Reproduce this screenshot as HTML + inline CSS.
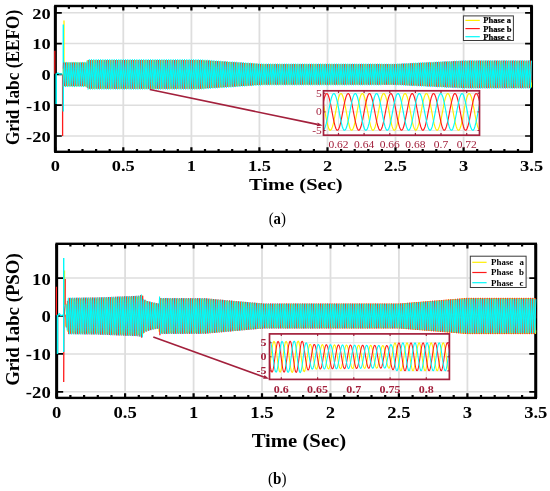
<!DOCTYPE html>
<html lang="en"><head><meta charset="utf-8"><title>Grid Iabc</title>
<style>html,body{margin:0;padding:0;background:#fff}svg{display:block}text{font-family:"Liberation Serif",serif}</style></head>
<body>
<svg width="550" height="491" viewBox="0 0 550 491">
<rect width="550" height="491" fill="#fff"/>
<g>
<line x1="123.3" y1="6.0" x2="123.3" y2="151.8" stroke="#dedede" stroke-width="1.8"/>
<line x1="191.4" y1="6.0" x2="191.4" y2="151.8" stroke="#dedede" stroke-width="1.8"/>
<line x1="259.4" y1="6.0" x2="259.4" y2="151.8" stroke="#dedede" stroke-width="1.8"/>
<line x1="327.5" y1="6.0" x2="327.5" y2="151.8" stroke="#dedede" stroke-width="1.8"/>
<line x1="395.5" y1="6.0" x2="395.5" y2="151.8" stroke="#dedede" stroke-width="1.8"/>
<line x1="463.6" y1="6.0" x2="463.6" y2="151.8" stroke="#dedede" stroke-width="1.8"/>
<line x1="55.3" y1="12.8" x2="531.6" y2="12.8" stroke="#dedede" stroke-width="1.5"/>
<line x1="55.3" y1="43.6" x2="531.6" y2="43.6" stroke="#dedede" stroke-width="1.5"/>
<line x1="55.3" y1="74.4" x2="531.6" y2="74.4" stroke="#dedede" stroke-width="1.5"/>
<line x1="55.3" y1="105.2" x2="531.6" y2="105.2" stroke="#dedede" stroke-width="1.5"/>
<line x1="55.3" y1="136" x2="531.6" y2="136" stroke="#dedede" stroke-width="1.5"/>
<path d="M55.3 6.0v4.6M55.3 151.8v-4.6" stroke="#000" stroke-width="2.2"/>
<path d="M68.9 6.0v2.8M68.9 151.8v-2.8" stroke="#000" stroke-width="2.2"/>
<path d="M82.5 6.0v2.8M82.5 151.8v-2.8" stroke="#000" stroke-width="2.2"/>
<path d="M96.1 6.0v2.8M96.1 151.8v-2.8" stroke="#000" stroke-width="2.2"/>
<path d="M109.7 6.0v2.8M109.7 151.8v-2.8" stroke="#000" stroke-width="2.2"/>
<path d="M123.3 6.0v4.6M123.3 151.8v-4.6" stroke="#000" stroke-width="2.2"/>
<path d="M137 6.0v2.8M137 151.8v-2.8" stroke="#000" stroke-width="2.2"/>
<path d="M150.6 6.0v2.8M150.6 151.8v-2.8" stroke="#000" stroke-width="2.2"/>
<path d="M164.2 6.0v2.8M164.2 151.8v-2.8" stroke="#000" stroke-width="2.2"/>
<path d="M177.8 6.0v2.8M177.8 151.8v-2.8" stroke="#000" stroke-width="2.2"/>
<path d="M191.4 6.0v4.6M191.4 151.8v-4.6" stroke="#000" stroke-width="2.2"/>
<path d="M205 6.0v2.8M205 151.8v-2.8" stroke="#000" stroke-width="2.2"/>
<path d="M218.6 6.0v2.8M218.6 151.8v-2.8" stroke="#000" stroke-width="2.2"/>
<path d="M232.2 6.0v2.8M232.2 151.8v-2.8" stroke="#000" stroke-width="2.2"/>
<path d="M245.8 6.0v2.8M245.8 151.8v-2.8" stroke="#000" stroke-width="2.2"/>
<path d="M259.4 6.0v4.6M259.4 151.8v-4.6" stroke="#000" stroke-width="2.2"/>
<path d="M273 6.0v2.8M273 151.8v-2.8" stroke="#000" stroke-width="2.2"/>
<path d="M286.6 6.0v2.8M286.6 151.8v-2.8" stroke="#000" stroke-width="2.2"/>
<path d="M300.3 6.0v2.8M300.3 151.8v-2.8" stroke="#000" stroke-width="2.2"/>
<path d="M313.9 6.0v2.8M313.9 151.8v-2.8" stroke="#000" stroke-width="2.2"/>
<path d="M327.5 6.0v4.6M327.5 151.8v-4.6" stroke="#000" stroke-width="2.2"/>
<path d="M341.1 6.0v2.8M341.1 151.8v-2.8" stroke="#000" stroke-width="2.2"/>
<path d="M354.7 6.0v2.8M354.7 151.8v-2.8" stroke="#000" stroke-width="2.2"/>
<path d="M368.3 6.0v2.8M368.3 151.8v-2.8" stroke="#000" stroke-width="2.2"/>
<path d="M381.9 6.0v2.8M381.9 151.8v-2.8" stroke="#000" stroke-width="2.2"/>
<path d="M395.5 6.0v4.6M395.5 151.8v-4.6" stroke="#000" stroke-width="2.2"/>
<path d="M409.1 6.0v2.8M409.1 151.8v-2.8" stroke="#000" stroke-width="2.2"/>
<path d="M422.7 6.0v2.8M422.7 151.8v-2.8" stroke="#000" stroke-width="2.2"/>
<path d="M436.3 6.0v2.8M436.3 151.8v-2.8" stroke="#000" stroke-width="2.2"/>
<path d="M449.9 6.0v2.8M449.9 151.8v-2.8" stroke="#000" stroke-width="2.2"/>
<path d="M463.6 6.0v4.6M463.6 151.8v-4.6" stroke="#000" stroke-width="2.2"/>
<path d="M477.2 6.0v2.8M477.2 151.8v-2.8" stroke="#000" stroke-width="2.2"/>
<path d="M490.8 6.0v2.8M490.8 151.8v-2.8" stroke="#000" stroke-width="2.2"/>
<path d="M504.4 6.0v2.8M504.4 151.8v-2.8" stroke="#000" stroke-width="2.2"/>
<path d="M518 6.0v2.8M518 151.8v-2.8" stroke="#000" stroke-width="2.2"/>
<path d="M531.6 6.0v4.6M531.6 151.8v-4.6" stroke="#000" stroke-width="2.2"/>
<path d="M55.3 12.8h6.5M531.6 12.8h-6.5" stroke="#000" stroke-width="1.7"/>
<path d="M55.3 43.6h6.5M531.6 43.6h-6.5" stroke="#000" stroke-width="1.7"/>
<path d="M55.3 74.4h6.5M531.6 74.4h-6.5" stroke="#000" stroke-width="1.7"/>
<path d="M55.3 105.2h6.5M531.6 105.2h-6.5" stroke="#000" stroke-width="1.7"/>
<path d="M55.3 136h6.5M531.6 136h-6.5" stroke="#000" stroke-width="1.7"/>
<rect x="55.3" y="6.0" width="476.3" height="145.8" fill="none" stroke="#000" stroke-width="2.4"/>
<line x1="55.3" y1="6.0" x2="55.3" y2="151.8" stroke="#000" stroke-width="2.9"/>
<line x1="531.6" y1="6.0" x2="531.6" y2="151.8" stroke="#000" stroke-width="2.9"/>
<line x1="54.8" y1="73.8" x2="54.8" y2="50.7" stroke="#ff1a1a" stroke-width="1.2"/>
<line x1="56.2" y1="73.5" x2="56.2" y2="104.0" stroke="#00fafa" stroke-width="1.5"/>
<polyline points="56.4,73.8 58.0,72.9 59.4,74.1 62.1,73.8" fill="none" stroke="#00fafa" stroke-width="1.2"/>
<line x1="64.0" y1="74.4" x2="64.0" y2="20.5" stroke="#ffee00" stroke-width="1.3"/>
<line x1="62.6" y1="74.4" x2="62.6" y2="136.0" stroke="#ff1a1a" stroke-width="1.3"/>
<line x1="63.3" y1="24.5" x2="63.3" y2="111.4" stroke="#00fafa" stroke-width="1.4"/>
<polyline points="63.2,68.1 63.5,77.3 63.8,84.8 64.0,86.2 64.3,80.7 64.6,71.5 64.9,64.0 65.2,62.6 65.5,68.1 65.7,77.3 66.0,84.8 66.3,86.2 66.6,80.7 66.9,71.5 67.2,64.0 67.4,62.6 67.7,68.1 68.0,77.3 68.3,84.8 68.6,86.2 68.9,80.7 69.1,71.5 69.4,64.0 69.7,62.6 70.0,68.1 70.3,77.3 70.6,84.8 70.8,86.2 71.1,80.7 71.4,71.5 71.7,64.0 72.0,62.6 72.3,68.1 72.5,77.3 72.8,84.8 73.1,86.2 73.4,80.7 73.7,71.5 74.0,64.0 74.3,62.6 74.5,68.1 74.8,77.3 75.1,84.8 75.4,86.2 75.7,80.7 76.0,71.5 76.2,64.0 76.5,62.6 76.8,68.1 77.1,77.3 77.4,84.8 77.7,86.2 77.9,80.7 78.2,71.5 78.5,64.0 78.8,62.6 79.1,68.1 79.4,77.4 79.6,84.8 79.9,86.2 80.2,80.7 80.5,71.4 80.8,64.0 81.1,62.6 81.3,68.1 81.6,77.4 81.9,84.8 82.2,86.2 82.5,80.6 82.8,71.4 83.0,64.0 83.3,62.6 83.6,68.2 83.9,77.4 84.2,84.8 84.5,86.2 84.7,80.6 85.0,71.4 85.3,64.0 85.6,62.6 85.9,68.2 86.2,77.4 86.4,85.0 86.7,86.9 87.0,81.3 87.3,71.0 87.6,61.9 87.9,60.1 88.1,66.8 88.4,78.0 88.7,87.1 89.0,88.7 89.3,82.0 89.6,70.8 89.8,61.7 90.1,60.1 90.4,66.8 90.7,78.0 91.0,87.1 91.3,88.7 91.5,82.0 91.8,70.8 92.1,61.7 92.4,60.1 92.7,66.8 93.0,78.0 93.2,87.1 93.5,88.7 93.8,82.0 94.1,70.8 94.4,61.7 94.7,60.1 94.9,66.8 95.2,78.0 95.5,87.1 95.8,88.7 96.1,81.9 96.4,70.7 96.7,61.7 96.9,60.1 97.2,66.9 97.5,78.1 97.8,87.1 98.1,88.7 98.4,81.9 98.6,70.7 98.9,61.7 99.2,60.1 99.5,66.9 99.8,78.1 100.1,87.1 100.3,88.7 100.6,81.9 100.9,70.7 101.2,61.7 101.5,60.1 101.8,66.9 102.0,78.1 102.3,87.1 102.6,88.7 102.9,81.9 103.2,70.7 103.5,61.7 103.7,60.1 104.0,66.9 104.3,78.1 104.6,87.1 104.9,88.7 105.2,81.9 105.4,70.7 105.7,61.7 106.0,60.1 106.3,66.9 106.6,78.1 106.9,87.1 107.1,88.7 107.4,81.9 107.7,70.7 108.0,61.7 108.3,60.1 108.6,66.9 108.8,78.1 109.1,87.1 109.4,88.7 109.7,81.9 110.0,70.7 110.3,61.7 110.5,60.1 110.8,66.9 111.1,78.1 111.4,87.1 111.7,88.7 112.0,81.9 112.2,70.7 112.5,61.7 112.8,60.1 113.1,66.9 113.4,78.1 113.7,87.1 113.9,88.7 114.2,81.9 114.5,70.7 114.8,61.6 115.1,60.1 115.4,66.9 115.6,78.1 115.9,87.2 116.2,88.7 116.5,81.9 116.8,70.7 117.1,61.6 117.3,60.1 117.6,66.9 117.9,78.1 118.2,87.2 118.5,88.7 118.8,81.9 119.1,70.7 119.3,61.6 119.6,60.1 119.9,66.9 120.2,78.1 120.5,87.2 120.8,88.7 121.0,81.9 121.3,70.7 121.6,61.6 121.9,60.1 122.2,66.9 122.5,78.2 122.7,87.2 123.0,88.7 123.3,81.9 123.6,70.6 123.9,61.6 124.2,60.1 124.4,67.0 124.7,78.2 125.0,87.2 125.3,88.7 125.6,81.8 125.9,70.6 126.1,61.6 126.4,60.1 126.7,67.0 127.0,78.2 127.3,87.2 127.6,88.7 127.8,81.8 128.1,70.6 128.4,61.6 128.7,60.1 129.0,67.0 129.3,78.2 129.5,87.2 129.8,88.7 130.1,81.8 130.4,70.6 130.7,61.6 131.0,60.1 131.2,67.0 131.5,78.2 131.8,87.2 132.1,88.7 132.4,81.8 132.7,70.6 132.9,61.6 133.2,60.1 133.5,67.0 133.8,78.2 134.1,87.2 134.4,88.7 134.6,81.8 134.9,70.6 135.2,61.6 135.5,60.1 135.8,67.0 136.1,78.2 136.3,87.2 136.6,88.7 136.9,81.8 137.2,70.6 137.5,61.6 137.8,60.1 138.0,67.0 138.3,78.2 138.6,87.2 138.9,88.7 139.2,81.8 139.5,70.6 139.7,61.6 140.0,60.1 140.3,67.0 140.6,78.2 140.9,87.2 141.2,88.7 141.4,81.8 141.7,70.6 142.0,61.6 142.3,60.1 142.6,67.0 142.9,78.2 143.2,87.2 143.4,88.7 143.7,81.8 144.0,70.6 144.3,61.6 144.6,60.1 144.9,67.0 145.1,78.2 145.4,87.2 145.7,88.7 146.0,81.8 146.3,70.6 146.6,61.6 146.8,60.1 147.1,67.0 147.4,78.2 147.7,87.2 148.0,88.7 148.3,81.8 148.5,70.5 148.8,61.6 149.1,60.1 149.4,67.0 149.7,78.3 150.0,87.2 150.2,88.7 150.5,81.8 150.8,70.5 151.1,61.6 151.4,60.1 151.7,67.0 151.9,78.3 152.2,87.2 152.5,88.7 152.8,81.8 153.1,70.5 153.4,61.6 153.6,60.1 153.9,67.1 154.2,78.3 154.5,87.2 154.8,88.7 155.1,81.7 155.3,70.5 155.6,61.6 155.9,60.1 156.2,67.1 156.5,78.3 156.8,87.2 157.0,88.7 157.3,81.7 157.6,70.5 157.9,61.6 158.2,60.1 158.5,67.1 158.7,78.3 159.0,87.2 159.3,88.7 159.6,81.7 159.9,70.5 160.2,61.6 160.4,60.1 160.7,67.1 161.0,78.3 161.3,87.2 161.6,88.7 161.9,81.7 162.1,70.5 162.4,61.6 162.7,60.1 163.0,67.1 163.3,78.3 163.6,87.2 163.8,88.7 164.1,81.7 164.4,70.5 164.7,61.6 165.0,60.1 165.3,67.1 165.6,78.3 165.8,87.3 166.1,88.7 166.4,81.7 166.7,70.5 167.0,61.5 167.3,60.1 167.5,67.1 167.8,78.3 168.1,87.3 168.4,88.7 168.7,81.7 169.0,70.5 169.2,61.5 169.5,60.1 169.8,67.1 170.1,78.3 170.4,87.3 170.7,88.6 170.9,81.7 171.2,70.5 171.5,61.5 171.8,60.2 172.1,67.1 172.4,78.3 172.6,87.3 172.9,88.6 173.2,81.7 173.5,70.5 173.8,61.5 174.1,60.2 174.3,67.1 174.6,78.4 174.9,87.3 175.2,88.6 175.5,81.7 175.8,70.4 176.0,61.5 176.3,60.2 176.6,67.1 176.9,78.4 177.2,87.3 177.5,88.6 177.7,81.7 178.0,70.4 178.3,61.5 178.6,60.2 178.9,67.1 179.2,78.4 179.4,87.3 179.7,88.6 180.0,81.7 180.3,70.4 180.6,61.5 180.9,60.2 181.1,67.1 181.4,78.4 181.7,87.3 182.0,88.6 182.3,81.7 182.6,70.4 182.8,61.5 183.1,60.2 183.4,67.2 183.7,78.4 184.0,87.3 184.3,88.6 184.5,81.6 184.8,70.4 185.1,61.5 185.4,60.2 185.7,67.2 186.0,78.4 186.2,87.3 186.5,88.6 186.8,81.6 187.1,70.4 187.4,61.5 187.7,60.2 188.0,67.2 188.2,78.4 188.5,87.3 188.8,88.6 189.1,81.6 189.4,70.4 189.7,61.5 189.9,60.2 190.2,67.2 190.5,78.4 190.8,87.3 191.1,88.6 191.4,81.6 191.6,70.4 191.9,61.5 192.2,60.2 192.5,67.2 192.8,78.4 193.1,87.3 193.3,88.6 193.6,81.6 193.9,70.4 194.2,61.5 194.5,60.2 194.8,67.2 195.0,78.4 195.3,87.3 195.6,88.6 195.9,81.6 196.2,70.4 196.5,61.5 196.7,60.2 197.0,67.2 197.3,78.4 197.6,87.3 197.9,88.6 198.2,81.6 198.4,70.4 198.7,61.5 199.0,60.2 199.3,67.2 199.6,78.4 199.9,87.3 200.1,88.6 200.4,81.6 200.7,70.4 201.0,61.6 201.3,60.3 201.6,67.3 201.8,78.4 202.1,87.2 202.4,88.4 202.7,81.5 203.0,70.4 203.3,61.7 203.5,60.4 203.8,67.4 204.1,78.4 204.4,87.0 204.7,88.3 205.0,81.4 205.2,70.4 205.5,61.8 205.8,60.6 206.1,67.4 206.4,78.3 206.7,86.9 206.9,88.1 207.2,81.3 207.5,70.5 207.8,62.0 208.1,60.7 208.4,67.5 208.6,78.3 208.9,86.8 209.2,88.0 209.5,81.2 209.8,70.5 210.1,62.1 210.3,60.9 210.6,67.6 210.9,78.3 211.2,86.7 211.5,87.8 211.8,81.2 212.1,70.5 212.3,62.2 212.6,61.0 212.9,67.7 213.2,78.2 213.5,86.5 213.8,87.7 214.0,81.1 214.3,70.6 214.6,62.3 214.9,61.2 215.2,67.8 215.5,78.2 215.7,86.4 216.0,87.5 216.3,81.0 216.6,70.6 216.9,62.5 217.2,61.3 217.4,67.9 217.7,78.2 218.0,86.3 218.3,87.4 218.6,80.9 218.9,70.6 219.1,62.6 219.4,61.5 219.7,67.9 220.0,78.1 220.3,86.1 220.6,87.2 220.8,80.8 221.1,70.7 221.4,62.7 221.7,61.6 222.0,68.0 222.3,78.1 222.5,86.0 222.8,87.1 223.1,80.7 223.4,70.7 223.7,62.9 224.0,61.8 224.2,68.1 224.5,78.1 224.8,85.9 225.1,86.9 225.4,80.7 225.7,70.7 225.9,63.0 226.2,61.9 226.5,68.2 226.8,78.0 227.1,85.7 227.4,86.8 227.6,80.6 227.9,70.8 228.2,63.1 228.5,62.1 228.8,68.3 229.1,78.0 229.3,85.6 229.6,86.6 229.9,80.5 230.2,70.8 230.5,63.3 230.8,62.2 231.0,68.3 231.3,78.0 231.6,85.5 231.9,86.5 232.2,80.4 232.5,70.9 232.7,63.4 233.0,62.4 233.3,68.4 233.6,77.9 233.9,85.4 234.2,86.3 234.5,80.3 234.7,70.9 235.0,63.5 235.3,62.5 235.6,68.5 235.9,77.9 236.2,85.2 236.4,86.2 236.7,80.3 237.0,70.9 237.3,63.6 237.6,62.7 237.9,68.6 238.1,77.9 238.4,85.1 238.7,86.0 239.0,80.2 239.3,71.0 239.6,63.8 239.8,62.8 240.1,68.7 240.4,77.8 240.7,85.0 241.0,85.9 241.3,80.1 241.5,71.0 241.8,63.9 242.1,63.0 242.4,68.7 242.7,77.8 243.0,84.8 243.2,85.7 243.5,80.0 243.8,71.0 244.1,64.0 244.4,63.1 244.7,68.8 244.9,77.7 245.2,84.7 245.5,85.6 245.8,79.9 246.1,71.1 246.4,64.2 246.6,63.3 246.9,68.9 247.2,77.7 247.5,84.6 247.8,85.4 248.1,79.9 248.3,71.1 248.6,64.3 248.9,63.4 249.2,69.0 249.5,77.7 249.8,84.4 250.0,85.3 250.3,79.8 250.6,71.1 250.9,64.4 251.2,63.6 251.5,69.0 251.7,77.6 252.0,84.3 252.3,85.2 252.6,79.7 252.9,71.2 253.2,64.6 253.4,63.7 253.7,69.1 254.0,77.6 254.3,84.2 254.6,85.0 254.9,79.6 255.1,71.2 255.4,64.7 255.7,63.9 256.0,69.2 256.3,77.6 256.6,84.0 256.9,84.9 257.1,79.6 257.4,71.3 257.7,64.8 258.0,64.0 258.3,69.3 258.6,77.5 258.8,83.9 259.1,84.7 259.4,79.5 259.7,71.3 260.0,65.0 260.3,64.2 260.5,69.4 260.8,77.5 261.1,83.8 261.4,84.6 261.7,79.4 262.0,71.3 262.2,65.1 262.5,64.3 262.8,69.4 263.1,77.4 263.4,83.6 263.7,84.4 263.9,79.3 264.2,71.4 264.5,65.2 264.8,64.4 265.1,69.5 265.4,77.4 265.6,83.6 265.9,84.4 266.2,79.3 266.5,71.4 266.8,65.2 267.1,64.4 267.3,69.5 267.6,77.5 267.9,83.6 268.2,84.4 268.5,79.3 268.8,71.3 269.0,65.2 269.3,64.4 269.6,69.5 269.9,77.5 270.2,83.6 270.5,84.4 270.7,79.3 271.0,71.3 271.3,65.2 271.6,64.4 271.9,69.5 272.2,77.5 272.4,83.6 272.7,84.4 273.0,79.3 273.3,71.3 273.6,65.2 273.9,64.4 274.1,69.5 274.4,77.5 274.7,83.7 275.0,84.4 275.3,79.3 275.6,71.3 275.8,65.1 276.1,64.4 276.4,69.5 276.7,77.5 277.0,83.7 277.3,84.4 277.5,79.3 277.8,71.3 278.1,65.1 278.4,64.4 278.7,69.5 279.0,77.5 279.2,83.7 279.5,84.4 279.8,79.3 280.1,71.3 280.4,65.1 280.7,64.4 281.0,69.5 281.2,77.5 281.5,83.7 281.8,84.4 282.1,79.3 282.4,71.3 282.7,65.1 282.9,64.4 283.2,69.5 283.5,77.5 283.8,83.7 284.1,84.4 284.4,79.3 284.6,71.3 284.9,65.1 285.2,64.4 285.5,69.5 285.8,77.5 286.1,83.7 286.3,84.4 286.6,79.3 286.9,71.3 287.2,65.1 287.5,64.4 287.8,69.5 288.0,77.5 288.3,83.7 288.6,84.4 288.9,79.3 289.2,71.3 289.5,65.1 289.7,64.4 290.0,69.5 290.3,77.5 290.6,83.7 290.9,84.4 291.2,79.3 291.4,71.3 291.7,65.1 292.0,64.4 292.3,69.5 292.6,77.5 292.9,83.7 293.1,84.4 293.4,79.3 293.7,71.3 294.0,65.1 294.3,64.4 294.6,69.5 294.8,77.5 295.1,83.7 295.4,84.4 295.7,79.3 296.0,71.3 296.3,65.1 296.5,64.4 296.8,69.5 297.1,77.5 297.4,83.7 297.7,84.4 298.0,79.3 298.2,71.3 298.5,65.1 298.8,64.4 299.1,69.6 299.4,77.5 299.7,83.7 299.9,84.4 300.2,79.2 300.5,71.3 300.8,65.1 301.1,64.4 301.4,69.6 301.6,77.5 301.9,83.7 302.2,84.4 302.5,79.2 302.8,71.3 303.1,65.1 303.4,64.4 303.6,69.6 303.9,77.5 304.2,83.7 304.5,84.4 304.8,79.2 305.1,71.2 305.3,65.1 305.6,64.4 305.9,69.6 306.2,77.6 306.5,83.7 306.8,84.4 307.0,79.2 307.3,71.2 307.6,65.1 307.9,64.4 308.2,69.6 308.5,77.6 308.7,83.7 309.0,84.4 309.3,79.2 309.6,71.2 309.9,65.1 310.2,64.4 310.4,69.6 310.7,77.6 311.0,83.7 311.3,84.4 311.6,79.2 311.9,71.2 312.1,65.1 312.4,64.4 312.7,69.6 313.0,77.6 313.3,83.7 313.6,84.4 313.8,79.2 314.1,71.2 314.4,65.1 314.7,64.4 315.0,69.6 315.3,77.6 315.5,83.7 315.8,84.4 316.1,79.2 316.4,71.2 316.7,65.1 317.0,64.4 317.2,69.6 317.5,77.6 317.8,83.7 318.1,84.4 318.4,79.2 318.7,71.2 318.9,65.1 319.2,64.4 319.5,69.6 319.8,77.6 320.1,83.7 320.4,84.4 320.6,79.2 320.9,71.2 321.2,65.1 321.5,64.4 321.8,69.6 322.1,77.6 322.3,83.7 322.6,84.4 322.9,79.2 323.2,71.2 323.5,65.1 323.8,64.4 324.0,69.6 324.3,77.6 324.6,83.7 324.9,84.4 325.2,79.2 325.5,71.2 325.8,65.1 326.0,64.4 326.3,69.6 326.6,77.6 326.9,83.7 327.2,84.4 327.5,79.2 327.7,71.2 328.0,65.1 328.3,64.4 328.6,69.6 328.9,77.6 329.2,83.7 329.4,84.4 329.7,79.2 330.0,71.2 330.3,65.1 330.6,64.4 330.9,69.6 331.1,77.6 331.4,83.7 331.7,84.4 332.0,79.2 332.3,71.2 332.6,65.1 332.8,64.4 333.1,69.6 333.4,77.6 333.7,83.7 334.0,84.4 334.3,79.2 334.5,71.2 334.8,65.1 335.1,64.4 335.4,69.6 335.7,77.6 336.0,83.7 336.2,84.4 336.5,79.2 336.8,71.2 337.1,65.1 337.4,64.4 337.7,69.6 337.9,77.6 338.2,83.7 338.5,84.4 338.8,79.1 339.1,71.2 339.4,65.1 339.6,64.4 339.9,69.7 340.2,77.6 340.5,83.7 340.8,84.4 341.1,79.1 341.3,71.2 341.6,65.1 341.9,64.4 342.2,69.7 342.5,77.7 342.8,83.7 343.0,84.4 343.3,79.1 343.6,71.1 343.9,65.1 344.2,64.4 344.5,69.7 344.7,77.7 345.0,83.7 345.3,84.4 345.6,79.1 345.9,71.1 346.2,65.1 346.4,64.4 346.7,69.7 347.0,77.7 347.3,83.7 347.6,84.3 347.9,79.1 348.2,71.1 348.4,65.1 348.7,64.5 349.0,69.7 349.3,77.7 349.6,83.7 349.9,84.3 350.1,79.1 350.4,71.1 350.7,65.1 351.0,64.5 351.3,69.7 351.6,77.7 351.8,83.8 352.1,84.3 352.4,79.1 352.7,71.1 353.0,65.0 353.3,64.5 353.5,69.7 353.8,77.7 354.1,83.8 354.4,84.3 354.7,79.1 355.0,71.1 355.2,65.0 355.5,64.5 355.8,69.7 356.1,77.7 356.4,83.8 356.7,84.3 356.9,79.1 357.2,71.1 357.5,65.0 357.8,64.5 358.1,69.7 358.4,77.7 358.6,83.8 358.9,84.3 359.2,79.1 359.5,71.1 359.8,65.0 360.1,64.5 360.3,69.7 360.6,77.7 360.9,83.8 361.2,84.3 361.5,79.1 361.8,71.1 362.0,65.0 362.3,64.5 362.6,69.7 362.9,77.7 363.2,83.8 363.5,84.3 363.7,79.1 364.0,71.1 364.3,65.0 364.6,64.5 364.9,69.7 365.2,77.7 365.4,83.8 365.7,84.3 366.0,79.1 366.3,71.1 366.6,65.0 366.9,64.5 367.1,69.7 367.4,77.7 367.7,83.8 368.0,84.3 368.3,79.1 368.6,71.1 368.8,65.0 369.1,64.5 369.4,69.7 369.7,77.7 370.0,83.8 370.3,84.3 370.5,79.1 370.8,71.1 371.1,65.0 371.4,64.5 371.7,69.7 372.0,77.7 372.3,83.8 372.5,84.3 372.8,79.1 373.1,71.1 373.4,65.0 373.7,64.5 374.0,69.7 374.2,77.7 374.5,83.8 374.8,84.3 375.1,79.1 375.4,71.1 375.7,65.0 375.9,64.5 376.2,69.7 376.5,77.7 376.8,83.8 377.1,84.3 377.4,79.1 377.6,71.1 377.9,65.0 378.2,64.5 378.5,69.8 378.8,77.7 379.1,83.8 379.3,84.3 379.6,79.0 379.9,71.0 380.2,65.0 380.5,64.5 380.8,69.8 381.0,77.8 381.3,83.8 381.6,84.3 381.9,79.0 382.2,71.0 382.5,65.0 382.7,64.5 383.0,69.8 383.3,77.8 383.6,83.8 383.9,84.3 384.2,79.0 384.4,71.0 384.7,65.0 385.0,64.5 385.3,69.8 385.6,77.8 385.9,83.8 386.1,84.3 386.4,79.0 386.7,71.0 387.0,65.0 387.3,64.5 387.6,69.8 387.8,77.8 388.1,83.8 388.4,84.3 388.7,79.0 389.0,71.0 389.3,65.0 389.5,64.5 389.8,69.8 390.1,77.8 390.4,83.8 390.7,84.3 391.0,79.0 391.2,71.0 391.5,65.0 391.8,64.5 392.1,69.8 392.4,77.8 392.7,83.8 392.9,84.3 393.2,79.0 393.5,71.0 393.8,65.0 394.1,64.5 394.4,69.8 394.7,77.8 394.9,83.8 395.2,84.3 395.5,79.0 395.8,71.0 396.1,65.0 396.4,64.5 396.6,69.8 396.9,77.8 397.2,83.9 397.5,84.4 397.8,79.0 398.1,71.0 398.3,64.9 398.6,64.3 398.9,69.7 399.2,77.9 399.5,84.0 399.8,84.5 400.0,79.1 400.3,70.9 400.6,64.8 400.9,64.2 401.2,69.7 401.5,77.9 401.7,84.1 402.0,84.6 402.3,79.1 402.6,70.9 402.9,64.7 403.2,64.1 403.4,69.6 403.7,77.9 404.0,84.2 404.3,84.7 404.6,79.2 404.9,70.8 405.1,64.6 405.4,64.0 405.7,69.6 406.0,78.0 406.3,84.3 406.6,84.8 406.8,79.2 407.1,70.8 407.4,64.4 407.7,63.9 408.0,69.6 408.3,78.0 408.5,84.4 408.8,84.9 409.1,79.3 409.4,70.7 409.7,64.3 410.0,63.8 410.2,69.5 410.5,78.1 410.8,84.5 411.1,85.0 411.4,79.3 411.7,70.7 411.9,64.2 412.2,63.7 412.5,69.5 412.8,78.1 413.1,84.6 413.4,85.1 413.6,79.4 413.9,70.7 414.2,64.1 414.5,63.6 414.8,69.4 415.1,78.2 415.3,84.7 415.6,85.2 415.9,79.4 416.2,70.6 416.5,64.0 416.8,63.5 417.1,69.4 417.3,78.2 417.6,84.8 417.9,85.3 418.2,79.4 418.5,70.6 418.8,63.9 419.0,63.4 419.3,69.3 419.6,78.3 419.9,84.9 420.2,85.4 420.5,79.5 420.7,70.5 421.0,63.8 421.3,63.3 421.6,69.3 421.9,78.3 422.2,85.0 422.4,85.5 422.7,79.5 423.0,70.5 423.3,63.7 423.6,63.2 423.9,69.3 424.1,78.3 424.4,85.1 424.7,85.7 425.0,79.6 425.3,70.4 425.6,63.6 425.8,63.1 426.1,69.2 426.4,78.4 426.7,85.2 427.0,85.8 427.3,79.6 427.5,70.4 427.8,63.5 428.1,63.0 428.4,69.2 428.7,78.4 429.0,85.3 429.2,85.9 429.5,79.7 429.8,70.3 430.1,63.4 430.4,62.9 430.7,69.1 430.9,78.5 431.2,85.5 431.5,86.0 431.8,79.7 432.1,70.3 432.4,63.3 432.6,62.8 432.9,69.1 433.2,78.5 433.5,85.6 433.8,86.1 434.1,79.7 434.3,70.3 434.6,63.2 434.9,62.7 435.2,69.0 435.5,78.6 435.8,85.7 436.0,86.2 436.3,79.8 436.6,70.2 436.9,63.1 437.2,62.6 437.5,69.0 437.7,78.6 438.0,85.8 438.3,86.3 438.6,79.8 438.9,70.2 439.2,63.0 439.4,62.5 439.7,69.0 440.0,78.7 440.3,85.9 440.6,86.4 440.9,79.9 441.2,70.1 441.4,62.9 441.7,62.4 442.0,68.9 442.3,78.7 442.6,86.0 442.9,86.5 443.1,79.9 443.4,70.1 443.7,62.8 444.0,62.3 444.3,68.9 444.6,78.7 444.8,86.1 445.1,86.6 445.4,79.9 445.7,70.0 446.0,62.7 446.3,62.2 446.5,68.8 446.8,78.8 447.1,86.2 447.4,86.7 447.7,80.0 448.0,70.0 448.2,62.6 448.5,62.1 448.8,68.8 449.1,78.8 449.4,86.3 449.7,86.8 449.9,80.0 450.2,69.9 450.5,62.5 450.8,62.0 451.1,68.8 451.4,78.9 451.6,86.4 451.9,86.9 452.2,80.1 452.5,69.9 452.8,62.3 453.1,61.9 453.3,68.7 453.6,78.9 453.9,86.5 454.2,87.0 454.5,80.1 454.8,69.8 455.0,62.2 455.3,61.7 455.6,68.7 455.9,79.0 456.2,86.6 456.5,87.1 456.7,80.1 457.0,69.8 457.3,62.1 457.6,61.6 457.9,68.6 458.2,79.0 458.4,86.7 458.7,87.2 459.0,80.2 459.3,69.8 459.6,62.0 459.9,61.5 460.1,68.6 460.4,79.1 460.7,86.8 461.0,87.3 461.3,80.2 461.6,69.7 461.8,61.9 462.1,61.4 462.4,68.6 462.7,79.1 463.0,86.9 463.3,87.4 463.6,80.3 463.8,69.7 464.1,61.8 464.4,61.4 464.7,68.5 465.0,79.1 465.3,87.0 465.5,87.4 465.8,80.3 466.1,69.7 466.4,61.8 466.7,61.4 467.0,68.5 467.2,79.1 467.5,87.0 467.8,87.4 468.1,80.3 468.4,69.7 468.7,61.8 468.9,61.4 469.2,68.6 469.5,79.2 469.8,87.0 470.1,87.4 470.4,80.2 470.6,69.6 470.9,61.8 471.2,61.4 471.5,68.6 471.8,79.2 472.1,87.0 472.3,87.4 472.6,80.2 472.9,69.6 473.2,61.8 473.5,61.4 473.8,68.6 474.0,79.2 474.3,87.0 474.6,87.4 474.9,80.2 475.2,69.6 475.5,61.8 475.7,61.4 476.0,68.6 476.3,79.2 476.6,87.0 476.9,87.4 477.2,80.2 477.4,69.6 477.7,61.8 478.0,61.4 478.3,68.6 478.6,79.2 478.9,87.0 479.1,87.4 479.4,80.2 479.7,69.6 480.0,61.8 480.3,61.4 480.6,68.6 480.8,79.2 481.1,87.0 481.4,87.4 481.7,80.2 482.0,69.6 482.3,61.8 482.5,61.4 482.8,68.6 483.1,79.2 483.4,87.0 483.7,87.4 484.0,80.2 484.2,69.6 484.5,61.8 484.8,61.4 485.1,68.6 485.4,79.2 485.7,87.0 486.0,87.4 486.2,80.2 486.5,69.6 486.8,61.8 487.1,61.4 487.4,68.6 487.7,79.2 487.9,87.0 488.2,87.4 488.5,80.2 488.8,69.6 489.1,61.8 489.4,61.4 489.6,68.6 489.9,79.2 490.2,87.0 490.5,87.4 490.8,80.2 491.1,69.6 491.3,61.8 491.6,61.4 491.9,68.6 492.2,79.2 492.5,87.0 492.8,87.4 493.0,80.2 493.3,69.6 493.6,61.8 493.9,61.4 494.2,68.6 494.5,79.2 494.7,87.0 495.0,87.4 495.3,80.2 495.6,69.6 495.9,61.8 496.2,61.4 496.4,68.6 496.7,79.2 497.0,87.0 497.3,87.4 497.6,80.2 497.9,69.6 498.1,61.8 498.4,61.4 498.7,68.7 499.0,79.3 499.3,87.0 499.6,87.4 499.8,80.1 500.1,69.5 500.4,61.8 500.7,61.4 501.0,68.7 501.3,79.3 501.5,87.0 501.8,87.4 502.1,80.1 502.4,69.5 502.7,61.8 503.0,61.4 503.2,68.7 503.5,79.3 503.8,87.0 504.1,87.4 504.4,80.1 504.7,69.5 504.9,61.8 505.2,61.4 505.5,68.7 505.8,79.3 506.1,87.0 506.4,87.4 506.6,80.1 506.9,69.5 507.2,61.8 507.5,61.4 507.8,68.7 508.1,79.3 508.3,87.0 508.6,87.4 508.9,80.1 509.2,69.5 509.5,61.8 509.8,61.4 510.1,68.7 510.3,79.3 510.6,87.0 510.9,87.4 511.2,80.1 511.5,69.5 511.8,61.8 512.0,61.4 512.3,68.7 512.6,79.3 512.9,87.0 513.2,87.4 513.5,80.1 513.7,69.5 514.0,61.8 514.3,61.4 514.6,68.7 514.9,79.3 515.2,87.0 515.4,87.4 515.7,80.1 516.0,69.5 516.3,61.8 516.6,61.4 516.9,68.7 517.1,79.3 517.4,87.0 517.7,87.4 518.0,80.1 518.3,69.5 518.6,61.8 518.8,61.4 519.1,68.7 519.4,79.3 519.7,87.0 520.0,87.4 520.3,80.1 520.5,69.5 520.8,61.8 521.1,61.4 521.4,68.7 521.7,79.3 522.0,87.0 522.2,87.4 522.5,80.1 522.8,69.5 523.1,61.8 523.4,61.4 523.7,68.7 523.9,79.3 524.2,87.1 524.5,87.3 524.8,80.1 525.1,69.5 525.4,61.7 525.6,61.5 525.9,68.7 526.2,79.3 526.5,87.1 526.8,87.3 527.1,80.1 527.3,69.4 527.6,61.7 527.9,61.5 528.2,68.8 528.5,79.4 528.8,87.1 529.0,87.3 529.3,80.0 529.6,69.4 529.9,61.7 530.2,61.5 530.5,68.8 530.7,79.4 531.0,87.1 531.3,87.3 531.6,80.0" fill="none" stroke="#ffee00" stroke-width="1.0" stroke-linejoin="round"/>
<polyline points="63.2,68.5 63.5,62.7 63.8,63.7 64.0,71.0 64.3,80.3 64.6,86.1 64.9,85.1 65.2,77.8 65.5,68.5 65.7,62.7 66.0,63.7 66.3,71.0 66.6,80.3 66.9,86.1 67.2,85.1 67.4,77.8 67.7,68.5 68.0,62.7 68.3,63.7 68.6,71.0 68.9,80.3 69.1,86.1 69.4,85.1 69.7,77.8 70.0,68.5 70.3,62.7 70.6,63.8 70.8,71.0 71.1,80.3 71.4,86.1 71.7,85.0 72.0,77.8 72.3,68.5 72.5,62.7 72.8,63.8 73.1,71.0 73.4,80.3 73.7,86.1 74.0,85.0 74.3,77.8 74.5,68.5 74.8,62.7 75.1,63.8 75.4,71.0 75.7,80.3 76.0,86.1 76.2,85.0 76.5,77.8 76.8,68.5 77.1,62.7 77.4,63.8 77.7,71.1 77.9,80.3 78.2,86.1 78.5,85.0 78.8,77.7 79.1,68.5 79.4,62.7 79.6,63.8 79.9,71.1 80.2,80.3 80.5,86.1 80.8,85.0 81.1,77.7 81.3,68.5 81.6,62.7 81.9,63.8 82.2,71.1 82.5,80.3 82.8,86.1 83.0,85.0 83.3,77.7 83.6,68.5 83.9,62.7 84.2,63.8 84.5,71.1 84.7,80.3 85.0,86.1 85.3,85.0 85.6,77.7 85.9,68.5 86.2,62.7 86.4,63.6 86.7,70.9 87.0,81.0 87.3,87.9 87.6,87.1 87.9,78.4 88.1,67.2 88.4,60.2 88.7,61.5 89.0,70.4 89.3,81.6 89.6,88.6 89.8,87.3 90.1,78.4 90.4,67.2 90.7,60.2 91.0,61.5 91.3,70.4 91.5,81.6 91.8,88.6 92.1,87.3 92.4,78.4 92.7,67.2 93.0,60.2 93.2,61.5 93.5,70.4 93.8,81.6 94.1,88.6 94.4,87.3 94.7,78.4 94.9,67.2 95.2,60.2 95.5,61.5 95.8,70.4 96.1,81.6 96.4,88.6 96.7,87.3 96.9,78.4 97.2,67.2 97.5,60.2 97.8,61.5 98.1,70.4 98.4,81.6 98.6,88.6 98.9,87.3 99.2,78.4 99.5,67.2 99.8,60.2 100.1,61.5 100.3,70.4 100.6,81.7 100.9,88.6 101.2,87.3 101.5,78.4 101.8,67.1 102.0,60.2 102.3,61.5 102.6,70.4 102.9,81.7 103.2,88.6 103.5,87.3 103.7,78.4 104.0,67.1 104.3,60.2 104.6,61.5 104.9,70.4 105.2,81.7 105.4,88.6 105.7,87.3 106.0,78.4 106.3,67.1 106.6,60.2 106.9,61.5 107.1,70.4 107.4,81.7 107.7,88.6 108.0,87.3 108.3,78.4 108.6,67.1 108.8,60.2 109.1,61.5 109.4,70.5 109.7,81.7 110.0,88.6 110.3,87.3 110.5,78.3 110.8,67.1 111.1,60.2 111.4,61.5 111.7,70.5 112.0,81.7 112.2,88.7 112.5,87.3 112.8,78.3 113.1,67.1 113.4,60.1 113.7,61.5 113.9,70.5 114.2,81.7 114.5,88.7 114.8,87.3 115.1,78.3 115.4,67.1 115.6,60.1 115.9,61.5 116.2,70.5 116.5,81.7 116.8,88.7 117.1,87.3 117.3,78.3 117.6,67.1 117.9,60.1 118.2,61.6 118.5,70.5 118.8,81.7 119.1,88.7 119.3,87.2 119.6,78.3 119.9,67.1 120.2,60.1 120.5,61.6 120.8,70.5 121.0,81.7 121.3,88.7 121.6,87.2 121.9,78.3 122.2,67.1 122.5,60.1 122.7,61.6 123.0,70.5 123.3,81.7 123.6,88.7 123.9,87.2 124.2,78.3 124.4,67.1 124.7,60.1 125.0,61.6 125.3,70.5 125.6,81.7 125.9,88.7 126.1,87.2 126.4,78.3 126.7,67.1 127.0,60.1 127.3,61.6 127.6,70.5 127.8,81.7 128.1,88.7 128.4,87.2 128.7,78.3 129.0,67.1 129.3,60.1 129.5,61.6 129.8,70.5 130.1,81.8 130.4,88.7 130.7,87.2 131.0,78.3 131.2,67.0 131.5,60.1 131.8,61.6 132.1,70.5 132.4,81.8 132.7,88.7 132.9,87.2 133.2,78.3 133.5,67.0 133.8,60.1 134.1,61.6 134.4,70.5 134.6,81.8 134.9,88.7 135.2,87.2 135.5,78.2 135.8,67.0 136.1,60.1 136.3,61.6 136.6,70.6 136.9,81.8 137.2,88.7 137.5,87.2 137.8,78.2 138.0,67.0 138.3,60.1 138.6,61.6 138.9,70.6 139.2,81.8 139.5,88.7 139.7,87.2 140.0,78.2 140.3,67.0 140.6,60.1 140.9,61.6 141.2,70.6 141.4,81.8 141.7,88.7 142.0,87.2 142.3,78.2 142.6,67.0 142.9,60.1 143.2,61.6 143.4,70.6 143.7,81.8 144.0,88.7 144.3,87.2 144.6,78.2 144.9,67.0 145.1,60.1 145.4,61.6 145.7,70.6 146.0,81.8 146.3,88.7 146.6,87.2 146.8,78.2 147.1,67.0 147.4,60.1 147.7,61.6 148.0,70.6 148.3,81.8 148.5,88.7 148.8,87.2 149.1,78.2 149.4,67.0 149.7,60.1 150.0,61.6 150.2,70.6 150.5,81.8 150.8,88.7 151.1,87.2 151.4,78.2 151.7,67.0 151.9,60.1 152.2,61.6 152.5,70.6 152.8,81.8 153.1,88.7 153.4,87.2 153.6,78.2 153.9,67.0 154.2,60.1 154.5,61.6 154.8,70.6 155.1,81.8 155.3,88.7 155.6,87.2 155.9,78.2 156.2,67.0 156.5,60.1 156.8,61.6 157.0,70.6 157.3,81.8 157.6,88.7 157.9,87.2 158.2,78.2 158.5,66.9 158.7,60.1 159.0,61.6 159.3,70.6 159.6,81.9 159.9,88.7 160.2,87.2 160.4,78.2 160.7,66.9 161.0,60.1 161.3,61.6 161.6,70.7 161.9,81.9 162.1,88.7 162.4,87.2 162.7,78.1 163.0,66.9 163.3,60.1 163.6,61.6 163.8,70.7 164.1,81.9 164.4,88.7 164.7,87.2 165.0,78.1 165.3,66.9 165.6,60.1 165.8,61.6 166.1,70.7 166.4,81.9 166.7,88.7 167.0,87.2 167.3,78.1 167.5,66.9 167.8,60.1 168.1,61.7 168.4,70.7 168.7,81.9 169.0,88.7 169.2,87.1 169.5,78.1 169.8,66.9 170.1,60.1 170.4,61.7 170.7,70.7 170.9,81.9 171.2,88.7 171.5,87.1 171.8,78.1 172.1,66.9 172.4,60.1 172.6,61.7 172.9,70.7 173.2,81.9 173.5,88.7 173.8,87.1 174.1,78.1 174.3,66.9 174.6,60.1 174.9,61.7 175.2,70.7 175.5,81.9 175.8,88.7 176.0,87.1 176.3,78.1 176.6,66.9 176.9,60.1 177.2,61.7 177.5,70.7 177.7,81.9 178.0,88.7 178.3,87.1 178.6,78.1 178.9,66.9 179.2,60.1 179.4,61.7 179.7,70.7 180.0,81.9 180.3,88.7 180.6,87.1 180.9,78.1 181.1,66.9 181.4,60.1 181.7,61.7 182.0,70.7 182.3,81.9 182.6,88.7 182.8,87.1 183.1,78.1 183.4,66.9 183.7,60.1 184.0,61.7 184.3,70.7 184.5,81.9 184.8,88.7 185.1,87.1 185.4,78.1 185.7,66.9 186.0,60.1 186.2,61.7 186.5,70.7 186.8,81.9 187.1,88.7 187.4,87.1 187.7,78.0 188.0,66.8 188.2,60.1 188.5,61.7 188.8,70.8 189.1,82.0 189.4,88.7 189.7,87.1 189.9,78.0 190.2,66.8 190.5,60.1 190.8,61.7 191.1,70.8 191.4,82.0 191.6,88.7 191.9,87.1 192.2,78.0 192.5,66.8 192.8,60.1 193.1,61.7 193.3,70.8 193.6,82.0 193.9,88.7 194.2,87.1 194.5,78.0 194.8,66.8 195.0,60.1 195.3,61.7 195.6,70.8 195.9,82.0 196.2,88.7 196.5,87.1 196.7,78.0 197.0,66.8 197.3,60.1 197.6,61.7 197.9,70.8 198.2,82.0 198.4,88.7 198.7,87.1 199.0,78.0 199.3,66.8 199.6,60.1 199.9,61.7 200.1,70.8 200.4,82.0 200.7,88.7 201.0,87.0 201.3,78.0 201.6,66.9 201.8,60.2 202.1,61.9 202.4,70.9 202.7,81.9 203.0,88.5 203.3,86.9 203.5,77.9 203.8,66.9 204.1,60.4 204.4,62.0 204.7,70.9 205.0,81.8 205.2,88.4 205.5,86.7 205.8,77.9 206.1,67.0 206.4,60.5 206.7,62.1 206.9,70.9 207.2,81.8 207.5,88.2 207.8,86.6 208.1,77.8 208.4,67.1 208.6,60.6 208.9,62.3 209.2,71.0 209.5,81.7 209.8,88.1 210.1,86.5 210.3,77.8 210.6,67.2 210.9,60.8 211.2,62.4 211.5,71.0 211.8,81.6 212.1,87.9 212.3,86.3 212.6,77.7 212.9,67.2 213.2,60.9 213.5,62.5 213.8,71.1 214.0,81.5 214.3,87.8 214.6,86.2 214.9,77.7 215.2,67.3 215.5,61.1 215.7,62.7 216.0,71.1 216.3,81.5 216.6,87.6 216.9,86.1 217.2,77.7 217.4,67.4 217.7,61.2 218.0,62.8 218.3,71.2 218.6,81.4 218.9,87.5 219.1,85.9 219.4,77.6 219.7,67.4 220.0,61.4 220.3,63.0 220.6,71.2 220.8,81.3 221.1,87.3 221.4,85.8 221.7,77.6 222.0,67.5 222.3,61.5 222.5,63.1 222.8,71.3 223.1,81.2 223.4,87.2 223.7,85.6 224.0,77.5 224.2,67.6 224.5,61.7 224.8,63.2 225.1,71.3 225.4,81.2 225.7,87.1 225.9,85.5 226.2,77.5 226.5,67.7 226.8,61.8 227.1,63.4 227.4,71.3 227.6,81.1 227.9,86.9 228.2,85.4 228.5,77.4 228.8,67.7 229.1,62.0 229.3,63.5 229.6,71.4 229.9,81.0 230.2,86.8 230.5,85.2 230.8,77.4 231.0,67.8 231.3,62.1 231.6,63.6 231.9,71.4 232.2,81.0 232.5,86.6 232.7,85.1 233.0,77.3 233.3,67.9 233.6,62.3 233.9,63.8 234.2,71.5 234.5,80.9 234.7,86.5 235.0,85.0 235.3,77.3 235.6,68.0 235.9,62.4 236.2,63.9 236.4,71.5 236.7,80.8 237.0,86.3 237.3,84.8 237.6,77.3 237.9,68.0 238.1,62.6 238.4,64.0 238.7,71.6 239.0,80.7 239.3,86.2 239.6,84.7 239.8,77.2 240.1,68.1 240.4,62.7 240.7,64.2 241.0,71.6 241.3,80.7 241.5,86.0 241.8,84.6 242.1,77.2 242.4,68.2 242.7,62.8 243.0,64.3 243.2,71.6 243.5,80.6 243.8,85.9 244.1,84.4 244.4,77.1 244.7,68.2 244.9,63.0 245.2,64.4 245.5,71.7 245.8,80.5 246.1,85.7 246.4,84.3 246.6,77.1 246.9,68.3 247.2,63.1 247.5,64.6 247.8,71.7 248.1,80.4 248.3,85.6 248.6,84.2 248.9,77.0 249.2,68.4 249.5,63.3 249.8,64.7 250.0,71.8 250.3,80.4 250.6,85.4 250.9,84.0 251.2,77.0 251.5,68.5 251.7,63.4 252.0,64.8 252.3,71.8 252.6,80.3 252.9,85.3 253.2,83.9 253.4,77.0 253.7,68.5 254.0,63.6 254.3,65.0 254.6,71.9 254.9,80.2 255.1,85.1 255.4,83.8 255.7,76.9 256.0,68.6 256.3,63.7 256.6,65.1 256.9,71.9 257.1,80.1 257.4,85.0 257.7,83.6 258.0,76.9 258.3,68.7 258.6,63.9 258.8,65.2 259.1,71.9 259.4,80.1 259.7,84.8 260.0,83.5 260.3,76.8 260.5,68.8 260.8,64.0 261.1,65.4 261.4,72.0 261.7,80.0 262.0,84.7 262.2,83.4 262.5,76.8 262.8,68.8 263.1,64.2 263.4,65.5 263.7,72.0 263.9,79.9 264.2,84.6 264.5,83.3 264.8,76.8 265.1,68.9 265.4,64.2 265.6,65.5 265.9,72.0 266.2,79.9 266.5,84.6 266.8,83.3 267.1,76.8 267.3,68.9 267.6,64.2 267.9,65.5 268.2,72.0 268.5,79.9 268.8,84.6 269.0,83.3 269.3,76.8 269.6,68.9 269.9,64.2 270.2,65.5 270.5,72.0 270.7,79.9 271.0,84.6 271.3,83.3 271.6,76.8 271.9,68.8 272.2,64.2 272.4,65.5 272.7,72.0 273.0,80.0 273.3,84.6 273.6,83.3 273.9,76.7 274.1,68.8 274.4,64.2 274.7,65.5 275.0,72.1 275.3,80.0 275.6,84.6 275.8,83.3 276.1,76.7 276.4,68.8 276.7,64.2 277.0,65.5 277.3,72.1 277.5,80.0 277.8,84.6 278.1,83.3 278.4,76.7 278.7,68.8 279.0,64.2 279.2,65.5 279.5,72.1 279.8,80.0 280.1,84.6 280.4,83.3 280.7,76.7 281.0,68.8 281.2,64.2 281.5,65.5 281.8,72.1 282.1,80.0 282.4,84.6 282.7,83.3 282.9,76.7 283.2,68.8 283.5,64.2 283.8,65.5 284.1,72.1 284.4,80.0 284.6,84.6 284.9,83.3 285.2,76.7 285.5,68.8 285.8,64.2 286.1,65.5 286.3,72.1 286.6,80.0 286.9,84.6 287.2,83.3 287.5,76.7 287.8,68.8 288.0,64.2 288.3,65.5 288.6,72.1 288.9,80.0 289.2,84.6 289.5,83.3 289.7,76.7 290.0,68.8 290.3,64.2 290.6,65.5 290.9,72.1 291.2,80.0 291.4,84.6 291.7,83.3 292.0,76.7 292.3,68.8 292.6,64.2 292.9,65.6 293.1,72.1 293.4,80.0 293.7,84.6 294.0,83.2 294.3,76.7 294.6,68.8 294.8,64.2 295.1,65.6 295.4,72.1 295.7,80.0 296.0,84.6 296.3,83.2 296.5,76.7 296.8,68.8 297.1,64.2 297.4,65.6 297.7,72.1 298.0,80.0 298.2,84.6 298.5,83.2 298.8,76.7 299.1,68.8 299.4,64.2 299.7,65.6 299.9,72.1 300.2,80.0 300.5,84.6 300.8,83.2 301.1,76.7 301.4,68.8 301.6,64.2 301.9,65.6 302.2,72.1 302.5,80.0 302.8,84.6 303.1,83.2 303.4,76.7 303.6,68.8 303.9,64.2 304.2,65.6 304.5,72.1 304.8,80.0 305.1,84.6 305.3,83.2 305.6,76.7 305.9,68.8 306.2,64.2 306.5,65.6 306.8,72.1 307.0,80.0 307.3,84.6 307.6,83.2 307.9,76.7 308.2,68.8 308.5,64.2 308.7,65.6 309.0,72.1 309.3,80.0 309.6,84.6 309.9,83.2 310.2,76.6 310.4,68.8 310.7,64.2 311.0,65.6 311.3,72.2 311.6,80.0 311.9,84.6 312.1,83.2 312.4,76.6 312.7,68.8 313.0,64.2 313.3,65.6 313.6,72.2 313.8,80.1 314.1,84.6 314.4,83.2 314.7,76.6 315.0,68.7 315.3,64.2 315.5,65.6 315.8,72.2 316.1,80.1 316.4,84.6 316.7,83.2 317.0,76.6 317.2,68.7 317.5,64.2 317.8,65.6 318.1,72.2 318.4,80.1 318.7,84.6 318.9,83.2 319.2,76.6 319.5,68.7 319.8,64.2 320.1,65.6 320.4,72.2 320.6,80.1 320.9,84.6 321.2,83.2 321.5,76.6 321.8,68.7 322.1,64.2 322.3,65.6 322.6,72.2 322.9,80.1 323.2,84.6 323.5,83.2 323.8,76.6 324.0,68.7 324.3,64.2 324.6,65.6 324.9,72.2 325.2,80.1 325.5,84.6 325.8,83.2 326.0,76.6 326.3,68.7 326.6,64.2 326.9,65.6 327.2,72.2 327.5,80.1 327.7,84.6 328.0,83.2 328.3,76.6 328.6,68.7 328.9,64.2 329.2,65.6 329.4,72.2 329.7,80.1 330.0,84.6 330.3,83.2 330.6,76.6 330.9,68.7 331.1,64.2 331.4,65.6 331.7,72.2 332.0,80.1 332.3,84.6 332.6,83.2 332.8,76.6 333.1,68.7 333.4,64.2 333.7,65.6 334.0,72.2 334.3,80.1 334.5,84.6 334.8,83.2 335.1,76.6 335.4,68.7 335.7,64.2 336.0,65.6 336.2,72.2 336.5,80.1 336.8,84.6 337.1,83.2 337.4,76.6 337.7,68.7 337.9,64.2 338.2,65.6 338.5,72.2 338.8,80.1 339.1,84.6 339.4,83.2 339.6,76.6 339.9,68.7 340.2,64.2 340.5,65.6 340.8,72.2 341.1,80.1 341.3,84.6 341.6,83.2 341.9,76.6 342.2,68.7 342.5,64.2 342.8,65.6 343.0,72.2 343.3,80.1 343.6,84.6 343.9,83.2 344.2,76.6 344.5,68.7 344.7,64.2 345.0,65.6 345.3,72.2 345.6,80.1 345.9,84.6 346.2,83.2 346.4,76.5 346.7,68.7 347.0,64.2 347.3,65.6 347.6,72.3 347.9,80.1 348.2,84.6 348.4,83.2 348.7,76.5 349.0,68.7 349.3,64.1 349.6,65.6 349.9,72.3 350.1,80.1 350.4,84.7 350.7,83.2 351.0,76.5 351.3,68.7 351.6,64.1 351.8,65.6 352.1,72.3 352.4,80.1 352.7,84.7 353.0,83.2 353.3,76.5 353.5,68.7 353.8,64.1 354.1,65.6 354.4,72.3 354.7,80.1 355.0,84.7 355.2,83.2 355.5,76.5 355.8,68.7 356.1,64.1 356.4,65.6 356.7,72.3 356.9,80.2 357.2,84.7 357.5,83.2 357.8,76.5 358.1,68.6 358.4,64.1 358.6,65.7 358.9,72.3 359.2,80.2 359.5,84.7 359.8,83.1 360.1,76.5 360.3,68.6 360.6,64.1 360.9,65.7 361.2,72.3 361.5,80.2 361.8,84.7 362.0,83.1 362.3,76.5 362.6,68.6 362.9,64.1 363.2,65.7 363.5,72.3 363.7,80.2 364.0,84.7 364.3,83.1 364.6,76.5 364.9,68.6 365.2,64.1 365.4,65.7 365.7,72.3 366.0,80.2 366.3,84.7 366.6,83.1 366.9,76.5 367.1,68.6 367.4,64.1 367.7,65.7 368.0,72.3 368.3,80.2 368.6,84.7 368.8,83.1 369.1,76.5 369.4,68.6 369.7,64.1 370.0,65.7 370.3,72.3 370.5,80.2 370.8,84.7 371.1,83.1 371.4,76.5 371.7,68.6 372.0,64.1 372.3,65.7 372.5,72.3 372.8,80.2 373.1,84.7 373.4,83.1 373.7,76.5 374.0,68.6 374.2,64.1 374.5,65.7 374.8,72.3 375.1,80.2 375.4,84.7 375.7,83.1 375.9,76.5 376.2,68.6 376.5,64.1 376.8,65.7 377.1,72.3 377.4,80.2 377.6,84.7 377.9,83.1 378.2,76.5 378.5,68.6 378.8,64.1 379.1,65.7 379.3,72.3 379.6,80.2 379.9,84.7 380.2,83.1 380.5,76.5 380.8,68.6 381.0,64.1 381.3,65.7 381.6,72.3 381.9,80.2 382.2,84.7 382.5,83.1 382.7,76.4 383.0,68.6 383.3,64.1 383.6,65.7 383.9,72.4 384.2,80.2 384.4,84.7 384.7,83.1 385.0,76.4 385.3,68.6 385.6,64.1 385.9,65.7 386.1,72.4 386.4,80.2 386.7,84.7 387.0,83.1 387.3,76.4 387.6,68.6 387.8,64.1 388.1,65.7 388.4,72.4 388.7,80.2 389.0,84.7 389.3,83.1 389.5,76.4 389.8,68.6 390.1,64.1 390.4,65.7 390.7,72.4 391.0,80.2 391.2,84.7 391.5,83.1 391.8,76.4 392.1,68.6 392.4,64.1 392.7,65.7 392.9,72.4 393.2,80.2 393.5,84.7 393.8,83.1 394.1,76.4 394.4,68.6 394.7,64.1 394.9,65.7 395.2,72.4 395.5,80.2 395.8,84.7 396.1,83.1 396.4,76.4 396.6,68.5 396.9,64.1 397.2,65.6 397.5,72.4 397.8,80.3 398.1,84.8 398.3,83.2 398.6,76.4 398.9,68.5 399.2,63.9 399.5,65.6 399.8,72.4 400.0,80.4 400.3,84.9 400.6,83.3 400.9,76.5 401.2,68.4 401.5,63.8 401.7,65.5 402.0,72.3 402.3,80.4 402.6,85.0 402.9,83.4 403.2,76.5 403.4,68.3 403.7,63.7 404.0,65.4 404.3,72.3 404.6,80.5 404.9,85.1 405.1,83.5 405.4,76.5 405.7,68.2 406.0,63.6 406.3,65.3 406.6,72.3 406.8,80.6 407.1,85.3 407.4,83.6 407.7,76.5 408.0,68.2 408.3,63.5 408.5,65.2 408.8,72.3 409.1,80.7 409.4,85.4 409.7,83.7 410.0,76.5 410.2,68.1 410.5,63.4 410.8,65.1 411.1,72.3 411.4,80.7 411.7,85.5 411.9,83.7 412.2,76.5 412.5,68.0 412.8,63.3 413.1,65.0 413.4,72.3 413.6,80.8 413.9,85.6 414.2,83.8 414.5,76.5 414.8,68.0 415.1,63.2 415.3,64.9 415.6,72.3 415.9,80.9 416.2,85.7 416.5,83.9 416.8,76.6 417.1,67.9 417.3,63.0 417.6,64.8 417.9,72.2 418.2,80.9 418.5,85.8 418.8,84.0 419.0,76.6 419.3,67.8 419.6,62.9 419.9,64.7 420.2,72.2 420.5,81.0 420.7,85.9 421.0,84.1 421.3,76.6 421.6,67.8 421.9,62.8 422.2,64.7 422.4,72.2 422.7,81.1 423.0,86.0 423.3,84.2 423.6,76.6 423.9,67.7 424.1,62.7 424.4,64.6 424.7,72.2 425.0,81.1 425.3,86.1 425.6,84.3 425.8,76.6 426.1,67.6 426.4,62.6 426.7,64.5 427.0,72.2 427.3,81.2 427.5,86.3 427.8,84.4 428.1,76.6 428.4,67.6 428.7,62.5 429.0,64.4 429.2,72.2 429.5,81.3 429.8,86.4 430.1,84.5 430.4,76.6 430.7,67.5 430.9,62.4 431.2,64.3 431.5,72.2 431.8,81.3 432.1,86.5 432.4,84.5 432.6,76.6 432.9,67.4 433.2,62.3 433.5,64.2 433.8,72.1 434.1,81.4 434.3,86.6 434.6,84.6 434.9,76.7 435.2,67.3 435.5,62.1 435.8,64.1 436.0,72.1 436.3,81.5 436.6,86.7 436.9,84.7 437.2,76.7 437.5,67.3 437.7,62.0 438.0,64.0 438.3,72.1 438.6,81.6 438.9,86.8 439.2,84.8 439.4,76.7 439.7,67.2 440.0,61.9 440.3,63.9 440.6,72.1 440.9,81.6 441.2,86.9 441.4,84.9 441.7,76.7 442.0,67.1 442.3,61.8 442.6,63.9 442.9,72.1 443.1,81.7 443.4,87.0 443.7,85.0 444.0,76.7 444.3,67.1 444.6,61.7 444.8,63.8 445.1,72.1 445.4,81.8 445.7,87.2 446.0,85.1 446.3,76.7 446.5,67.0 446.8,61.6 447.1,63.7 447.4,72.1 447.7,81.8 448.0,87.3 448.2,85.2 448.5,76.7 448.8,66.9 449.1,61.5 449.4,63.6 449.7,72.1 449.9,81.9 450.2,87.4 450.5,85.3 450.8,76.8 451.1,66.9 451.4,61.4 451.6,63.5 451.9,72.0 452.2,82.0 452.5,87.5 452.8,85.3 453.1,76.8 453.3,66.8 453.6,61.2 453.9,63.4 454.2,72.0 454.5,82.1 454.8,87.6 455.0,85.4 455.3,76.8 455.6,66.7 455.9,61.1 456.2,63.3 456.5,72.0 456.7,82.1 457.0,87.7 457.3,85.5 457.6,76.8 457.9,66.6 458.2,61.0 458.4,63.2 458.7,72.0 459.0,82.2 459.3,87.8 459.6,85.6 459.9,76.8 460.1,66.6 460.4,60.9 460.7,63.2 461.0,72.0 461.3,82.3 461.6,87.9 461.8,85.7 462.1,76.8 462.4,66.5 462.7,60.8 463.0,63.1 463.3,72.0 463.6,82.3 463.8,88.0 464.1,85.8 464.4,76.8 464.7,66.5 465.0,60.8 465.3,63.0 465.5,72.0 465.8,82.3 466.1,88.0 466.4,85.8 466.7,76.8 467.0,66.4 467.2,60.8 467.5,63.0 467.8,72.0 468.1,82.4 468.4,88.1 468.7,85.7 468.9,76.8 469.2,66.4 469.5,60.7 469.8,63.1 470.1,72.0 470.4,82.4 470.6,88.1 470.9,85.7 471.2,76.8 471.5,66.4 471.8,60.7 472.1,63.1 472.3,72.0 472.6,82.4 472.9,88.1 473.2,85.7 473.5,76.8 473.8,66.4 474.0,60.7 474.3,63.1 474.6,72.0 474.9,82.4 475.2,88.1 475.5,85.7 475.7,76.8 476.0,66.4 476.3,60.7 476.6,63.1 476.9,72.0 477.2,82.4 477.4,88.1 477.7,85.7 478.0,76.8 478.3,66.4 478.6,60.7 478.9,63.1 479.1,72.0 479.4,82.4 479.7,88.1 480.0,85.7 480.3,76.8 480.6,66.4 480.8,60.7 481.1,63.1 481.4,72.0 481.7,82.4 482.0,88.1 482.3,85.7 482.5,76.7 482.8,66.4 483.1,60.7 483.4,63.1 483.7,72.1 484.0,82.4 484.2,88.1 484.5,85.7 484.8,76.7 485.1,66.4 485.4,60.7 485.7,63.1 486.0,72.1 486.2,82.4 486.5,88.1 486.8,85.7 487.1,76.7 487.4,66.4 487.7,60.7 487.9,63.1 488.2,72.1 488.5,82.4 488.8,88.1 489.1,85.7 489.4,76.7 489.6,66.4 489.9,60.7 490.2,63.1 490.5,72.1 490.8,82.4 491.1,88.1 491.3,85.7 491.6,76.7 491.9,66.4 492.2,60.7 492.5,63.1 492.8,72.1 493.0,82.4 493.3,88.1 493.6,85.7 493.9,76.7 494.2,66.4 494.5,60.7 494.7,63.1 495.0,72.1 495.3,82.4 495.6,88.1 495.9,85.7 496.2,76.7 496.4,66.4 496.7,60.7 497.0,63.1 497.3,72.1 497.6,82.4 497.9,88.1 498.1,85.7 498.4,76.7 498.7,66.4 499.0,60.7 499.3,63.1 499.6,72.1 499.8,82.5 500.1,88.1 500.4,85.7 500.7,76.7 501.0,66.3 501.3,60.7 501.5,63.1 501.8,72.1 502.1,82.5 502.4,88.1 502.7,85.7 503.0,76.7 503.2,66.3 503.5,60.7 503.8,63.1 504.1,72.1 504.4,82.5 504.7,88.1 504.9,85.7 505.2,76.7 505.5,66.3 505.8,60.7 506.1,63.1 506.4,72.1 506.6,82.5 506.9,88.1 507.2,85.7 507.5,76.7 507.8,66.3 508.1,60.7 508.3,63.1 508.6,72.1 508.9,82.5 509.2,88.1 509.5,85.7 509.8,76.6 510.1,66.3 510.3,60.7 510.6,63.1 510.9,72.2 511.2,82.5 511.5,88.1 511.8,85.7 512.0,76.6 512.3,66.3 512.6,60.7 512.9,63.1 513.2,72.2 513.5,82.5 513.7,88.1 514.0,85.7 514.3,76.6 514.6,66.3 514.9,60.7 515.2,63.2 515.4,72.2 515.7,82.5 516.0,88.1 516.3,85.6 516.6,76.6 516.9,66.3 517.1,60.7 517.4,63.2 517.7,72.2 518.0,82.5 518.3,88.1 518.6,85.6 518.8,76.6 519.1,66.3 519.4,60.7 519.7,63.2 520.0,72.2 520.3,82.5 520.5,88.1 520.8,85.6 521.1,76.6 521.4,66.3 521.7,60.7 522.0,63.2 522.2,72.2 522.5,82.5 522.8,88.1 523.1,85.6 523.4,76.6 523.7,66.3 523.9,60.7 524.2,63.2 524.5,72.2 524.8,82.5 525.1,88.1 525.4,85.6 525.6,76.6 525.9,66.3 526.2,60.7 526.5,63.2 526.8,72.2 527.1,82.5 527.3,88.1 527.6,85.6 527.9,76.6 528.2,66.3 528.5,60.7 528.8,63.2 529.0,72.2 529.3,82.5 529.6,88.1 529.9,85.6 530.2,76.6 530.5,66.3 530.7,60.7 531.0,63.2 531.3,72.2 531.6,82.5" fill="none" stroke="#ff1a1a" stroke-width="0.8" stroke-linejoin="round"/>
<polyline points="63.2,86.6 63.5,83.2 63.8,74.7 64.0,66.0 64.3,62.2 64.6,65.6 64.9,74.2 65.2,82.8 65.5,86.6 65.7,83.2 66.0,74.6 66.3,66.0 66.6,62.2 66.9,65.6 67.2,74.2 67.4,82.8 67.7,86.6 68.0,83.2 68.3,74.6 68.6,66.0 68.9,62.2 69.1,65.6 69.4,74.2 69.7,82.8 70.0,86.6 70.3,83.2 70.6,74.6 70.8,66.0 71.1,62.2 71.4,65.6 71.7,74.2 72.0,82.8 72.3,86.6 72.5,83.2 72.8,74.6 73.1,66.0 73.4,62.2 73.7,65.6 74.0,74.2 74.3,82.8 74.5,86.6 74.8,83.2 75.1,74.6 75.4,66.0 75.7,62.2 76.0,65.6 76.2,74.2 76.5,82.9 76.8,86.6 77.1,83.1 77.4,74.6 77.7,65.9 77.9,62.2 78.2,65.7 78.5,74.2 78.8,82.9 79.1,86.6 79.4,83.1 79.6,74.6 79.9,65.9 80.2,62.2 80.5,65.7 80.8,74.2 81.1,82.9 81.3,86.6 81.6,83.1 81.9,74.6 82.2,65.9 82.5,62.2 82.8,65.7 83.0,74.2 83.3,82.9 83.6,86.6 83.9,83.1 84.2,74.6 84.5,65.9 84.7,62.2 85.0,65.7 85.3,74.2 85.6,82.9 85.9,86.6 86.2,83.1 86.4,74.6 86.7,65.4 87.0,60.9 87.3,64.3 87.6,74.2 87.9,84.7 88.1,89.2 88.4,85.0 88.7,74.6 89.0,64.1 89.3,59.6 89.6,63.8 89.8,74.2 90.1,84.7 90.4,89.2 90.7,85.0 91.0,74.6 91.3,64.1 91.5,59.6 91.8,63.8 92.1,74.2 92.4,84.7 92.7,89.2 93.0,85.0 93.2,74.6 93.5,64.1 93.8,59.6 94.1,63.8 94.4,74.2 94.7,84.7 94.9,89.2 95.2,85.0 95.5,74.6 95.8,64.1 96.1,59.6 96.4,63.8 96.7,74.2 96.9,84.7 97.2,89.2 97.5,85.0 97.8,74.6 98.1,64.1 98.4,59.6 98.6,63.8 98.9,74.2 99.2,84.7 99.5,89.2 99.8,85.0 100.1,74.6 100.3,64.1 100.6,59.6 100.9,63.8 101.2,74.2 101.5,84.7 101.8,89.2 102.0,85.0 102.3,74.6 102.6,64.1 102.9,59.6 103.2,63.8 103.5,74.3 103.7,84.7 104.0,89.2 104.3,85.0 104.6,74.5 104.9,64.0 105.2,59.6 105.4,63.8 105.7,74.3 106.0,84.8 106.3,89.2 106.6,85.0 106.9,74.5 107.1,64.0 107.4,59.6 107.7,63.9 108.0,74.3 108.3,84.8 108.6,89.2 108.8,84.9 109.1,74.5 109.4,64.0 109.7,59.6 110.0,63.9 110.3,74.3 110.5,84.8 110.8,89.2 111.1,84.9 111.4,74.5 111.7,64.0 112.0,59.6 112.2,63.9 112.5,74.3 112.8,84.8 113.1,89.2 113.4,84.9 113.7,74.5 113.9,64.0 114.2,59.6 114.5,63.9 114.8,74.3 115.1,84.8 115.4,89.2 115.6,84.9 115.9,74.5 116.2,64.0 116.5,59.6 116.8,63.9 117.1,74.3 117.3,84.8 117.6,89.2 117.9,84.9 118.2,74.5 118.5,64.0 118.8,59.6 119.1,63.9 119.3,74.3 119.6,84.8 119.9,89.2 120.2,84.9 120.5,74.5 120.8,64.0 121.0,59.6 121.3,63.9 121.6,74.3 121.9,84.8 122.2,89.2 122.5,84.9 122.7,74.5 123.0,64.0 123.3,59.6 123.6,63.9 123.9,74.3 124.2,84.8 124.4,89.2 124.7,84.9 125.0,74.5 125.3,64.0 125.6,59.6 125.9,63.9 126.1,74.3 126.4,84.8 126.7,89.2 127.0,84.9 127.3,74.5 127.6,64.0 127.8,59.6 128.1,63.9 128.4,74.3 128.7,84.8 129.0,89.2 129.3,84.9 129.5,74.4 129.8,64.0 130.1,59.6 130.4,63.9 130.7,74.4 131.0,84.8 131.2,89.2 131.5,84.9 131.8,74.4 132.1,64.0 132.4,59.6 132.7,63.9 132.9,74.4 133.2,84.8 133.5,89.2 133.8,84.9 134.1,74.4 134.4,64.0 134.6,59.6 134.9,63.9 135.2,74.4 135.5,84.8 135.8,89.2 136.1,84.9 136.3,74.4 136.6,64.0 136.9,59.6 137.2,63.9 137.5,74.4 137.8,84.8 138.0,89.2 138.3,84.9 138.6,74.4 138.9,64.0 139.2,59.6 139.5,63.9 139.7,74.4 140.0,84.9 140.3,89.2 140.6,84.9 140.9,74.4 141.2,63.9 141.4,59.6 141.7,63.9 142.0,74.4 142.3,84.9 142.6,89.2 142.9,84.8 143.2,74.4 143.4,63.9 143.7,59.6 144.0,64.0 144.3,74.4 144.6,84.9 144.9,89.2 145.1,84.8 145.4,74.4 145.7,63.9 146.0,59.6 146.3,64.0 146.6,74.4 146.8,84.9 147.1,89.2 147.4,84.8 147.7,74.4 148.0,63.9 148.3,59.6 148.5,64.0 148.8,74.4 149.1,84.9 149.4,89.2 149.7,84.8 150.0,74.4 150.2,63.9 150.5,59.6 150.8,64.0 151.1,74.4 151.4,84.9 151.7,89.2 151.9,84.8 152.2,74.4 152.5,63.9 152.8,59.6 153.1,64.0 153.4,74.4 153.6,84.9 153.9,89.2 154.2,84.8 154.5,74.3 154.8,63.9 155.1,59.6 155.3,64.0 155.6,74.5 155.9,84.9 156.2,89.2 156.5,84.8 156.8,74.3 157.0,63.9 157.3,59.6 157.6,64.0 157.9,74.5 158.2,84.9 158.5,89.2 158.7,84.8 159.0,74.3 159.3,63.9 159.6,59.6 159.9,64.0 160.2,74.5 160.4,84.9 160.7,89.2 161.0,84.8 161.3,74.3 161.6,63.9 161.9,59.6 162.1,64.0 162.4,74.5 162.7,84.9 163.0,89.2 163.3,84.8 163.6,74.3 163.8,63.9 164.1,59.6 164.4,64.0 164.7,74.5 165.0,84.9 165.3,89.2 165.6,84.8 165.8,74.3 166.1,63.9 166.4,59.6 166.7,64.0 167.0,74.5 167.3,84.9 167.5,89.2 167.8,84.8 168.1,74.3 168.4,63.9 168.7,59.6 169.0,64.0 169.2,74.5 169.5,84.9 169.8,89.2 170.1,84.8 170.4,74.3 170.7,63.9 170.9,59.6 171.2,64.0 171.5,74.5 171.8,84.9 172.1,89.2 172.4,84.8 172.6,74.3 172.9,63.9 173.2,59.6 173.5,64.0 173.8,74.5 174.1,84.9 174.3,89.2 174.6,84.8 174.9,74.3 175.2,63.9 175.5,59.6 175.8,64.0 176.0,74.5 176.3,85.0 176.6,89.2 176.9,84.8 177.2,74.3 177.5,63.8 177.7,59.6 178.0,64.0 178.3,74.5 178.6,85.0 178.9,89.2 179.2,84.7 179.4,74.2 179.7,63.8 180.0,59.6 180.3,64.1 180.6,74.6 180.9,85.0 181.1,89.2 181.4,84.7 181.7,74.2 182.0,63.8 182.3,59.6 182.6,64.1 182.8,74.6 183.1,85.0 183.4,89.2 183.7,84.7 184.0,74.2 184.3,63.8 184.5,59.6 184.8,64.1 185.1,74.6 185.4,85.0 185.7,89.2 186.0,84.7 186.2,74.2 186.5,63.8 186.8,59.6 187.1,64.1 187.4,74.6 187.7,85.0 188.0,89.2 188.2,84.7 188.5,74.2 188.8,63.8 189.1,59.6 189.4,64.1 189.7,74.6 189.9,85.0 190.2,89.2 190.5,84.7 190.8,74.2 191.1,63.8 191.4,59.6 191.6,64.1 191.9,74.6 192.2,85.0 192.5,89.2 192.8,84.7 193.1,74.2 193.3,63.8 193.6,59.6 193.9,64.1 194.2,74.6 194.5,85.0 194.8,89.2 195.0,84.7 195.3,74.2 195.6,63.8 195.9,59.6 196.2,64.1 196.5,74.6 196.7,85.0 197.0,89.2 197.3,84.7 197.6,74.2 197.9,63.8 198.2,59.6 198.4,64.1 198.7,74.6 199.0,85.0 199.3,89.2 199.6,84.7 199.9,74.2 200.1,63.8 200.4,59.7 200.7,64.2 201.0,74.6 201.3,84.9 201.6,89.0 201.8,84.6 202.1,74.2 202.4,63.9 202.7,59.8 203.0,64.3 203.3,74.6 203.5,84.8 203.8,88.9 204.1,84.5 204.4,74.2 204.7,64.0 205.0,60.0 205.2,64.4 205.5,74.6 205.8,84.7 206.1,88.7 206.4,84.3 206.7,74.1 206.9,64.1 207.2,60.1 207.5,64.5 207.8,74.7 208.1,84.6 208.4,88.6 208.6,84.2 208.9,74.1 209.2,64.2 209.5,60.3 209.8,64.6 210.1,74.7 210.3,84.5 210.6,88.4 210.9,84.1 211.2,74.1 211.5,64.3 211.8,60.4 212.1,64.7 212.3,74.7 212.6,84.4 212.9,88.3 213.2,84.0 213.5,74.1 213.8,64.4 214.0,60.6 214.3,64.8 214.6,74.7 214.9,84.3 215.2,88.1 215.5,83.9 215.7,74.1 216.0,64.5 216.3,60.7 216.6,65.0 216.9,74.7 217.2,84.2 217.4,88.0 217.7,83.8 218.0,74.1 218.3,64.6 218.6,60.9 218.9,65.1 219.1,74.7 219.4,84.1 219.7,87.8 220.0,83.7 220.3,74.1 220.6,64.7 220.8,61.1 221.1,65.2 221.4,74.7 221.7,84.0 222.0,87.7 222.3,83.6 222.5,74.1 222.8,64.9 223.1,61.2 223.4,65.3 223.7,74.7 224.0,83.9 224.2,87.5 224.5,83.5 224.8,74.1 225.1,65.0 225.4,61.4 225.7,65.4 225.9,74.7 226.2,83.8 226.5,87.4 226.8,83.3 227.1,74.1 227.4,65.1 227.6,61.5 227.9,65.5 228.2,74.7 228.5,83.7 228.8,87.2 229.1,83.2 229.3,74.1 229.6,65.2 229.9,61.7 230.2,65.6 230.5,74.7 230.8,83.6 231.0,87.1 231.3,83.1 231.6,74.1 231.9,65.3 232.2,61.8 232.5,65.7 232.7,74.7 233.0,83.5 233.3,86.9 233.6,83.0 233.9,74.1 234.2,65.4 234.5,62.0 234.7,65.8 235.0,74.7 235.3,83.4 235.6,86.8 235.9,82.9 236.2,74.1 236.4,65.5 236.7,62.1 237.0,66.0 237.3,74.7 237.6,83.3 237.9,86.6 238.1,82.8 238.4,74.1 238.7,65.6 239.0,62.3 239.3,66.1 239.6,74.7 239.8,83.2 240.1,86.4 240.4,82.7 240.7,74.1 241.0,65.7 241.3,62.4 241.5,66.2 241.8,74.7 242.1,83.1 242.4,86.3 242.7,82.6 243.0,74.1 243.2,65.8 243.5,62.6 243.8,66.3 244.1,74.7 244.4,82.9 244.7,86.1 244.9,82.5 245.2,74.1 245.5,65.9 245.8,62.7 246.1,66.4 246.4,74.7 246.6,82.8 246.9,86.0 247.2,82.3 247.5,74.1 247.8,66.0 248.1,62.9 248.3,66.5 248.6,74.7 248.9,82.7 249.2,85.8 249.5,82.2 249.8,74.1 250.0,66.1 250.3,63.0 250.6,66.6 250.9,74.7 251.2,82.6 251.5,85.7 251.7,82.1 252.0,74.1 252.3,66.2 252.6,63.2 252.9,66.7 253.2,74.7 253.4,82.5 253.7,85.5 254.0,82.0 254.3,74.1 254.6,66.3 254.9,63.4 255.1,66.8 255.4,74.7 255.7,82.4 256.0,85.4 256.3,81.9 256.6,74.1 256.9,66.4 257.1,63.5 257.4,66.9 257.7,74.7 258.0,82.3 258.3,85.2 258.6,81.8 258.8,74.1 259.1,66.5 259.4,63.7 259.7,67.1 260.0,74.7 260.3,82.2 260.5,85.1 260.8,81.7 261.1,74.1 261.4,66.7 261.7,63.8 262.0,67.2 262.2,74.7 262.5,82.1 262.8,84.9 263.1,81.6 263.4,74.1 263.7,66.8 263.9,63.9 264.2,67.2 264.5,74.7 264.8,82.0 265.1,84.9 265.4,81.6 265.6,74.1 265.9,66.8 266.2,63.9 266.5,67.2 266.8,74.8 267.1,82.1 267.3,84.9 267.6,81.5 267.9,74.0 268.2,66.7 268.5,63.9 268.8,67.3 269.0,74.8 269.3,82.1 269.6,84.9 269.9,81.5 270.2,74.0 270.5,66.7 270.7,63.9 271.0,67.3 271.3,74.8 271.6,82.1 271.9,84.9 272.2,81.5 272.4,74.0 272.7,66.7 273.0,63.9 273.3,67.3 273.6,74.8 273.9,82.1 274.1,84.9 274.4,81.5 274.7,74.0 275.0,66.7 275.3,63.9 275.6,67.3 275.8,74.8 276.1,82.1 276.4,84.9 276.7,81.5 277.0,74.0 277.3,66.7 277.5,63.9 277.8,67.3 278.1,74.8 278.4,82.1 278.7,84.9 279.0,81.5 279.2,74.0 279.5,66.7 279.8,63.9 280.1,67.3 280.4,74.8 280.7,82.1 281.0,84.9 281.2,81.5 281.5,74.0 281.8,66.7 282.1,63.9 282.4,67.3 282.7,74.8 282.9,82.1 283.2,84.9 283.5,81.5 283.8,74.0 284.1,66.7 284.4,63.9 284.6,67.3 284.9,74.8 285.2,82.1 285.5,84.9 285.8,81.5 286.1,74.0 286.3,66.7 286.6,63.9 286.9,67.3 287.2,74.8 287.5,82.1 287.8,84.9 288.0,81.5 288.3,74.0 288.6,66.7 288.9,63.9 289.2,67.3 289.5,74.8 289.7,82.1 290.0,84.9 290.3,81.5 290.6,74.0 290.9,66.7 291.2,63.9 291.4,67.3 291.7,74.8 292.0,82.1 292.3,84.9 292.6,81.5 292.9,74.0 293.1,66.7 293.4,63.9 293.7,67.3 294.0,74.8 294.3,82.1 294.6,84.9 294.8,81.5 295.1,74.0 295.4,66.7 295.7,63.9 296.0,67.3 296.3,74.8 296.5,82.1 296.8,84.9 297.1,81.5 297.4,74.0 297.7,66.7 298.0,63.9 298.2,67.3 298.5,74.8 298.8,82.1 299.1,84.9 299.4,81.5 299.7,74.0 299.9,66.7 300.2,63.9 300.5,67.3 300.8,74.8 301.1,82.1 301.4,84.9 301.6,81.5 301.9,73.9 302.2,66.7 302.5,63.9 302.8,67.3 303.1,74.9 303.4,82.1 303.6,84.9 303.9,81.5 304.2,73.9 304.5,66.7 304.8,63.9 305.1,67.3 305.3,74.9 305.6,82.1 305.9,84.9 306.2,81.5 306.5,73.9 306.8,66.7 307.0,63.9 307.3,67.3 307.6,74.9 307.9,82.1 308.2,84.9 308.5,81.5 308.7,73.9 309.0,66.7 309.3,63.9 309.6,67.3 309.9,74.9 310.2,82.1 310.4,84.9 310.7,81.5 311.0,73.9 311.3,66.7 311.6,63.9 311.9,67.3 312.1,74.9 312.4,82.1 312.7,84.9 313.0,81.5 313.3,73.9 313.6,66.7 313.8,63.9 314.1,67.3 314.4,74.9 314.7,82.1 315.0,84.9 315.3,81.5 315.5,73.9 315.8,66.7 316.1,63.9 316.4,67.4 316.7,74.9 317.0,82.1 317.2,84.9 317.5,81.4 317.8,73.9 318.1,66.7 318.4,63.9 318.7,67.4 318.9,74.9 319.2,82.1 319.5,84.9 319.8,81.4 320.1,73.9 320.4,66.6 320.6,63.9 320.9,67.4 321.2,74.9 321.5,82.2 321.8,84.9 322.1,81.4 322.3,73.9 322.6,66.6 322.9,63.9 323.2,67.4 323.5,74.9 323.8,82.2 324.0,84.9 324.3,81.4 324.6,73.9 324.9,66.6 325.2,63.9 325.5,67.4 325.8,74.9 326.0,82.2 326.3,84.9 326.6,81.4 326.9,73.9 327.2,66.6 327.5,63.9 327.7,67.4 328.0,74.9 328.3,82.2 328.6,84.9 328.9,81.4 329.2,73.9 329.4,66.6 329.7,63.9 330.0,67.4 330.3,74.9 330.6,82.2 330.9,84.9 331.1,81.4 331.4,73.9 331.7,66.6 332.0,63.9 332.3,67.4 332.6,74.9 332.8,82.2 333.1,84.9 333.4,81.4 333.7,73.9 334.0,66.6 334.3,63.9 334.5,67.4 334.8,74.9 335.1,82.2 335.4,84.9 335.7,81.4 336.0,73.9 336.2,66.6 336.5,63.9 336.8,67.4 337.1,74.9 337.4,82.2 337.7,84.9 337.9,81.4 338.2,73.8 338.5,66.6 338.8,63.9 339.1,67.4 339.4,75.0 339.6,82.2 339.9,84.9 340.2,81.4 340.5,73.8 340.8,66.6 341.1,63.9 341.3,67.4 341.6,75.0 341.9,82.2 342.2,84.9 342.5,81.4 342.8,73.8 343.0,66.6 343.3,63.9 343.6,67.4 343.9,75.0 344.2,82.2 344.5,84.9 344.7,81.4 345.0,73.8 345.3,66.6 345.6,63.9 345.9,67.4 346.2,75.0 346.4,82.2 346.7,84.9 347.0,81.4 347.3,73.8 347.6,66.6 347.9,63.9 348.2,67.4 348.4,75.0 348.7,82.2 349.0,84.9 349.3,81.4 349.6,73.8 349.9,66.6 350.1,63.9 350.4,67.4 350.7,75.0 351.0,82.2 351.3,84.9 351.6,81.4 351.8,73.8 352.1,66.6 352.4,63.9 352.7,67.4 353.0,75.0 353.3,82.2 353.5,84.9 353.8,81.4 354.1,73.8 354.4,66.6 354.7,63.9 355.0,67.4 355.2,75.0 355.5,82.2 355.8,84.9 356.1,81.4 356.4,73.8 356.7,66.6 356.9,63.9 357.2,67.4 357.5,75.0 357.8,82.2 358.1,84.9 358.4,81.4 358.6,73.8 358.9,66.6 359.2,63.9 359.5,67.4 359.8,75.0 360.1,82.2 360.3,84.9 360.6,81.4 360.9,73.8 361.2,66.6 361.5,63.9 361.8,67.4 362.0,75.0 362.3,82.2 362.6,84.9 362.9,81.4 363.2,73.8 363.5,66.6 363.7,63.9 364.0,67.5 364.3,75.0 364.6,82.2 364.9,84.9 365.2,81.3 365.4,73.8 365.7,66.6 366.0,63.9 366.3,67.5 366.6,75.0 366.9,82.2 367.1,84.9 367.4,81.3 367.7,73.8 368.0,66.6 368.3,63.9 368.6,67.5 368.8,75.0 369.1,82.2 369.4,84.9 369.7,81.3 370.0,73.8 370.3,66.6 370.5,63.9 370.8,67.5 371.1,75.0 371.4,82.2 371.7,84.9 372.0,81.3 372.3,73.8 372.5,66.6 372.8,63.9 373.1,67.5 373.4,75.1 373.7,82.3 374.0,84.9 374.2,81.3 374.5,73.7 374.8,66.5 375.1,63.9 375.4,67.5 375.7,75.1 375.9,82.3 376.2,84.9 376.5,81.3 376.8,73.7 377.1,66.5 377.4,63.9 377.6,67.5 377.9,75.1 378.2,82.3 378.5,84.9 378.8,81.3 379.1,73.7 379.3,66.5 379.6,63.9 379.9,67.5 380.2,75.1 380.5,82.3 380.8,84.9 381.0,81.3 381.3,73.7 381.6,66.5 381.9,63.9 382.2,67.5 382.5,75.1 382.7,82.3 383.0,84.8 383.3,81.3 383.6,73.7 383.9,66.5 384.2,64.0 384.4,67.5 384.7,75.1 385.0,82.3 385.3,84.8 385.6,81.3 385.9,73.7 386.1,66.5 386.4,64.0 386.7,67.5 387.0,75.1 387.3,82.3 387.6,84.8 387.8,81.3 388.1,73.7 388.4,66.5 388.7,64.0 389.0,67.5 389.3,75.1 389.5,82.3 389.8,84.8 390.1,81.3 390.4,73.7 390.7,66.5 391.0,64.0 391.2,67.5 391.5,75.1 391.8,82.3 392.1,84.8 392.4,81.3 392.7,73.7 392.9,66.5 393.2,64.0 393.5,67.5 393.8,75.1 394.1,82.3 394.4,84.8 394.7,81.3 394.9,73.7 395.2,66.5 395.5,64.0 395.8,67.5 396.1,75.1 396.4,82.3 396.6,84.9 396.9,81.3 397.2,73.7 397.5,66.4 397.8,63.8 398.1,67.4 398.3,75.1 398.6,82.4 398.9,85.0 399.2,81.4 399.5,73.7 399.8,66.3 400.0,63.7 400.3,67.4 400.6,75.1 400.9,82.5 401.2,85.1 401.5,81.5 401.7,73.6 402.0,66.3 402.3,63.6 402.6,67.3 402.9,75.2 403.2,82.6 403.4,85.2 403.7,81.5 404.0,73.6 404.3,66.2 404.6,63.5 404.9,67.2 405.1,75.2 405.4,82.7 405.7,85.4 406.0,81.6 406.3,73.6 406.6,66.1 406.8,63.4 407.1,67.2 407.4,75.2 407.7,82.8 408.0,85.5 408.3,81.7 408.5,73.6 408.8,66.0 409.1,63.3 409.4,67.1 409.7,75.2 410.0,82.9 410.2,85.6 410.5,81.7 410.8,73.6 411.1,65.9 411.4,63.2 411.7,67.0 411.9,75.2 412.2,83.0 412.5,85.7 412.8,81.8 413.1,73.6 413.4,65.8 413.6,63.1 413.9,67.0 414.2,75.2 414.5,83.0 414.8,85.8 415.1,81.9 415.3,73.6 415.6,65.7 415.9,62.9 416.2,66.9 416.5,75.2 416.8,83.1 417.1,85.9 417.3,81.9 417.6,73.5 417.9,65.6 418.2,62.8 418.5,66.8 418.8,75.3 419.0,83.2 419.3,86.0 419.6,82.0 419.9,73.5 420.2,65.5 420.5,62.7 420.7,66.8 421.0,75.3 421.3,83.3 421.6,86.1 421.9,82.1 422.2,73.5 422.4,65.4 422.7,62.6 423.0,66.7 423.3,75.3 423.6,83.4 423.9,86.2 424.1,82.2 424.4,73.5 424.7,65.4 425.0,62.5 425.3,66.6 425.6,75.3 425.8,83.5 426.1,86.4 426.4,82.2 426.7,73.5 427.0,65.3 427.3,62.4 427.5,66.5 427.8,75.3 428.1,83.6 428.4,86.5 428.7,82.3 429.0,73.5 429.2,65.2 429.5,62.3 429.8,66.5 430.1,75.3 430.4,83.7 430.7,86.6 430.9,82.4 431.2,73.4 431.5,65.1 431.8,62.2 432.1,66.4 432.4,75.4 432.6,83.8 432.9,86.7 433.2,82.4 433.5,73.4 433.8,65.0 434.1,62.0 434.3,66.3 434.6,75.4 434.9,83.9 435.2,86.8 435.5,82.5 435.8,73.4 436.0,64.9 436.3,61.9 436.6,66.3 436.9,75.4 437.2,83.9 437.5,86.9 437.7,82.6 438.0,73.4 438.3,64.8 438.6,61.8 438.9,66.2 439.2,75.4 439.4,84.0 439.7,87.0 440.0,82.6 440.3,73.4 440.6,64.7 440.9,61.7 441.2,66.1 441.4,75.4 441.7,84.1 442.0,87.1 442.3,82.7 442.6,73.4 442.9,64.6 443.1,61.6 443.4,66.1 443.7,75.4 444.0,84.2 444.3,87.3 444.6,82.8 444.8,73.3 445.1,64.5 445.4,61.5 445.7,66.0 446.0,75.5 446.3,84.3 446.5,87.4 446.8,82.8 447.1,73.3 447.4,64.4 447.7,61.4 448.0,65.9 448.2,75.5 448.5,84.4 448.8,87.5 449.1,82.9 449.4,73.3 449.7,64.4 449.9,61.3 450.2,65.9 450.5,75.5 450.8,84.5 451.1,87.6 451.4,83.0 451.6,73.3 451.9,64.3 452.2,61.2 452.5,65.8 452.8,75.5 453.1,84.6 453.3,87.7 453.6,83.0 453.9,73.3 454.2,64.2 454.5,61.0 454.8,65.7 455.0,75.5 455.3,84.7 455.6,87.8 455.9,83.1 456.2,73.3 456.5,64.1 456.7,60.9 457.0,65.7 457.3,75.5 457.6,84.8 457.9,87.9 458.2,83.2 458.4,73.2 458.7,64.0 459.0,60.8 459.3,65.6 459.6,75.6 459.9,84.9 460.1,88.0 460.4,83.2 460.7,73.2 461.0,63.9 461.3,60.7 461.6,65.5 461.8,75.6 462.1,85.0 462.4,88.2 462.7,83.3 463.0,73.2 463.3,63.8 463.6,60.6 463.8,65.5 464.1,75.6 464.4,85.0 464.7,88.2 465.0,83.3 465.3,73.2 465.5,63.8 465.8,60.6 466.1,65.5 466.4,75.6 466.7,85.0 467.0,88.2 467.2,83.3 467.5,73.2 467.8,63.8 468.1,60.6 468.4,65.5 468.7,75.6 468.9,85.0 469.2,88.2 469.5,83.3 469.8,73.2 470.1,63.8 470.4,60.6 470.6,65.5 470.9,75.6 471.2,85.0 471.5,88.2 471.8,83.3 472.1,73.2 472.3,63.8 472.6,60.6 472.9,65.5 473.2,75.6 473.5,85.0 473.8,88.2 474.0,83.3 474.3,73.2 474.6,63.8 474.9,60.6 475.2,65.5 475.5,75.6 475.7,85.0 476.0,88.2 476.3,83.3 476.6,73.2 476.9,63.8 477.2,60.6 477.4,65.5 477.7,75.6 478.0,85.0 478.3,88.2 478.6,83.3 478.9,73.1 479.1,63.8 479.4,60.6 479.7,65.5 480.0,75.7 480.3,85.1 480.6,88.2 480.8,83.3 481.1,73.1 481.4,63.7 481.7,60.6 482.0,65.5 482.3,75.7 482.5,85.1 482.8,88.2 483.1,83.3 483.4,73.1 483.7,63.7 484.0,60.6 484.2,65.5 484.5,75.7 484.8,85.1 485.1,88.2 485.4,83.3 485.7,73.1 486.0,63.7 486.2,60.6 486.5,65.5 486.8,75.7 487.1,85.1 487.4,88.2 487.7,83.2 487.9,73.1 488.2,63.7 488.5,60.6 488.8,65.6 489.1,75.7 489.4,85.1 489.6,88.2 489.9,83.2 490.2,73.1 490.5,63.7 490.8,60.6 491.1,65.6 491.3,75.7 491.6,85.1 491.9,88.2 492.2,83.2 492.5,73.1 492.8,63.7 493.0,60.6 493.3,65.6 493.6,75.7 493.9,85.1 494.2,88.2 494.5,83.2 494.7,73.1 495.0,63.7 495.3,60.6 495.6,65.6 495.9,75.7 496.2,85.1 496.4,88.2 496.7,83.2 497.0,73.1 497.3,63.7 497.6,60.6 497.9,65.6 498.1,75.7 498.4,85.1 498.7,88.2 499.0,83.2 499.3,73.1 499.6,63.7 499.8,60.6 500.1,65.6 500.4,75.7 500.7,85.1 501.0,88.2 501.3,83.2 501.5,73.1 501.8,63.7 502.1,60.6 502.4,65.6 502.7,75.7 503.0,85.1 503.2,88.2 503.5,83.2 503.8,73.1 504.1,63.7 504.4,60.6 504.7,65.6 504.9,75.8 505.2,85.1 505.5,88.2 505.8,83.2 506.1,73.0 506.4,63.7 506.6,60.6 506.9,65.6 507.2,75.8 507.5,85.1 507.8,88.2 508.1,83.2 508.3,73.0 508.6,63.7 508.9,60.6 509.2,65.6 509.5,75.8 509.8,85.1 510.1,88.2 510.3,83.2 510.6,73.0 510.9,63.7 511.2,60.6 511.5,65.6 511.8,75.8 512.0,85.1 512.3,88.2 512.6,83.2 512.9,73.0 513.2,63.7 513.5,60.6 513.7,65.6 514.0,75.8 514.3,85.1 514.6,88.2 514.9,83.2 515.2,73.0 515.4,63.7 515.7,60.6 516.0,65.6 516.3,75.8 516.6,85.1 516.9,88.2 517.1,83.2 517.4,73.0 517.7,63.7 518.0,60.6 518.3,65.6 518.6,75.8 518.8,85.1 519.1,88.2 519.4,83.2 519.7,73.0 520.0,63.7 520.3,60.6 520.5,65.6 520.8,75.8 521.1,85.1 521.4,88.2 521.7,83.2 522.0,73.0 522.2,63.7 522.5,60.6 522.8,65.7 523.1,75.8 523.4,85.2 523.7,88.2 523.9,83.1 524.2,73.0 524.5,63.6 524.8,60.6 525.1,65.7 525.4,75.8 525.6,85.2 525.9,88.2 526.2,83.1 526.5,73.0 526.8,63.6 527.1,60.6 527.3,65.7 527.6,75.8 527.9,85.2 528.2,88.2 528.5,83.1 528.8,73.0 529.0,63.6 529.3,60.6 529.6,65.7 529.9,75.8 530.2,85.2 530.5,88.2 530.7,83.1 531.0,73.0 531.3,63.6 531.6,60.6" fill="none" stroke="#00fafa" stroke-width="1.05" stroke-linejoin="round"/>
<text transform="translate(55.3,170.7) scale(1.28,1)" font-size="14.4" font-weight="bold" text-anchor="middle" fill="#000">0</text>
<text transform="translate(123.3,170.7) scale(1.28,1)" font-size="14.4" font-weight="bold" text-anchor="middle" fill="#000">0.5</text>
<text transform="translate(191.4,170.7) scale(1.28,1)" font-size="14.4" font-weight="bold" text-anchor="middle" fill="#000">1</text>
<text transform="translate(259.4,170.7) scale(1.28,1)" font-size="14.4" font-weight="bold" text-anchor="middle" fill="#000">1.5</text>
<text transform="translate(327.5,170.7) scale(1.28,1)" font-size="14.4" font-weight="bold" text-anchor="middle" fill="#000">2</text>
<text transform="translate(395.5,170.7) scale(1.28,1)" font-size="14.4" font-weight="bold" text-anchor="middle" fill="#000">2.5</text>
<text transform="translate(463.6,170.7) scale(1.28,1)" font-size="14.4" font-weight="bold" text-anchor="middle" fill="#000">3</text>
<text transform="translate(531.6,170.7) scale(1.28,1)" font-size="14.4" font-weight="bold" text-anchor="middle" fill="#000">3.5</text>
<text transform="translate(50.6,18.5) scale(1.28,1)" font-size="14.4" font-weight="bold" text-anchor="end" fill="#000">20</text>
<text transform="translate(50.6,49.3) scale(1.28,1)" font-size="14.4" font-weight="bold" text-anchor="end" fill="#000">10</text>
<text transform="translate(50.6,80.1) scale(1.28,1)" font-size="14.4" font-weight="bold" text-anchor="end" fill="#000">0</text>
<text transform="translate(50.6,110.9) scale(1.28,1)" font-size="14.4" font-weight="bold" text-anchor="end" fill="#000">-10</text>
<text transform="translate(50.6,141.7) scale(1.28,1)" font-size="14.4" font-weight="bold" text-anchor="end" fill="#000">-20</text>
<text transform="translate(295.8,190.1) scale(1.235,1)" font-size="16.6" font-weight="bold" text-anchor="middle" fill="#000">Time (Sec)</text>
<text transform="translate(18.7,77.4) scale(1.09,1) rotate(-90)" font-size="17.3" font-weight="bold" text-anchor="middle" fill="#000">Grid Iabc (EEFO)</text>
</g>
<rect x="463.4" y="15.9" width="50" height="24.6" fill="#fff" stroke="#3a3a3a" stroke-width="1"/>
<line x1="465.4" y1="20.4" x2="479.8" y2="20.4" stroke="#ffee00" stroke-width="1.2"/>
<text transform="translate(483.2,23.3) scale(1.02,1)" font-size="8.4" font-weight="bold" text-anchor="start" fill="#000" stroke="#000" stroke-width="0.2">Phase a</text>
<line x1="465.4" y1="28.6" x2="479.8" y2="28.6" stroke="#ff1a1a" stroke-width="1.2"/>
<text transform="translate(483.2,31.5) scale(1.02,1)" font-size="8.4" font-weight="bold" text-anchor="start" fill="#000" stroke="#000" stroke-width="0.2">Phase b</text>
<line x1="465.4" y1="36.7" x2="479.8" y2="36.7" stroke="#00fafa" stroke-width="1.2"/>
<text transform="translate(483.2,39.6) scale(1.02,1)" font-size="8.4" font-weight="bold" text-anchor="start" fill="#000" stroke="#000" stroke-width="0.2">Phase c</text>
<clipPath id="ca"><rect x="323.5" y="90.8" width="156" height="44.4"/></clipPath>
<rect x="323.5" y="90.8" width="156" height="44.4" fill="#fff"/>
<line x1="323.5" y1="105.2" x2="479.5" y2="105.2" stroke="#dedede" stroke-width="1.5"/>
<line x1="327.5" y1="90.8" x2="327.5" y2="135.2" stroke="#dedede" stroke-width="1.8"/>
<line x1="395.5" y1="90.8" x2="395.5" y2="135.2" stroke="#dedede" stroke-width="1.8"/>
<line x1="463.6" y1="90.8" x2="463.6" y2="135.2" stroke="#dedede" stroke-width="1.8"/>
<line x1="338.5" y1="90.8" x2="338.5" y2="135.2" stroke="#e6e6e6" stroke-width="1"/>
<line x1="364.1" y1="90.8" x2="364.1" y2="135.2" stroke="#e6e6e6" stroke-width="1"/>
<line x1="389.8" y1="90.8" x2="389.8" y2="135.2" stroke="#e6e6e6" stroke-width="1"/>
<line x1="415.4" y1="90.8" x2="415.4" y2="135.2" stroke="#e6e6e6" stroke-width="1"/>
<line x1="441" y1="90.8" x2="441" y2="135.2" stroke="#e6e6e6" stroke-width="1"/>
<line x1="466.7" y1="90.8" x2="466.7" y2="135.2" stroke="#e6e6e6" stroke-width="1"/>
<line x1="323.5" y1="130.5" x2="479.5" y2="130.5" stroke="#e6e6e6" stroke-width="1"/>
<line x1="323.5" y1="111.9" x2="479.5" y2="111.9" stroke="#e6e6e6" stroke-width="1"/>
<line x1="323.5" y1="93.3" x2="479.5" y2="93.3" stroke="#e6e6e6" stroke-width="1"/>
<g clip-path="url(#ca)">
<polyline points="323.5,104.2 324.4,108.8 325.3,113.6 326.2,118.3 327.1,122.6 328.0,126.1 328.8,128.6 329.7,130.1 330.6,130.2 331.5,129.2 332.4,126.9 333.3,123.6 334.2,119.5 335.1,114.9 336.0,110.1 336.9,105.4 337.8,101.2 338.7,97.7 339.5,95.1 340.4,93.7 341.3,93.6 342.2,94.7 343.1,97.0 344.0,100.3 344.9,104.3 345.8,109.0 346.7,113.8 347.6,118.5 348.5,122.7 349.4,126.2 350.2,128.7 351.1,130.1 352.0,130.2 352.9,129.1 353.8,126.8 354.7,123.5 355.6,119.4 356.5,114.8 357.4,109.9 358.3,105.3 359.2,101.0 360.0,97.6 360.9,95.1 361.8,93.7 362.7,93.6 363.6,94.7 364.5,97.1 365.4,100.4 366.3,104.5 367.2,109.1 368.1,113.9 369.0,118.6 369.9,122.8 370.7,126.3 371.6,128.8 372.5,130.1 373.4,130.2 374.3,129.0 375.2,126.7 376.1,123.4 377.0,119.2 377.9,114.6 378.8,109.8 379.7,105.1 380.6,100.9 381.4,97.5 382.3,95.0 383.2,93.7 384.1,93.6 385.0,94.8 385.9,97.1 386.8,100.5 387.7,104.6 388.6,109.3 389.5,114.1 390.4,118.8 391.2,123.0 392.1,126.4 393.0,128.8 393.9,130.1 394.8,130.2 395.7,129.0 396.6,126.6 397.5,123.2 398.4,119.1 399.3,114.4 400.2,109.6 401.1,105.0 401.9,100.8 402.8,97.4 403.7,94.9 404.6,93.7 405.5,93.6 406.4,94.9 407.3,97.2 408.2,100.6 409.1,104.8 410.0,109.4 410.9,114.3 411.8,118.9 412.6,123.1 413.5,126.5 414.4,128.9 415.3,130.2 416.2,130.2 417.1,128.9 418.0,126.5 418.9,123.1 419.8,118.9 420.7,114.3 421.6,109.5 422.4,104.8 423.3,100.6 424.2,97.3 425.1,94.9 426.0,93.6 426.9,93.7 427.8,94.9 428.7,97.3 429.6,100.8 430.5,105.0 431.4,109.6 432.3,114.4 433.1,119.1 434.0,123.2 434.9,126.6 435.8,129.0 436.7,130.2 437.6,130.1 438.5,128.8 439.4,126.4 440.3,123.0 441.2,118.8 442.1,114.1 443.0,109.3 443.8,104.7 444.7,100.5 445.6,97.2 446.5,94.8 447.4,93.6 448.3,93.7 449.2,95.0 450.1,97.4 451.0,100.9 451.9,105.1 452.8,109.8 453.6,114.6 454.5,119.2 455.4,123.3 456.3,126.7 457.2,129.0 458.1,130.2 459.0,130.1 459.9,128.8 460.8,126.3 461.7,122.8 462.6,118.6 463.5,113.9 464.3,109.1 465.2,104.5 466.1,100.4 467.0,97.1 467.9,94.7 468.8,93.6 469.7,93.7 470.6,95.1 471.5,97.6 472.4,101.0 473.3,105.3 474.2,109.9 475.0,114.7 475.9,119.4 476.8,123.5 477.7,126.8 478.6,129.1 479.5,130.2" fill="none" stroke="#ffee00" stroke-width="1.15" stroke-linejoin="round"/>
<polyline points="323.5,101.3 324.4,97.7 325.3,95.2 326.2,93.7 327.1,93.6 328.0,94.6 328.8,96.9 329.7,100.2 330.6,104.2 331.5,108.9 332.4,113.7 333.3,118.4 334.2,122.6 335.1,126.1 336.0,128.7 336.9,130.1 337.8,130.2 338.7,129.1 339.5,126.9 340.4,123.6 341.3,119.5 342.2,114.9 343.1,110.1 344.0,105.4 344.9,101.1 345.8,97.6 346.7,95.1 347.6,93.7 348.5,93.6 349.4,94.7 350.2,97.0 351.1,100.3 352.0,104.4 352.9,109.0 353.8,113.8 354.7,118.5 355.6,122.7 356.5,126.2 357.4,128.7 358.3,130.1 359.2,130.2 360.0,129.1 360.9,126.8 361.8,123.4 362.7,119.3 363.6,114.7 364.5,109.9 365.4,105.2 366.3,101.0 367.2,97.5 368.1,95.0 369.0,93.7 369.9,93.6 370.7,94.8 371.6,97.1 372.5,100.4 373.4,104.5 374.3,109.2 375.2,114.0 376.1,118.7 377.0,122.9 377.9,126.3 378.8,128.8 379.7,130.1 380.6,130.2 381.4,129.0 382.3,126.7 383.2,123.3 384.1,119.2 385.0,114.5 385.9,109.7 386.8,105.1 387.7,100.9 388.6,97.4 389.5,95.0 390.4,93.7 391.2,93.6 392.1,94.8 393.0,97.2 393.9,100.6 394.8,104.7 395.7,109.3 396.6,114.2 397.5,118.8 398.4,123.0 399.3,126.4 400.2,128.9 401.1,130.1 401.9,130.2 402.8,129.0 403.7,126.6 404.6,123.2 405.5,119.0 406.4,114.4 407.3,109.6 408.2,104.9 409.1,100.7 410.0,97.3 410.9,94.9 411.8,93.6 412.6,93.6 413.5,94.9 414.4,97.3 415.3,100.7 416.2,104.9 417.1,109.5 418.0,114.3 418.9,119.0 419.8,123.1 420.7,126.5 421.6,128.9 422.4,130.2 423.3,130.1 424.2,128.9 425.1,126.5 426.0,123.1 426.9,118.9 427.8,114.2 428.7,109.4 429.6,104.8 430.5,100.6 431.4,97.2 432.3,94.8 433.1,93.6 434.0,93.7 434.9,94.9 435.8,97.4 436.7,100.8 437.6,105.0 438.5,109.7 439.4,114.5 440.3,119.1 441.2,123.3 442.1,126.6 443.0,129.0 443.8,130.2 444.7,130.1 445.6,128.8 446.5,126.4 447.4,122.9 448.3,118.7 449.2,114.1 450.1,109.2 451.0,104.6 451.9,100.5 452.8,97.1 453.6,94.8 454.5,93.6 455.4,93.7 456.3,95.0 457.2,97.5 458.1,100.9 459.0,105.2 459.9,109.8 460.8,114.6 461.7,119.3 462.6,123.4 463.5,126.7 464.3,129.0 465.2,130.2 466.1,130.1 467.0,128.8 467.9,126.3 468.8,122.8 469.7,118.6 470.6,113.9 471.5,109.1 472.4,104.5 473.3,100.3 474.2,97.0 475.0,94.7 475.9,93.6 476.8,93.7 477.7,95.1 478.6,97.6 479.5,101.1" fill="none" stroke="#ff1a1a" stroke-width="1.15" stroke-linejoin="round"/>
<polyline points="323.5,130.2 324.4,129.2 325.3,126.9 326.2,123.7 327.1,119.6 328.0,115.0 328.8,110.2 329.7,105.5 330.6,101.2 331.5,97.7 332.4,95.1 333.3,93.7 334.2,93.6 335.1,94.7 336.0,96.9 336.9,100.2 337.8,104.3 338.7,108.9 339.5,113.7 340.4,118.4 341.3,122.6 342.2,126.2 343.1,128.7 344.0,130.1 344.9,130.2 345.8,129.1 346.7,126.8 347.6,123.5 348.5,119.4 349.4,114.8 350.2,110.0 351.1,105.3 352.0,101.1 352.9,97.6 353.8,95.1 354.7,93.7 355.6,93.6 356.5,94.7 357.4,97.0 358.3,100.3 359.2,104.4 360.0,109.1 360.9,113.9 361.8,118.6 362.7,122.8 363.6,126.3 364.5,128.8 365.4,130.1 366.3,130.2 367.2,129.1 368.1,126.7 369.0,123.4 369.9,119.3 370.7,114.7 371.6,109.8 372.5,105.2 373.4,101.0 374.3,97.5 375.2,95.0 376.1,93.7 377.0,93.6 377.9,94.8 378.8,97.1 379.7,100.5 380.6,104.6 381.4,109.2 382.3,114.0 383.2,118.7 384.1,122.9 385.0,126.4 385.9,128.8 386.8,130.1 387.7,130.2 388.6,129.0 389.5,126.6 390.4,123.3 391.2,119.1 392.1,114.5 393.0,109.7 393.9,105.0 394.8,100.8 395.7,97.4 396.6,94.9 397.5,93.7 398.4,93.6 399.3,94.8 400.2,97.2 401.1,100.6 401.9,104.7 402.8,109.4 403.7,114.2 404.6,118.9 405.5,123.0 406.4,126.5 407.3,128.9 408.2,130.1 409.1,130.2 410.0,128.9 410.9,126.5 411.8,123.1 412.6,119.0 413.5,114.3 414.4,109.5 415.3,104.9 416.2,100.7 417.1,97.3 418.0,94.9 418.9,93.6 419.8,93.6 420.7,94.9 421.6,97.3 422.4,100.7 423.3,104.9 424.2,109.6 425.1,114.4 426.0,119.0 426.9,123.2 427.8,126.6 428.7,128.9 429.6,130.2 430.5,130.1 431.4,128.9 432.3,126.4 433.1,123.0 434.0,118.8 434.9,114.2 435.8,109.4 436.7,104.7 437.6,100.6 438.5,97.2 439.4,94.8 440.3,93.6 441.2,93.7 442.1,95.0 443.0,97.4 443.8,100.9 444.7,105.1 445.6,109.7 446.5,114.5 447.4,119.2 448.3,123.3 449.2,126.7 450.1,129.0 451.0,130.2 451.9,130.1 452.8,128.8 453.6,126.3 454.5,122.9 455.4,118.7 456.3,114.0 457.2,109.2 458.1,104.6 459.0,100.4 459.9,97.1 460.8,94.8 461.7,93.6 462.6,93.7 463.5,95.0 464.3,97.5 465.2,101.0 466.1,105.2 467.0,109.9 467.9,114.7 468.8,119.3 469.7,123.4 470.6,126.8 471.5,129.1 472.4,130.2 473.3,130.1 474.2,128.7 475.0,126.2 475.9,122.7 476.8,118.5 477.7,113.8 478.6,109.0 479.5,104.4" fill="none" stroke="#00fafa" stroke-width="1.15" stroke-linejoin="round"/>
</g>
<rect x="323.5" y="90.8" width="156" height="44.4" fill="none" stroke="#a3203c" stroke-width="1.7"/>
<path d="M338.5 90.8v2.2M338.5 135.2v-2.2" stroke="#a3203c" stroke-width="1.2"/>
<text transform="translate(338.5,147.7) scale(1.15,1)" font-size="10.0" font-weight="normal" text-anchor="middle" fill="#a3203c">0.62</text>
<path d="M364.1 90.8v2.2M364.1 135.2v-2.2" stroke="#a3203c" stroke-width="1.2"/>
<text transform="translate(364.1,147.7) scale(1.15,1)" font-size="10.0" font-weight="normal" text-anchor="middle" fill="#a3203c">0.64</text>
<path d="M389.8 90.8v2.2M389.8 135.2v-2.2" stroke="#a3203c" stroke-width="1.2"/>
<text transform="translate(389.8,147.7) scale(1.15,1)" font-size="10.0" font-weight="normal" text-anchor="middle" fill="#a3203c">0.66</text>
<path d="M415.4 90.8v2.2M415.4 135.2v-2.2" stroke="#a3203c" stroke-width="1.2"/>
<text transform="translate(415.4,147.7) scale(1.15,1)" font-size="10.0" font-weight="normal" text-anchor="middle" fill="#a3203c">0.68</text>
<path d="M441 90.8v2.2M441 135.2v-2.2" stroke="#a3203c" stroke-width="1.2"/>
<text transform="translate(441,147.7) scale(1.15,1)" font-size="10.0" font-weight="normal" text-anchor="middle" fill="#a3203c">0.7</text>
<path d="M466.7 90.8v2.2M466.7 135.2v-2.2" stroke="#a3203c" stroke-width="1.2"/>
<text transform="translate(466.7,147.7) scale(1.15,1)" font-size="10.0" font-weight="normal" text-anchor="middle" fill="#a3203c">0.72</text>
<path d="M323.5 130.5h2M479.5 130.5h-2" stroke="#a3203c" stroke-width="1"/>
<text transform="translate(321.8,133.9) scale(1.15,1)" font-size="10.0" font-weight="normal" text-anchor="end" fill="#a3203c">-5</text>
<path d="M323.5 111.9h2M479.5 111.9h-2" stroke="#a3203c" stroke-width="1"/>
<text transform="translate(321.8,115.3) scale(1.15,1)" font-size="10.0" font-weight="normal" text-anchor="end" fill="#a3203c">0</text>
<path d="M323.5 93.3h2M479.5 93.3h-2" stroke="#a3203c" stroke-width="1"/>
<text transform="translate(321.8,96.7) scale(1.15,1)" font-size="10.0" font-weight="normal" text-anchor="end" fill="#a3203c">5</text>
<line x1="149.8" y1="89.5" x2="317.2" y2="124.4" stroke="#a3203c" stroke-width="1.6"/>
<polygon points="322.6,125.5 316.8,126.3 317.6,122.4" fill="#a3203c"/>
<g>
<line x1="125.1" y1="243.8" x2="125.1" y2="397.9" stroke="#dedede" stroke-width="1.8"/>
<line x1="193.6" y1="243.8" x2="193.6" y2="397.9" stroke="#dedede" stroke-width="1.8"/>
<line x1="262" y1="243.8" x2="262" y2="397.9" stroke="#dedede" stroke-width="1.8"/>
<line x1="330.5" y1="243.8" x2="330.5" y2="397.9" stroke="#dedede" stroke-width="1.8"/>
<line x1="398.9" y1="243.8" x2="398.9" y2="397.9" stroke="#dedede" stroke-width="1.8"/>
<line x1="467.4" y1="243.8" x2="467.4" y2="397.9" stroke="#dedede" stroke-width="1.8"/>
<line x1="56.7" y1="278.1" x2="535.8" y2="278.1" stroke="#dedede" stroke-width="1.5"/>
<line x1="56.7" y1="316" x2="535.8" y2="316" stroke="#dedede" stroke-width="1.5"/>
<line x1="56.7" y1="353.9" x2="535.8" y2="353.9" stroke="#dedede" stroke-width="1.5"/>
<line x1="56.7" y1="391.8" x2="535.8" y2="391.8" stroke="#dedede" stroke-width="1.5"/>
<path d="M56.7 243.8v4.6M56.7 397.9v-4.6" stroke="#000" stroke-width="2.2"/>
<path d="M70.4 243.8v2.8M70.4 397.9v-2.8" stroke="#000" stroke-width="2.2"/>
<path d="M84.1 243.8v2.8M84.1 397.9v-2.8" stroke="#000" stroke-width="2.2"/>
<path d="M97.8 243.8v2.8M97.8 397.9v-2.8" stroke="#000" stroke-width="2.2"/>
<path d="M111.5 243.8v2.8M111.5 397.9v-2.8" stroke="#000" stroke-width="2.2"/>
<path d="M125.1 243.8v4.6M125.1 397.9v-4.6" stroke="#000" stroke-width="2.2"/>
<path d="M138.8 243.8v2.8M138.8 397.9v-2.8" stroke="#000" stroke-width="2.2"/>
<path d="M152.5 243.8v2.8M152.5 397.9v-2.8" stroke="#000" stroke-width="2.2"/>
<path d="M166.2 243.8v2.8M166.2 397.9v-2.8" stroke="#000" stroke-width="2.2"/>
<path d="M179.9 243.8v2.8M179.9 397.9v-2.8" stroke="#000" stroke-width="2.2"/>
<path d="M193.6 243.8v4.6M193.6 397.9v-4.6" stroke="#000" stroke-width="2.2"/>
<path d="M207.3 243.8v2.8M207.3 397.9v-2.8" stroke="#000" stroke-width="2.2"/>
<path d="M221 243.8v2.8M221 397.9v-2.8" stroke="#000" stroke-width="2.2"/>
<path d="M234.7 243.8v2.8M234.7 397.9v-2.8" stroke="#000" stroke-width="2.2"/>
<path d="M248.3 243.8v2.8M248.3 397.9v-2.8" stroke="#000" stroke-width="2.2"/>
<path d="M262 243.8v4.6M262 397.9v-4.6" stroke="#000" stroke-width="2.2"/>
<path d="M275.7 243.8v2.8M275.7 397.9v-2.8" stroke="#000" stroke-width="2.2"/>
<path d="M289.4 243.8v2.8M289.4 397.9v-2.8" stroke="#000" stroke-width="2.2"/>
<path d="M303.1 243.8v2.8M303.1 397.9v-2.8" stroke="#000" stroke-width="2.2"/>
<path d="M316.8 243.8v2.8M316.8 397.9v-2.8" stroke="#000" stroke-width="2.2"/>
<path d="M330.5 243.8v4.6M330.5 397.9v-4.6" stroke="#000" stroke-width="2.2"/>
<path d="M344.2 243.8v2.8M344.2 397.9v-2.8" stroke="#000" stroke-width="2.2"/>
<path d="M357.8 243.8v2.8M357.8 397.9v-2.8" stroke="#000" stroke-width="2.2"/>
<path d="M371.5 243.8v2.8M371.5 397.9v-2.8" stroke="#000" stroke-width="2.2"/>
<path d="M385.2 243.8v2.8M385.2 397.9v-2.8" stroke="#000" stroke-width="2.2"/>
<path d="M398.9 243.8v4.6M398.9 397.9v-4.6" stroke="#000" stroke-width="2.2"/>
<path d="M412.6 243.8v2.8M412.6 397.9v-2.8" stroke="#000" stroke-width="2.2"/>
<path d="M426.3 243.8v2.8M426.3 397.9v-2.8" stroke="#000" stroke-width="2.2"/>
<path d="M440 243.8v2.8M440 397.9v-2.8" stroke="#000" stroke-width="2.2"/>
<path d="M453.7 243.8v2.8M453.7 397.9v-2.8" stroke="#000" stroke-width="2.2"/>
<path d="M467.4 243.8v4.6M467.4 397.9v-4.6" stroke="#000" stroke-width="2.2"/>
<path d="M481 243.8v2.8M481 397.9v-2.8" stroke="#000" stroke-width="2.2"/>
<path d="M494.7 243.8v2.8M494.7 397.9v-2.8" stroke="#000" stroke-width="2.2"/>
<path d="M508.4 243.8v2.8M508.4 397.9v-2.8" stroke="#000" stroke-width="2.2"/>
<path d="M522.1 243.8v2.8M522.1 397.9v-2.8" stroke="#000" stroke-width="2.2"/>
<path d="M535.8 243.8v4.6M535.8 397.9v-4.6" stroke="#000" stroke-width="2.2"/>
<path d="M56.7 278.1h6.5M535.8 278.1h-6.5" stroke="#000" stroke-width="1.7"/>
<path d="M56.7 316h6.5M535.8 316h-6.5" stroke="#000" stroke-width="1.7"/>
<path d="M56.7 353.9h6.5M535.8 353.9h-6.5" stroke="#000" stroke-width="1.7"/>
<path d="M56.7 391.8h6.5M535.8 391.8h-6.5" stroke="#000" stroke-width="1.7"/>
<rect x="56.7" y="243.8" width="479.1" height="154.1" fill="none" stroke="#000" stroke-width="2.4"/>
<line x1="56.7" y1="243.8" x2="56.7" y2="397.9" stroke="#000" stroke-width="2.9"/>
<line x1="535.8" y1="243.8" x2="535.8" y2="397.9" stroke="#000" stroke-width="2.9"/>
<line x1="56.4" y1="315.2" x2="56.4" y2="286.8" stroke="#ff1a1a" stroke-width="1.2"/>
<line x1="57.5" y1="314.9" x2="57.5" y2="353.9" stroke="#00fafa" stroke-width="1.5"/>
<polyline points="57.8,315.2 59.4,313.7 60.8,315.6 63.5,314.9" fill="none" stroke="#00fafa" stroke-width="1.2"/>
<line x1="64.5" y1="304.6" x2="64.5" y2="270.5" stroke="#ffee00" stroke-width="1.3"/>
<polyline points="65.2,279 65.1,305 63.9,318 63.7,382" fill="none" stroke="#ff1a1a" stroke-width="1.3"/>
<line x1="63.7" y1="258.0" x2="63.7" y2="352.0" stroke="#00fafa" stroke-width="1.4"/>
<polyline points="65.7,326.5 66.0,320.3 66.3,311.6 66.6,304.5 66.9,303.7 67.2,310.6 67.4,321.9 67.7,331.0 68.0,331.8 68.3,322.8 68.6,308.9 68.9,299.1 69.2,299.2 69.4,309.2 69.7,323.1 70.0,332.9 70.3,332.8 70.6,322.8 70.9,308.9 71.2,299.1 71.4,299.2 71.7,309.2 72.0,323.1 72.3,332.9 72.6,332.8 72.9,322.8 73.2,308.9 73.4,299.1 73.7,299.2 74.0,309.2 74.3,323.2 74.6,333.0 74.9,332.8 75.1,322.8 75.4,308.8 75.7,299.0 76.0,299.2 76.3,309.2 76.6,323.2 76.9,333.0 77.1,332.8 77.4,322.8 77.7,308.8 78.0,299.0 78.3,299.2 78.6,309.2 78.9,323.2 79.1,333.0 79.4,332.8 79.7,322.8 80.0,308.8 80.3,299.0 80.6,299.1 80.9,309.2 81.1,323.3 81.4,333.1 81.7,332.9 82.0,322.8 82.3,308.7 82.6,298.9 82.8,299.1 83.1,309.2 83.4,323.3 83.7,333.1 84.0,332.9 84.3,322.8 84.6,308.7 84.8,298.9 85.1,299.1 85.4,309.2 85.7,323.3 86.0,333.1 86.3,332.9 86.6,322.8 86.8,308.7 87.1,298.9 87.4,299.1 87.7,309.2 88.0,323.3 88.3,333.2 88.6,332.9 88.8,322.8 89.1,308.6 89.4,298.8 89.7,299.1 90.0,309.2 90.3,323.4 90.5,333.2 90.8,332.9 91.1,322.8 91.4,308.6 91.7,298.8 92.0,299.1 92.3,309.3 92.5,323.4 92.8,333.2 93.1,333.0 93.4,322.7 93.7,308.6 94.0,298.7 94.3,299.0 94.5,309.3 94.8,323.4 95.1,333.3 95.4,333.0 95.7,322.7 96.0,308.5 96.3,298.7 96.5,299.0 96.8,309.3 97.1,323.5 97.4,333.3 97.7,333.0 98.0,322.7 98.3,308.5 98.5,298.7 98.8,299.0 99.1,309.3 99.4,323.5 99.7,333.4 100.0,333.1 100.2,322.7 100.5,308.4 100.8,298.6 101.1,298.9 101.4,309.3 101.7,323.6 102.0,333.5 102.2,333.1 102.5,322.7 102.8,308.4 103.1,298.5 103.4,298.8 103.7,309.2 104.0,323.6 104.2,333.6 104.5,333.2 104.8,322.8 105.1,308.3 105.4,298.4 105.7,298.7 106.0,309.2 106.2,323.7 106.5,333.7 106.8,333.3 107.1,322.8 107.4,308.3 107.7,298.3 107.9,298.7 108.2,309.2 108.5,323.8 108.8,333.8 109.1,333.4 109.4,322.8 109.7,308.2 109.9,298.2 110.2,298.6 110.5,309.2 110.8,323.8 111.1,333.9 111.4,333.5 111.7,322.8 111.9,308.1 112.2,298.1 112.5,298.5 112.8,309.2 113.1,323.9 113.4,334.0 113.7,333.5 113.9,322.8 114.2,308.1 114.5,298.0 114.8,298.4 115.1,309.2 115.4,323.9 115.7,334.1 115.9,333.6 116.2,322.8 116.5,308.0 116.8,297.9 117.1,298.4 117.4,309.2 117.6,324.0 117.9,334.2 118.2,333.7 118.5,322.8 118.8,308.0 119.1,297.8 119.4,298.3 119.6,309.2 119.9,324.1 120.2,334.3 120.5,333.8 120.8,322.8 121.1,307.9 121.4,297.7 121.6,298.2 121.9,309.2 122.2,324.1 122.5,334.4 122.8,333.8 123.1,322.9 123.4,307.8 123.6,297.6 123.9,298.1 124.2,309.1 124.5,324.2 124.8,334.5 125.1,333.9 125.3,322.9 125.6,307.8 125.9,297.5 126.2,298.0 126.5,309.1 126.8,324.3 127.1,334.6 127.3,334.0 127.6,322.9 127.9,307.7 128.2,297.4 128.5,298.0 128.8,309.1 129.1,324.3 129.3,334.7 129.6,334.1 129.9,322.9 130.2,307.7 130.5,297.3 130.8,297.9 131.1,309.1 131.3,324.4 131.6,334.8 131.9,334.1 132.2,322.9 132.5,307.6 132.8,297.2 133.0,297.8 133.3,309.1 133.6,324.4 133.9,334.8 134.2,334.2 134.5,322.9 134.8,307.5 135.0,297.1 135.3,297.7 135.6,309.1 135.9,324.5 136.2,334.9 136.5,334.3 136.8,322.9 137.0,307.5 137.3,297.0 137.6,297.7 137.9,309.1 138.2,324.6 138.5,335.0 138.8,334.4 139.0,323.0 139.3,307.3 139.6,296.6 139.9,297.1 140.2,308.9 140.5,324.9 140.8,336.0 141.0,335.4 141.3,323.3 141.6,306.8 141.9,295.5 142.2,296.5 142.5,308.8 142.7,324.6 143.0,333.9 143.3,332.1 143.6,321.8 143.9,308.8 144.2,300.3 144.5,301.0 144.7,310.5 145.0,322.9 145.3,331.1 145.6,330.4 145.9,321.3 146.2,309.3 146.5,301.4 146.7,302.1 147.0,310.9 147.3,322.4 147.6,330.1 147.9,329.5 148.2,321.0 148.5,309.7 148.7,302.2 149.0,302.8 149.3,311.1 149.6,322.2 149.9,329.5 150.2,328.9 150.4,320.8 150.7,309.9 151.0,302.8 151.3,303.4 151.6,311.3 151.9,321.9 152.2,329.0 152.4,328.3 152.7,320.5 153.0,310.2 153.3,303.3 153.6,303.9 153.9,311.5 154.2,321.7 154.4,328.5 154.7,328.0 155.0,320.4 155.3,310.3 155.6,303.7 155.9,304.2 156.2,311.7 156.4,321.6 156.7,328.2 157.0,327.6 157.3,320.2 157.6,310.5 157.9,304.0 158.2,304.6 158.4,311.8 158.7,321.4 159.0,329.7 159.3,331.8 159.6,322.5 159.9,307.7 160.1,298.2 160.4,299.4 160.7,310.0 161.0,323.8 161.3,333.0 161.6,332.2 161.9,321.9 162.1,308.2 162.4,299.0 162.7,299.8 163.0,310.1 163.3,323.8 163.6,333.0 163.9,332.2 164.1,321.9 164.4,308.2 164.7,299.0 165.0,299.8 165.3,310.1 165.6,323.8 165.9,333.0 166.1,332.2 166.4,321.9 166.7,308.1 167.0,299.0 167.3,299.8 167.6,310.1 167.8,323.9 168.1,333.0 168.4,332.2 168.7,321.9 169.0,308.1 169.3,299.0 169.6,299.9 169.8,310.1 170.1,323.9 170.4,333.0 170.7,332.1 171.0,321.8 171.3,308.1 171.6,299.0 171.8,299.9 172.1,310.2 172.4,323.9 172.7,333.0 173.0,332.1 173.3,321.8 173.6,308.1 173.8,299.0 174.1,299.9 174.4,310.2 174.7,323.9 175.0,333.0 175.3,332.1 175.5,321.8 175.8,308.1 176.1,299.0 176.4,299.9 176.7,310.2 177.0,323.9 177.3,333.0 177.5,332.1 177.8,321.8 178.1,308.1 178.4,299.0 178.7,299.9 179.0,310.2 179.3,323.9 179.5,333.0 179.8,332.1 180.1,321.7 180.4,308.1 180.7,299.0 181.0,299.9 181.3,310.3 181.5,323.9 181.8,333.0 182.1,332.0 182.4,321.7 182.7,308.0 183.0,299.0 183.3,300.0 183.5,310.3 183.8,324.0 184.1,333.0 184.4,332.0 184.7,321.7 185.0,308.0 185.2,299.0 185.5,300.0 185.8,310.3 186.1,324.0 186.4,333.0 186.7,332.0 187.0,321.7 187.2,308.0 187.5,299.0 187.8,300.0 188.1,310.3 188.4,324.0 188.7,333.0 189.0,332.0 189.2,321.6 189.5,308.0 189.8,299.0 190.1,300.0 190.4,310.4 190.7,324.0 191.0,333.0 191.2,332.0 191.5,321.6 191.8,308.0 192.1,299.0 192.4,300.0 192.7,310.4 192.9,324.0 193.2,333.0 193.5,332.0 193.8,321.6 194.1,308.0 194.4,299.0 194.7,300.1 194.9,310.4 195.2,324.0 195.5,333.0 195.8,331.9 196.1,321.6 196.4,308.0 196.7,299.0 196.9,300.1 197.2,310.4 197.5,324.1 197.8,333.0 198.1,331.9 198.4,321.6 198.7,307.9 198.9,299.0 199.2,300.1 199.5,310.5 199.8,324.1 200.1,333.0 200.4,331.9 200.7,321.5 200.9,307.9 201.2,299.0 201.5,300.1 201.8,310.5 202.1,324.1 202.4,332.9 202.6,331.9 202.9,321.5 203.2,307.9 203.5,299.1 203.8,300.1 204.1,310.5 204.4,324.1 204.6,332.9 204.9,331.8 205.2,321.5 205.5,307.9 205.8,299.2 206.1,300.3 206.4,310.6 206.6,324.0 206.9,332.7 207.2,331.6 207.5,321.4 207.8,308.0 208.1,299.3 208.4,300.5 208.6,310.7 208.9,324.0 209.2,332.6 209.5,331.4 209.8,321.3 210.1,308.1 210.3,299.5 210.6,300.7 210.9,310.7 211.2,323.9 211.5,332.4 211.8,331.3 212.1,321.2 212.3,308.2 212.6,299.7 212.9,300.8 213.2,310.8 213.5,323.8 213.8,332.2 214.1,331.1 214.3,321.1 214.6,308.2 214.9,299.9 215.2,301.0 215.5,310.9 215.8,323.7 216.1,332.0 216.3,330.9 216.6,321.1 216.9,308.3 217.2,300.1 217.5,301.2 217.8,311.0 218.0,323.7 218.3,331.8 218.6,330.7 218.9,321.0 219.2,308.4 219.5,300.3 219.8,301.4 220.0,311.1 220.3,323.6 220.6,331.6 220.9,330.5 221.2,320.9 221.5,308.5 221.8,300.5 222.0,301.6 222.3,311.2 222.6,323.5 222.9,331.4 223.2,330.3 223.5,320.8 223.8,308.5 224.0,300.7 224.3,301.8 224.6,311.2 224.9,323.4 225.2,331.2 225.5,330.1 225.8,320.7 226.0,308.6 226.3,300.9 226.6,302.0 226.9,311.3 227.2,323.3 227.5,331.0 227.7,329.9 228.0,320.6 228.3,308.7 228.6,301.1 228.9,302.2 229.2,311.4 229.5,323.3 229.7,330.8 230.0,329.7 230.3,320.6 230.6,308.8 230.9,301.2 231.2,302.4 231.5,311.5 231.7,323.2 232.0,330.7 232.3,329.5 232.6,320.5 232.9,308.9 233.2,301.4 233.5,302.6 233.7,311.5 234.0,323.1 234.3,330.5 234.6,329.3 234.9,320.4 235.2,308.9 235.4,301.6 235.7,302.8 236.0,311.6 236.3,323.0 236.6,330.3 236.9,329.1 237.2,320.3 237.4,309.0 237.7,301.8 238.0,302.9 238.3,311.7 238.6,322.9 238.9,330.1 239.2,329.0 239.4,320.3 239.7,309.1 240.0,302.0 240.3,303.1 240.6,311.8 240.9,322.9 241.2,329.9 241.4,328.8 241.7,320.2 242.0,309.2 242.3,302.2 242.6,303.3 242.9,311.9 243.1,322.8 243.4,329.7 243.7,328.6 244.0,320.1 244.3,309.3 244.6,302.4 244.9,303.5 245.1,311.9 245.4,322.7 245.7,329.5 246.0,328.4 246.3,320.0 246.6,309.3 246.9,302.6 247.1,303.7 247.4,312.0 247.7,322.6 248.0,329.3 248.3,328.2 248.6,320.0 248.9,309.4 249.1,302.8 249.4,303.9 249.7,312.1 250.0,322.5 250.3,329.1 250.6,328.0 250.9,319.9 251.1,309.5 251.4,303.0 251.7,304.1 252.0,312.2 252.3,322.4 252.6,328.9 252.8,327.8 253.1,319.8 253.4,309.6 253.7,303.2 254.0,304.3 254.3,312.2 254.6,322.4 254.8,328.7 255.1,327.6 255.4,319.7 255.7,309.7 256.0,303.4 256.3,304.5 256.6,312.3 256.8,322.3 257.1,328.5 257.4,327.4 257.7,319.7 258.0,309.8 258.3,303.6 258.6,304.6 258.8,312.4 259.1,322.2 259.4,328.4 259.7,327.3 260.0,319.6 260.3,309.8 260.5,303.7 260.8,304.8 261.1,312.5 261.4,322.1 261.7,328.2 262.0,327.1 262.3,319.5 262.5,309.9 262.8,303.9 263.1,305.0 263.4,312.5 263.7,322.0 264.0,328.0 264.3,327.0 264.5,319.5 264.8,310.0 265.1,304.0 265.4,305.1 265.7,312.5 266.0,322.1 266.3,328.0 266.5,326.9 266.8,319.5 267.1,309.9 267.4,304.0 267.7,305.1 268.0,312.6 268.3,322.1 268.5,328.0 268.8,326.9 269.1,319.4 269.4,309.9 269.7,304.0 270.0,305.1 270.2,312.6 270.5,322.1 270.8,328.0 271.1,326.9 271.4,319.4 271.7,309.9 272.0,304.0 272.2,305.1 272.5,312.6 272.8,322.1 273.1,328.0 273.4,326.9 273.7,319.4 274.0,309.9 274.2,304.0 274.5,305.1 274.8,312.6 275.1,322.1 275.4,328.0 275.7,326.9 276.0,319.4 276.2,309.9 276.5,304.0 276.8,305.1 277.1,312.6 277.4,322.1 277.7,328.0 277.9,326.9 278.2,319.4 278.5,309.9 278.8,304.0 279.1,305.1 279.4,312.6 279.7,322.1 279.9,328.0 280.2,326.9 280.5,319.4 280.8,309.9 281.1,304.0 281.4,305.1 281.7,312.6 281.9,322.1 282.2,328.0 282.5,326.9 282.8,319.4 283.1,309.8 283.4,303.9 283.7,305.1 283.9,312.7 284.2,322.2 284.5,328.1 284.8,326.9 285.1,319.3 285.4,309.8 285.6,303.9 285.9,305.1 286.2,312.7 286.5,322.2 286.8,328.1 287.1,326.9 287.4,319.3 287.6,309.8 287.9,303.9 288.2,305.1 288.5,312.7 288.8,322.2 289.1,328.1 289.4,326.9 289.6,319.3 289.9,309.8 290.2,303.9 290.5,305.1 290.8,312.7 291.1,322.2 291.4,328.1 291.6,326.9 291.9,319.3 292.2,309.8 292.5,303.9 292.8,305.1 293.1,312.7 293.4,322.2 293.6,328.1 293.9,326.9 294.2,319.3 294.5,309.8 294.8,303.9 295.1,305.1 295.3,312.7 295.6,322.2 295.9,328.1 296.2,326.8 296.5,319.3 296.8,309.8 297.1,303.9 297.3,305.2 297.6,312.7 297.9,322.2 298.2,328.1 298.5,326.8 298.8,319.2 299.1,309.8 299.3,303.9 299.6,305.2 299.9,312.8 300.2,322.3 300.5,328.1 300.8,326.8 301.1,319.2 301.3,309.7 301.6,303.9 301.9,305.2 302.2,312.8 302.5,322.3 302.8,328.1 303.0,326.8 303.3,319.2 303.6,309.7 303.9,303.9 304.2,305.2 304.5,312.8 304.8,322.3 305.0,328.1 305.3,326.8 305.6,319.2 305.9,309.7 306.2,303.9 306.5,305.2 306.8,312.8 307.0,322.3 307.3,328.1 307.6,326.8 307.9,319.2 308.2,309.7 308.5,303.9 308.8,305.2 309.0,312.8 309.3,322.3 309.6,328.1 309.9,326.8 310.2,319.2 310.5,309.7 310.8,303.9 311.0,305.2 311.3,312.8 311.6,322.3 311.9,328.1 312.2,326.8 312.5,319.2 312.7,309.7 313.0,303.9 313.3,305.2 313.6,312.8 313.9,322.3 314.2,328.1 314.5,326.8 314.7,319.1 315.0,309.7 315.3,303.9 315.6,305.2 315.9,312.9 316.2,322.3 316.5,328.1 316.7,326.8 317.0,319.1 317.3,309.7 317.6,303.9 317.9,305.2 318.2,312.9 318.5,322.4 318.7,328.1 319.0,326.8 319.3,319.1 319.6,309.6 319.9,303.9 320.2,305.2 320.4,312.9 320.7,322.4 321.0,328.1 321.3,326.8 321.6,319.1 321.9,309.6 322.2,303.9 322.4,305.2 322.7,312.9 323.0,322.4 323.3,328.1 323.6,326.8 323.9,319.1 324.2,309.6 324.4,303.9 324.7,305.2 325.0,312.9 325.3,322.4 325.6,328.1 325.9,326.7 326.2,319.1 326.4,309.6 326.7,303.9 327.0,305.3 327.3,312.9 327.6,322.4 327.9,328.1 328.1,326.7 328.4,319.1 328.7,309.6 329.0,303.9 329.3,305.3 329.6,312.9 329.9,322.4 330.1,328.1 330.4,326.7 330.7,319.0 331.0,309.6 331.3,303.9 331.6,305.3 331.9,313.0 332.1,322.4 332.4,328.1 332.7,326.7 333.0,319.0 333.3,309.6 333.6,303.9 333.9,305.3 334.1,313.0 334.4,322.4 334.7,328.1 335.0,326.7 335.3,319.0 335.6,309.5 335.9,303.9 336.1,305.3 336.4,313.0 336.7,322.5 337.0,328.1 337.3,326.7 337.6,319.0 337.8,309.5 338.1,303.9 338.4,305.3 338.7,313.0 339.0,322.5 339.3,328.1 339.6,326.7 339.8,319.0 340.1,309.5 340.4,303.9 340.7,305.3 341.0,313.0 341.3,322.5 341.6,328.1 341.8,326.7 342.1,319.0 342.4,309.5 342.7,303.8 343.0,305.3 343.3,313.0 343.6,322.5 343.8,328.2 344.1,326.7 344.4,319.0 344.7,309.5 345.0,303.8 345.3,305.3 345.5,313.1 345.8,322.5 346.1,328.2 346.4,326.7 346.7,318.9 347.0,309.5 347.3,303.8 347.5,305.3 347.8,313.1 348.1,322.5 348.4,328.2 348.7,326.7 349.0,318.9 349.3,309.5 349.5,303.8 349.8,305.3 350.1,313.1 350.4,322.5 350.7,328.2 351.0,326.7 351.3,318.9 351.5,309.5 351.8,303.8 352.1,305.3 352.4,313.1 352.7,322.6 353.0,328.2 353.3,326.7 353.5,318.9 353.8,309.4 354.1,303.8 354.4,305.4 354.7,313.1 355.0,322.6 355.2,328.2 355.5,326.6 355.8,318.9 356.1,309.4 356.4,303.8 356.7,305.4 357.0,313.1 357.2,322.6 357.5,328.2 357.8,326.6 358.1,318.9 358.4,309.4 358.7,303.8 359.0,305.4 359.2,313.1 359.5,322.6 359.8,328.2 360.1,326.6 360.4,318.9 360.7,309.4 361.0,303.8 361.2,305.4 361.5,313.2 361.8,322.6 362.1,328.2 362.4,326.6 362.7,318.8 362.9,309.4 363.2,303.8 363.5,305.4 363.8,313.2 364.1,322.6 364.4,328.2 364.7,326.6 364.9,318.8 365.2,309.4 365.5,303.8 365.8,305.4 366.1,313.2 366.4,322.6 366.7,328.2 366.9,326.6 367.2,318.8 367.5,309.4 367.8,303.8 368.1,305.4 368.4,313.2 368.7,322.6 368.9,328.2 369.2,326.6 369.5,318.8 369.8,309.4 370.1,303.8 370.4,305.4 370.6,313.2 370.9,322.7 371.2,328.2 371.5,326.6 371.8,318.8 372.1,309.3 372.4,303.8 372.6,305.4 372.9,313.2 373.2,322.7 373.5,328.2 373.8,326.6 374.1,318.8 374.4,309.3 374.6,303.8 374.9,305.4 375.2,313.2 375.5,322.7 375.8,328.2 376.1,326.6 376.4,318.7 376.6,309.3 376.9,303.8 377.2,305.4 377.5,313.3 377.8,322.7 378.1,328.2 378.4,326.6 378.6,318.7 378.9,309.3 379.2,303.8 379.5,305.4 379.8,313.3 380.1,322.7 380.3,328.2 380.6,326.6 380.9,318.7 381.2,309.3 381.5,303.8 381.8,305.4 382.1,313.3 382.3,322.7 382.6,328.2 382.9,326.5 383.2,318.7 383.5,309.3 383.8,303.8 384.1,305.5 384.3,313.3 384.6,322.7 384.9,328.2 385.2,326.5 385.5,318.7 385.8,309.3 386.1,303.8 386.3,305.5 386.6,313.3 386.9,322.7 387.2,328.2 387.5,326.5 387.8,318.7 388.0,309.2 388.3,303.8 388.6,305.5 388.9,313.3 389.2,322.8 389.5,328.2 389.8,326.5 390.0,318.7 390.3,309.2 390.6,303.8 390.9,305.5 391.2,313.4 391.5,322.8 391.8,328.2 392.0,326.5 392.3,318.6 392.6,309.2 392.9,303.8 393.2,305.5 393.5,313.4 393.8,322.8 394.0,328.2 394.3,326.5 394.6,318.6 394.9,309.2 395.2,303.8 395.5,305.5 395.8,313.4 396.0,322.8 396.3,328.2 396.6,326.5 396.9,318.6 397.2,309.2 397.5,303.8 397.7,305.5 398.0,313.4 398.3,322.8 398.6,328.2 398.9,326.5 399.2,318.6 399.5,309.2 399.7,303.7 400.0,305.4 400.3,313.4 400.6,322.9 400.9,328.4 401.2,326.6 401.5,318.6 401.7,309.0 402.0,303.5 402.3,305.3 402.6,313.4 402.9,323.0 403.2,328.6 403.5,326.8 403.7,318.6 404.0,308.9 404.3,303.3 404.6,305.1 404.9,313.3 405.2,323.1 405.4,328.8 405.7,326.9 406.0,318.7 406.3,308.8 406.6,303.1 406.9,305.0 407.2,313.3 407.4,323.2 407.7,329.0 408.0,327.1 408.3,318.7 408.6,308.7 408.9,302.9 409.2,304.8 409.4,313.3 409.7,323.4 410.0,329.2 410.3,327.2 410.6,318.7 410.9,308.6 411.2,302.8 411.4,304.7 411.7,313.3 412.0,323.5 412.3,329.3 412.6,327.4 412.9,318.7 413.1,308.5 413.4,302.6 413.7,304.5 414.0,313.2 414.3,323.6 414.6,329.5 414.9,327.5 415.1,318.8 415.4,308.3 415.7,302.4 416.0,304.4 416.3,313.2 416.6,323.7 416.9,329.7 417.1,327.7 417.4,318.8 417.7,308.2 418.0,302.2 418.3,304.2 418.6,313.2 418.9,323.8 419.1,329.9 419.4,327.8 419.7,318.8 420.0,308.1 420.3,302.0 420.6,304.1 420.9,313.2 421.1,324.0 421.4,330.1 421.7,328.0 422.0,318.8 422.3,308.0 422.6,301.8 422.8,303.9 423.1,313.2 423.4,324.1 423.7,330.3 424.0,328.1 424.3,318.8 424.6,307.9 424.8,301.6 425.1,303.8 425.4,313.1 425.7,324.2 426.0,330.5 426.3,328.3 426.6,318.9 426.8,307.7 427.1,301.4 427.4,303.7 427.7,313.1 428.0,324.3 428.3,330.7 428.6,328.4 428.8,318.9 429.1,307.6 429.4,301.2 429.7,303.5 430.0,313.1 430.3,324.4 430.5,330.9 430.8,328.6 431.1,318.9 431.4,307.5 431.7,301.0 432.0,303.4 432.3,313.1 432.5,324.6 432.8,331.0 433.1,328.7 433.4,318.9 433.7,307.4 434.0,300.9 434.3,303.2 434.5,313.1 434.8,324.7 435.1,331.2 435.4,328.9 435.7,318.9 436.0,307.3 436.3,300.7 436.5,303.1 436.8,313.1 437.1,324.8 437.4,331.4 437.7,329.0 438.0,319.0 438.2,307.1 438.5,300.5 438.8,302.9 439.1,313.0 439.4,324.9 439.7,331.6 440.0,329.2 440.2,319.0 440.5,307.0 440.8,300.3 441.1,302.8 441.4,313.0 441.7,325.1 442.0,331.8 442.2,329.3 442.5,319.0 442.8,306.9 443.1,300.1 443.4,302.6 443.7,313.0 444.0,325.2 444.2,332.0 444.5,329.4 444.8,319.0 445.1,306.8 445.4,299.9 445.7,302.5 446.0,313.0 446.2,325.3 446.5,332.2 446.8,329.6 447.1,319.0 447.4,306.6 447.7,299.7 447.9,302.3 448.2,313.0 448.5,325.4 448.8,332.4 449.1,329.7 449.4,319.0 449.7,306.5 449.9,299.5 450.2,302.2 450.5,313.0 450.8,325.5 451.1,332.6 451.4,329.9 451.7,319.0 451.9,306.4 452.2,299.3 452.5,302.0 452.8,313.0 453.1,325.7 453.4,332.8 453.7,330.0 453.9,319.1 454.2,306.3 454.5,299.2 454.8,301.9 455.1,312.9 455.4,325.8 455.6,332.9 455.9,330.2 456.2,319.1 456.5,306.1 456.8,299.0 457.1,301.8 457.4,312.9 457.6,325.9 457.9,333.1 458.2,330.3 458.5,319.1 458.8,306.0 459.1,298.8 459.4,301.6 459.6,312.9 459.9,326.0 460.2,333.3 460.5,330.5 460.8,319.1 461.1,305.9 461.4,298.6 461.6,301.5 461.9,312.9 462.2,326.2 462.5,333.5 462.8,330.6 463.1,319.1 463.4,305.8 463.6,298.4 463.9,301.3 464.2,312.9 464.5,326.3 464.8,333.7 465.1,330.7 465.3,319.1 465.6,305.6 465.9,298.2 466.2,301.2 466.5,312.9 466.8,326.4 467.1,333.9 467.3,330.9 467.6,319.1 467.9,305.5 468.2,298.1 468.5,301.1 468.8,312.9 469.1,326.5 469.3,333.9 469.6,330.9 469.9,319.1 470.2,305.5 470.5,298.1 470.8,301.1 471.1,312.9 471.3,326.5 471.6,333.9 471.9,330.9 472.2,319.1 472.5,305.5 472.8,298.1 473.0,301.1 473.3,312.9 473.6,326.5 473.9,333.9 474.2,330.8 474.5,319.1 474.8,305.5 475.0,298.1 475.3,301.2 475.6,313.0 475.9,326.5 476.2,333.9 476.5,330.8 476.8,319.0 477.0,305.5 477.3,298.1 477.6,301.2 477.9,313.0 478.2,326.5 478.5,333.9 478.8,330.8 479.0,319.0 479.3,305.4 479.6,298.1 479.9,301.2 480.2,313.0 480.5,326.6 480.7,333.9 481.0,330.8 481.3,319.0 481.6,305.4 481.9,298.1 482.2,301.2 482.5,313.0 482.7,326.6 483.0,333.9 483.3,330.8 483.6,319.0 483.9,305.4 484.2,298.1 484.5,301.2 484.7,313.0 485.0,326.6 485.3,334.0 485.6,330.8 485.9,318.9 486.2,305.4 486.5,298.0 486.7,301.2 487.0,313.1 487.3,326.6 487.6,334.0 487.9,330.8 488.2,318.9 488.5,305.4 488.7,298.0 489.0,301.2 489.3,313.1 489.6,326.6 489.9,334.0 490.2,330.8 490.4,318.9 490.7,305.4 491.0,298.0 491.3,301.3 491.6,313.1 491.9,326.7 492.2,334.0 492.4,330.7 492.7,318.9 493.0,305.3 493.3,298.0 493.6,301.3 493.9,313.1 494.2,326.7 494.4,334.0 494.7,330.7 495.0,318.9 495.3,305.3 495.6,298.0 495.9,301.3 496.2,313.1 496.4,326.7 496.7,334.0 497.0,330.7 497.3,318.8 497.6,305.3 497.9,298.0 498.1,301.3 498.4,313.2 498.7,326.7 499.0,334.0 499.3,330.7 499.6,318.8 499.9,305.3 500.1,298.0 500.4,301.3 500.7,313.2 501.0,326.7 501.3,334.0 501.6,330.7 501.9,318.8 502.1,305.3 502.4,298.0 502.7,301.3 503.0,313.2 503.3,326.7 503.6,334.0 503.9,330.7 504.1,318.8 504.4,305.2 504.7,298.0 505.0,301.3 505.3,313.2 505.6,326.8 505.9,334.0 506.1,330.7 506.4,318.8 506.7,305.2 507.0,298.0 507.3,301.3 507.6,313.3 507.8,326.8 508.1,334.0 508.4,330.6 508.7,318.7 509.0,305.2 509.3,298.0 509.6,301.4 509.8,313.3 510.1,326.8 510.4,334.0 510.7,330.6 511.0,318.7 511.3,305.2 511.6,298.0 511.8,301.4 512.1,313.3 512.4,326.8 512.7,334.0 513.0,330.6 513.3,318.7 513.6,305.2 513.8,298.0 514.1,301.4 514.4,313.3 514.7,326.8 515.0,334.0 515.3,330.6 515.5,318.7 515.8,305.2 516.1,298.0 516.4,301.4 516.7,313.3 517.0,326.9 517.3,334.0 517.5,330.6 517.8,318.6 518.1,305.1 518.4,298.0 518.7,301.4 519.0,313.4 519.3,326.9 519.5,334.0 519.8,330.6 520.1,318.6 520.4,305.1 520.7,298.0 521.0,301.4 521.3,313.4 521.5,326.9 521.8,334.0 522.1,330.6 522.4,318.6 522.7,305.1 523.0,298.0 523.2,301.4 523.5,313.4 523.8,326.9 524.1,334.0 524.4,330.6 524.7,318.6 525.0,305.1 525.2,298.0 525.5,301.4 525.8,313.4 526.1,326.9 526.4,334.0 526.7,330.5 527.0,318.6 527.2,305.1 527.5,298.0 527.8,301.5 528.1,313.5 528.4,326.9 528.7,334.0 529.0,330.5 529.2,318.5 529.5,305.0 529.8,298.0 530.1,301.5 530.4,313.5 530.7,327.0 531.0,334.0 531.2,330.5 531.5,318.5 531.8,305.0 532.1,298.0 532.4,301.5 532.7,313.5 532.9,327.0 533.2,334.0 533.5,330.5 533.8,318.5 534.1,305.0 534.4,298.0 534.7,301.5 534.9,313.5 535.2,327.0 535.5,334.0 535.8,330.5" fill="none" stroke="#ffee00" stroke-width="1.0" stroke-linejoin="round"/>
<polyline points="65.7,314.6 66.0,323.0 66.3,327.4 66.6,325.8 66.9,317.7 67.2,307.2 67.4,300.9 67.7,303.2 68.0,313.9 68.3,327.1 68.6,334.1 68.9,330.4 69.2,318.2 69.4,304.8 69.7,297.9 70.0,301.6 70.3,313.8 70.6,327.2 70.9,334.1 71.2,330.4 71.4,318.2 71.7,304.8 72.0,297.9 72.3,301.6 72.6,313.8 72.9,327.2 73.2,334.1 73.4,330.4 73.7,318.2 74.0,304.7 74.3,297.9 74.6,301.6 74.9,313.8 75.1,327.3 75.4,334.2 75.7,330.4 76.0,318.2 76.3,304.7 76.6,297.8 76.9,301.6 77.1,313.8 77.4,327.3 77.7,334.2 78.0,330.4 78.3,318.2 78.6,304.7 78.9,297.8 79.1,301.6 79.4,313.8 79.7,327.3 80.0,334.2 80.3,330.4 80.6,318.2 80.9,304.6 81.1,297.8 81.4,301.6 81.7,313.9 82.0,327.4 82.3,334.2 82.6,330.4 82.8,318.1 83.1,304.6 83.4,297.7 83.7,301.6 84.0,313.9 84.3,327.4 84.6,334.3 84.8,330.4 85.1,318.1 85.4,304.6 85.7,297.7 86.0,301.6 86.3,313.9 86.6,327.5 86.8,334.3 87.1,330.4 87.4,318.1 87.7,304.5 88.0,297.7 88.3,301.6 88.6,313.9 88.8,327.5 89.1,334.3 89.4,330.4 89.7,318.1 90.0,304.5 90.3,297.6 90.5,301.6 90.8,313.9 91.1,327.5 91.4,334.4 91.7,330.5 92.0,318.1 92.3,304.5 92.5,297.6 92.8,301.5 93.1,313.9 93.4,327.6 93.7,334.4 94.0,330.5 94.3,318.0 94.5,304.4 94.8,297.6 95.1,301.5 95.4,314.0 95.7,327.6 96.0,334.4 96.3,330.5 96.5,318.0 96.8,304.4 97.1,297.5 97.4,301.5 97.7,314.0 98.0,327.6 98.3,334.5 98.5,330.5 98.8,318.0 99.1,304.3 99.4,297.5 99.7,301.5 100.0,314.0 100.2,327.7 100.5,334.6 100.8,330.6 101.1,318.0 101.4,304.2 101.7,297.4 102.0,301.4 102.2,314.0 102.5,327.8 102.8,334.7 103.1,330.6 103.4,318.0 103.7,304.2 104.0,297.3 104.2,301.4 104.5,314.0 104.8,327.9 105.1,334.8 105.4,330.7 105.7,318.0 106.0,304.1 106.2,297.2 106.5,301.3 106.8,314.0 107.1,327.9 107.4,334.9 107.7,330.7 107.9,318.0 108.2,304.0 108.5,297.1 108.8,301.2 109.1,314.1 109.4,328.0 109.7,335.0 109.9,330.8 110.2,317.9 110.5,303.9 110.8,297.0 111.1,301.2 111.4,314.1 111.7,328.1 111.9,335.1 112.2,330.9 112.5,317.9 112.8,303.9 113.1,296.9 113.4,301.1 113.7,314.1 113.9,328.2 114.2,335.2 114.5,330.9 114.8,317.9 115.1,303.8 115.4,296.8 115.7,301.1 115.9,314.1 116.2,328.3 116.5,335.3 116.8,331.0 117.1,317.9 117.4,303.7 117.6,296.7 117.9,301.0 118.2,314.1 118.5,328.3 118.8,335.4 119.1,331.0 119.4,317.9 119.6,303.6 119.9,296.6 120.2,300.9 120.5,314.1 120.8,328.4 121.1,335.4 121.4,331.1 121.6,317.9 121.9,303.5 122.2,296.5 122.5,300.9 122.8,314.1 123.1,328.5 123.4,335.5 123.6,331.1 123.9,317.9 124.2,303.5 124.5,296.4 124.8,300.8 125.1,314.2 125.3,328.6 125.6,335.6 125.9,331.2 126.2,317.8 126.5,303.4 126.8,296.3 127.1,300.8 127.3,314.2 127.6,328.7 127.9,335.7 128.2,331.3 128.5,317.8 128.8,303.3 129.1,296.2 129.3,300.7 129.6,314.2 129.9,328.7 130.2,335.8 130.5,331.3 130.8,317.8 131.1,303.2 131.3,296.1 131.6,300.7 131.9,314.2 132.2,328.8 132.5,335.9 132.8,331.4 133.0,317.8 133.3,303.1 133.6,296.0 133.9,300.6 134.2,314.2 134.5,328.9 134.8,336.0 135.0,331.4 135.3,317.8 135.6,303.1 135.9,295.9 136.2,300.5 136.5,314.2 136.8,329.0 137.0,336.1 137.3,331.5 137.6,317.8 137.9,303.0 138.2,295.8 138.5,300.5 138.8,314.2 139.0,329.1 139.3,336.4 139.6,331.8 139.9,317.8 140.2,302.5 140.5,295.0 140.8,299.8 141.0,314.2 141.3,329.9 141.6,337.6 141.9,332.6 142.2,317.8 142.5,302.3 142.7,295.8 143.0,301.5 143.3,314.5 143.6,327.0 143.9,332.8 144.2,328.7 144.5,317.4 144.7,305.4 145.0,299.8 145.3,303.7 145.6,314.7 145.9,326.2 146.2,331.6 146.5,327.8 146.7,317.3 147.0,306.2 147.3,301.0 147.6,304.6 147.9,314.8 148.2,325.6 148.5,330.7 148.7,327.2 149.0,317.2 149.3,306.6 149.6,301.6 149.9,305.0 150.2,314.9 150.4,325.2 150.7,330.1 151.0,326.7 151.3,317.1 151.6,307.0 151.9,302.2 152.2,305.5 152.4,314.9 152.7,324.8 153.0,329.5 153.3,326.3 153.6,317.1 153.9,307.3 154.2,302.7 154.4,305.9 154.7,315.0 155.0,324.6 155.3,329.1 155.6,325.9 155.9,317.0 156.2,307.6 156.4,303.1 156.7,306.2 157.0,315.0 157.3,324.3 157.6,328.7 157.9,325.6 158.2,317.0 158.4,307.8 158.7,303.5 159.0,305.0 159.3,314.7 159.6,328.8 159.9,335.2 160.1,330.3 160.4,317.4 160.7,304.2 161.0,298.0 161.3,302.4 161.6,314.7 161.9,327.7 162.1,333.9 162.4,329.6 162.7,317.3 163.0,304.2 163.3,298.1 163.6,302.4 163.9,314.7 164.1,327.8 164.4,333.9 164.7,329.6 165.0,317.3 165.3,304.2 165.6,298.1 165.9,302.4 166.1,314.7 166.4,327.8 166.7,333.9 167.0,329.6 167.3,317.3 167.6,304.2 167.8,298.1 168.1,302.4 168.4,314.7 168.7,327.8 169.0,333.9 169.3,329.6 169.6,317.3 169.8,304.2 170.1,298.1 170.4,302.4 170.7,314.8 171.0,327.8 171.3,333.9 171.6,329.5 171.8,317.2 172.1,304.2 172.4,298.1 172.7,302.5 173.0,314.8 173.3,327.8 173.6,333.9 173.8,329.5 174.1,317.2 174.4,304.2 174.7,298.1 175.0,302.5 175.3,314.8 175.5,327.8 175.8,333.9 176.1,329.5 176.4,317.2 176.7,304.2 177.0,298.1 177.3,302.5 177.5,314.8 177.8,327.8 178.1,333.9 178.4,329.5 178.7,317.2 179.0,304.2 179.3,298.1 179.5,302.5 179.8,314.8 180.1,327.8 180.4,333.9 180.7,329.5 181.0,317.1 181.3,304.2 181.5,298.1 181.8,302.6 182.1,314.9 182.4,327.8 182.7,333.9 183.0,329.4 183.3,317.1 183.5,304.2 183.8,298.1 184.1,302.6 184.4,314.9 184.7,327.8 185.0,333.9 185.2,329.4 185.5,317.1 185.8,304.1 186.1,298.1 186.4,302.6 186.7,314.9 187.0,327.9 187.2,333.9 187.5,329.4 187.8,317.1 188.1,304.1 188.4,298.1 188.7,302.6 189.0,314.9 189.2,327.9 189.5,333.8 189.8,329.4 190.1,317.1 190.4,304.1 190.7,298.2 191.0,302.6 191.2,315.0 191.5,327.9 191.8,333.8 192.1,329.3 192.4,317.0 192.7,304.1 192.9,298.2 193.2,302.7 193.5,315.0 193.8,327.9 194.1,333.8 194.4,329.3 194.7,317.0 194.9,304.1 195.2,298.2 195.5,302.7 195.8,315.0 196.1,327.9 196.4,333.8 196.7,329.3 196.9,317.0 197.2,304.1 197.5,298.2 197.8,302.7 198.1,315.0 198.4,327.9 198.7,333.8 198.9,329.3 199.2,317.0 199.5,304.1 199.8,298.2 200.1,302.7 200.4,315.0 200.7,327.9 200.9,333.8 201.2,329.3 201.5,316.9 201.8,304.1 202.1,298.2 202.4,302.8 202.6,315.1 202.9,327.9 203.2,333.8 203.5,329.2 203.8,316.9 204.1,304.1 204.4,298.2 204.6,302.8 204.9,315.1 205.2,327.9 205.5,333.7 205.8,329.1 206.1,316.9 206.4,304.2 206.6,298.4 206.9,302.9 207.2,315.1 207.5,327.8 207.8,333.5 208.1,329.0 208.4,316.9 208.6,304.3 208.9,298.6 209.2,303.1 209.5,315.2 209.8,327.7 210.1,333.3 210.3,328.8 210.6,316.8 210.9,304.4 211.2,298.8 211.5,303.3 211.8,315.2 212.1,327.5 212.3,333.1 212.6,328.6 212.9,316.8 213.2,304.5 213.5,299.0 213.8,303.4 214.1,315.2 214.3,327.4 214.6,332.9 214.9,328.5 215.2,316.8 215.5,304.7 215.8,299.2 216.1,303.6 216.3,315.2 216.6,327.3 216.9,332.7 217.2,328.3 217.5,316.7 217.8,304.8 218.0,299.4 218.3,303.8 218.6,315.3 218.9,327.2 219.2,332.5 219.5,328.1 219.8,316.7 220.0,304.9 220.3,299.6 220.6,303.9 220.9,315.3 221.2,327.0 221.5,332.3 221.8,328.0 222.0,316.7 222.3,305.0 222.6,299.8 222.9,304.1 223.2,315.3 223.5,326.9 223.8,332.1 224.0,327.8 224.3,316.7 224.6,305.2 224.9,300.0 225.2,304.3 225.5,315.4 225.8,326.8 226.0,331.9 226.3,327.6 226.6,316.6 226.9,305.3 227.2,300.2 227.5,304.4 227.7,315.4 228.0,326.7 228.3,331.7 228.6,327.5 228.9,316.6 229.2,305.4 229.5,300.4 229.7,304.6 230.0,315.4 230.3,326.5 230.6,331.5 230.9,327.3 231.2,316.6 231.5,305.5 231.7,300.6 232.0,304.8 232.3,315.4 232.6,326.4 232.9,331.2 233.2,327.2 233.5,316.5 233.7,305.7 234.0,300.9 234.3,304.9 234.6,315.5 234.9,326.3 235.2,331.0 235.4,327.0 235.7,316.5 236.0,305.8 236.3,301.1 236.6,305.1 236.9,315.5 237.2,326.2 237.4,330.8 237.7,326.8 238.0,316.5 238.3,305.9 238.6,301.3 238.9,305.3 239.2,315.5 239.4,326.0 239.7,330.6 240.0,326.7 240.3,316.5 240.6,306.0 240.9,301.5 241.2,305.4 241.4,315.5 241.7,325.9 242.0,330.4 242.3,326.5 242.6,316.4 242.9,306.2 243.1,301.7 243.4,305.6 243.7,315.6 244.0,325.8 244.3,330.2 244.6,326.3 244.9,316.4 245.1,306.3 245.4,301.9 245.7,305.7 246.0,315.6 246.3,325.6 246.6,330.0 246.9,326.2 247.1,316.4 247.4,306.4 247.7,302.1 248.0,305.9 248.3,315.6 248.6,325.5 248.9,329.8 249.1,326.0 249.4,316.4 249.7,306.6 250.0,302.3 250.3,306.1 250.6,315.6 250.9,325.4 251.1,329.6 251.4,325.9 251.7,316.4 252.0,306.7 252.3,302.5 252.6,306.2 252.8,315.7 253.1,325.3 253.4,329.4 253.7,325.7 254.0,316.3 254.3,306.8 254.6,302.7 254.8,306.4 255.1,315.7 255.4,325.1 255.7,329.2 256.0,325.5 256.3,316.3 256.6,306.9 256.8,302.9 257.1,306.5 257.4,315.7 257.7,325.0 258.0,329.0 258.3,325.4 258.6,316.3 258.8,307.1 259.1,303.1 259.4,306.7 259.7,315.7 260.0,324.9 260.3,328.8 260.5,325.2 260.8,316.3 261.1,307.2 261.4,303.3 261.7,306.9 262.0,315.7 262.3,324.7 262.5,328.6 262.8,325.1 263.1,316.3 263.4,307.3 263.7,303.5 264.0,307.0 264.3,315.8 264.5,324.7 264.8,328.5 265.1,325.0 265.4,316.2 265.7,307.3 266.0,303.5 266.3,307.0 266.5,315.8 266.8,324.7 267.1,328.5 267.4,325.0 267.7,316.2 268.0,307.3 268.3,303.5 268.5,307.0 268.8,315.8 269.1,324.7 269.4,328.5 269.7,325.0 270.0,316.2 270.2,307.3 270.5,303.5 270.8,307.0 271.1,315.8 271.4,324.7 271.7,328.5 272.0,325.0 272.2,316.2 272.5,307.3 272.8,303.5 273.1,307.0 273.4,315.8 273.7,324.7 274.0,328.5 274.2,325.0 274.5,316.2 274.8,307.3 275.1,303.5 275.4,307.0 275.7,315.8 276.0,324.7 276.2,328.5 276.5,325.0 276.8,316.2 277.1,307.3 277.4,303.5 277.7,307.0 277.9,315.8 278.2,324.7 278.5,328.5 278.8,324.9 279.1,316.1 279.4,307.3 279.7,303.5 279.9,307.1 280.2,315.9 280.5,324.7 280.8,328.5 281.1,324.9 281.4,316.1 281.7,307.2 281.9,303.5 282.2,307.1 282.5,315.9 282.8,324.8 283.1,328.5 283.4,324.9 283.7,316.1 283.9,307.2 284.2,303.5 284.5,307.1 284.8,315.9 285.1,324.8 285.4,328.5 285.6,324.9 285.9,316.1 286.2,307.2 286.5,303.5 286.8,307.1 287.1,315.9 287.4,324.8 287.6,328.5 287.9,324.9 288.2,316.1 288.5,307.2 288.8,303.5 289.1,307.1 289.4,315.9 289.6,324.8 289.9,328.5 290.2,324.9 290.5,316.1 290.8,307.2 291.1,303.5 291.4,307.1 291.6,315.9 291.9,324.8 292.2,328.5 292.5,324.9 292.8,316.1 293.1,307.2 293.4,303.5 293.6,307.1 293.9,316.0 294.2,324.8 294.5,328.5 294.8,324.9 295.1,316.0 295.3,307.2 295.6,303.5 295.9,307.1 296.2,316.0 296.5,324.8 296.8,328.5 297.1,324.9 297.3,316.0 297.6,307.2 297.9,303.5 298.2,307.1 298.5,316.0 298.8,324.8 299.1,328.5 299.3,324.9 299.6,316.0 299.9,307.2 300.2,303.5 300.5,307.2 300.8,316.0 301.1,324.8 301.3,328.5 301.6,324.8 301.9,316.0 302.2,307.1 302.5,303.5 302.8,307.2 303.0,316.0 303.3,324.9 303.6,328.5 303.9,324.8 304.2,316.0 304.5,307.1 304.8,303.5 305.0,307.2 305.3,316.0 305.6,324.9 305.9,328.5 306.2,324.8 306.5,316.0 306.8,307.1 307.0,303.5 307.3,307.2 307.6,316.0 307.9,324.9 308.2,328.5 308.5,324.8 308.8,315.9 309.0,307.1 309.3,303.5 309.6,307.2 309.9,316.1 310.2,324.9 310.5,328.5 310.8,324.8 311.0,315.9 311.3,307.1 311.6,303.5 311.9,307.2 312.2,316.1 312.5,324.9 312.7,328.5 313.0,324.8 313.3,315.9 313.6,307.1 313.9,303.5 314.2,307.2 314.5,316.1 314.7,324.9 315.0,328.5 315.3,324.8 315.6,315.9 315.9,307.1 316.2,303.5 316.5,307.2 316.7,316.1 317.0,324.9 317.3,328.5 317.6,324.8 317.9,315.9 318.2,307.1 318.5,303.5 318.7,307.2 319.0,316.1 319.3,324.9 319.6,328.5 319.9,324.8 320.2,315.9 320.4,307.1 320.7,303.5 321.0,307.3 321.3,316.1 321.6,324.9 321.9,328.5 322.2,324.7 322.4,315.9 322.7,307.1 323.0,303.5 323.3,307.3 323.6,316.2 323.9,325.0 324.2,328.5 324.4,324.7 324.7,315.8 325.0,307.0 325.3,303.5 325.6,307.3 325.9,316.2 326.2,325.0 326.4,328.5 326.7,324.7 327.0,315.8 327.3,307.0 327.6,303.5 327.9,307.3 328.1,316.2 328.4,325.0 328.7,328.5 329.0,324.7 329.3,315.8 329.6,307.0 329.9,303.5 330.1,307.3 330.4,316.2 330.7,325.0 331.0,328.5 331.3,324.7 331.6,315.8 331.9,307.0 332.1,303.5 332.4,307.3 332.7,316.2 333.0,325.0 333.3,328.5 333.6,324.7 333.9,315.8 334.1,307.0 334.4,303.5 334.7,307.3 335.0,316.2 335.3,325.0 335.6,328.5 335.9,324.7 336.1,315.8 336.4,307.0 336.7,303.5 337.0,307.3 337.3,316.2 337.6,325.0 337.8,328.5 338.1,324.7 338.4,315.7 338.7,307.0 339.0,303.5 339.3,307.3 339.6,316.3 339.8,325.0 340.1,328.5 340.4,324.7 340.7,315.7 341.0,307.0 341.3,303.5 341.6,307.4 341.8,316.3 342.1,325.0 342.4,328.5 342.7,324.6 343.0,315.7 343.3,307.0 343.6,303.5 343.8,307.4 344.1,316.3 344.4,325.0 344.7,328.5 345.0,324.6 345.3,315.7 345.5,306.9 345.8,303.5 346.1,307.4 346.4,316.3 346.7,325.1 347.0,328.5 347.3,324.6 347.5,315.7 347.8,306.9 348.1,303.5 348.4,307.4 348.7,316.3 349.0,325.1 349.3,328.5 349.5,324.6 349.8,315.7 350.1,306.9 350.4,303.5 350.7,307.4 351.0,316.3 351.3,325.1 351.5,328.5 351.8,324.6 352.1,315.7 352.4,306.9 352.7,303.5 353.0,307.4 353.3,316.4 353.5,325.1 353.8,328.5 354.1,324.6 354.4,315.6 354.7,306.9 355.0,303.5 355.2,307.4 355.5,316.4 355.8,325.1 356.1,328.5 356.4,324.6 356.7,315.6 357.0,306.9 357.2,303.5 357.5,307.4 357.8,316.4 358.1,325.1 358.4,328.5 358.7,324.6 359.0,315.6 359.2,306.9 359.5,303.5 359.8,307.4 360.1,316.4 360.4,325.1 360.7,328.5 361.0,324.6 361.2,315.6 361.5,306.9 361.8,303.5 362.1,307.5 362.4,316.4 362.7,325.1 362.9,328.5 363.2,324.5 363.5,315.6 363.8,306.9 364.1,303.5 364.4,307.5 364.7,316.4 364.9,325.1 365.2,328.5 365.5,324.5 365.8,315.6 366.1,306.9 366.4,303.5 366.7,307.5 366.9,316.4 367.2,325.2 367.5,328.5 367.8,324.5 368.1,315.5 368.4,306.8 368.7,303.5 368.9,307.5 369.2,316.5 369.5,325.2 369.8,328.5 370.1,324.5 370.4,315.5 370.6,306.8 370.9,303.5 371.2,307.5 371.5,316.5 371.8,325.2 372.1,328.5 372.4,324.5 372.6,315.5 372.9,306.8 373.2,303.5 373.5,307.5 373.8,316.5 374.1,325.2 374.4,328.5 374.6,324.5 374.9,315.5 375.2,306.8 375.5,303.5 375.8,307.5 376.1,316.5 376.4,325.2 376.6,328.5 376.9,324.5 377.2,315.5 377.5,306.8 377.8,303.5 378.1,307.5 378.4,316.5 378.6,325.2 378.9,328.5 379.2,324.5 379.5,315.5 379.8,306.8 380.1,303.5 380.3,307.5 380.6,316.5 380.9,325.2 381.2,328.5 381.5,324.5 381.8,315.5 382.1,306.8 382.3,303.5 382.6,307.6 382.9,316.5 383.2,325.2 383.5,328.5 383.8,324.4 384.1,315.4 384.3,306.8 384.6,303.5 384.9,307.6 385.2,316.6 385.5,325.2 385.8,328.5 386.1,324.4 386.3,315.4 386.6,306.8 386.9,303.5 387.2,307.6 387.5,316.6 387.8,325.2 388.0,328.5 388.3,324.4 388.6,315.4 388.9,306.7 389.2,303.5 389.5,307.6 389.8,316.6 390.0,325.3 390.3,328.5 390.6,324.4 390.9,315.4 391.2,306.7 391.5,303.5 391.8,307.6 392.0,316.6 392.3,325.3 392.6,328.5 392.9,324.4 393.2,315.4 393.5,306.7 393.8,303.5 394.0,307.6 394.3,316.6 394.6,325.3 394.9,328.5 395.2,324.4 395.5,315.4 395.8,306.7 396.0,303.5 396.3,307.6 396.6,316.6 396.9,325.3 397.2,328.5 397.5,324.4 397.7,315.4 398.0,306.7 398.3,303.5 398.6,307.6 398.9,316.7 399.2,325.3 399.5,328.5 399.7,324.4 400.0,315.3 400.3,306.6 400.6,303.4 400.9,307.5 401.2,316.7 401.5,325.5 401.7,328.7 402.0,324.5 402.3,315.3 402.6,306.5 402.9,303.2 403.2,307.4 403.5,316.7 403.7,325.6 404.0,328.9 404.3,324.6 404.6,315.3 404.9,306.3 405.2,303.0 405.4,307.3 405.7,316.7 406.0,325.8 406.3,329.1 406.6,324.8 406.9,315.3 407.2,306.2 407.4,302.8 407.7,307.2 408.0,316.8 408.3,325.9 408.6,329.3 408.9,324.9 409.2,315.2 409.4,306.0 409.7,302.6 410.0,307.1 410.3,316.8 410.6,326.1 410.9,329.5 411.2,325.0 411.4,315.2 411.7,305.9 412.0,302.4 412.3,307.0 412.6,316.8 412.9,326.2 413.1,329.7 413.4,325.1 413.7,315.2 414.0,305.7 414.3,302.2 414.6,306.8 414.9,316.8 415.1,326.4 415.4,329.9 415.7,325.2 416.0,315.1 416.3,305.5 416.6,302.1 416.9,306.7 417.1,316.9 417.4,326.5 417.7,330.0 418.0,325.3 418.3,315.1 418.6,305.4 418.9,301.9 419.1,306.6 419.4,316.9 419.7,326.7 420.0,330.2 420.3,325.4 420.6,315.1 420.9,305.2 421.1,301.7 421.4,306.5 421.7,316.9 422.0,326.8 422.3,330.4 422.6,325.5 422.8,315.1 423.1,305.1 423.4,301.5 423.7,306.4 424.0,317.0 424.3,327.0 424.6,330.6 424.8,325.7 425.1,315.0 425.4,304.9 425.7,301.3 426.0,306.3 426.3,317.0 426.6,327.1 426.8,330.8 427.1,325.8 427.4,315.0 427.7,304.8 428.0,301.1 428.3,306.2 428.6,317.0 428.8,327.3 429.1,331.0 429.4,325.9 429.7,315.0 430.0,304.6 430.3,300.9 430.5,306.1 430.8,317.1 431.1,327.5 431.4,331.2 431.7,326.0 432.0,314.9 432.3,304.5 432.5,300.7 432.8,306.0 433.1,317.1 433.4,327.6 433.7,331.4 434.0,326.1 434.3,314.9 434.5,304.3 434.8,300.5 435.1,305.8 435.4,317.1 435.7,327.8 436.0,331.5 436.3,326.2 436.5,314.9 436.8,304.2 437.1,300.4 437.4,305.7 437.7,317.2 438.0,327.9 438.2,331.7 438.5,326.3 438.8,314.8 439.1,304.0 439.4,300.2 439.7,305.6 440.0,317.2 440.2,328.1 440.5,331.9 440.8,326.4 441.1,314.8 441.4,303.8 441.7,300.0 442.0,305.5 442.2,317.2 442.5,328.2 442.8,332.1 443.1,326.5 443.4,314.8 443.7,303.7 444.0,299.8 444.2,305.4 444.5,317.3 444.8,328.4 445.1,332.3 445.4,326.6 445.7,314.7 446.0,303.5 446.2,299.6 446.5,305.3 446.8,317.3 447.1,328.6 447.4,332.5 447.7,326.8 447.9,314.7 448.2,303.4 448.5,299.4 448.8,305.2 449.1,317.3 449.4,328.7 449.7,332.7 449.9,326.9 450.2,314.7 450.5,303.2 450.8,299.2 451.1,305.1 451.4,317.4 451.7,328.9 451.9,332.9 452.2,327.0 452.5,314.6 452.8,303.1 453.1,299.1 453.4,305.0 453.7,317.4 453.9,329.0 454.2,333.0 454.5,327.1 454.8,314.6 455.1,302.9 455.4,298.9 455.6,304.9 455.9,317.4 456.2,329.2 456.5,333.2 456.8,327.2 457.1,314.6 457.4,302.7 457.6,298.7 457.9,304.8 458.2,317.5 458.5,329.3 458.8,333.4 459.1,327.3 459.4,314.5 459.6,302.6 459.9,298.5 460.2,304.7 460.5,317.5 460.8,329.5 461.1,333.6 461.4,327.4 461.6,314.5 461.9,302.4 462.2,298.3 462.5,304.6 462.8,317.5 463.1,329.7 463.4,333.8 463.6,327.5 463.9,314.4 464.2,302.3 464.5,298.1 464.8,304.5 465.1,317.6 465.3,329.8 465.6,334.0 465.9,327.6 466.2,314.4 466.5,302.1 466.8,297.9 467.1,304.3 467.3,317.6 467.6,330.0 467.9,334.1 468.2,327.7 468.5,314.4 468.8,302.0 469.1,297.9 469.3,304.3 469.6,317.6 469.9,330.0 470.2,334.1 470.5,327.6 470.8,314.3 471.1,302.0 471.3,297.9 471.6,304.4 471.9,317.7 472.2,330.0 472.5,334.1 472.8,327.6 473.0,314.3 473.3,302.0 473.6,297.9 473.9,304.4 474.2,317.7 474.5,330.0 474.8,334.1 475.0,327.6 475.3,314.3 475.6,302.0 475.9,297.9 476.2,304.4 476.5,317.7 476.8,330.0 477.0,334.1 477.3,327.6 477.6,314.3 477.9,302.0 478.2,297.9 478.5,304.4 478.8,317.7 479.0,330.0 479.3,334.1 479.6,327.6 479.9,314.3 480.2,302.0 480.5,297.9 480.7,304.4 481.0,317.8 481.3,330.0 481.6,334.1 481.9,327.6 482.2,314.2 482.5,301.9 482.7,297.9 483.0,304.4 483.3,317.8 483.6,330.1 483.9,334.1 484.2,327.5 484.5,314.2 484.7,301.9 485.0,297.9 485.3,304.5 485.6,317.8 485.9,330.1 486.2,334.1 486.5,327.5 486.7,314.2 487.0,301.9 487.3,297.9 487.6,304.5 487.9,317.8 488.2,330.1 488.5,334.1 488.7,327.5 489.0,314.2 489.3,301.9 489.6,297.9 489.9,304.5 490.2,317.8 490.4,330.1 490.7,334.1 491.0,327.5 491.3,314.1 491.6,301.9 491.9,297.9 492.2,304.5 492.4,317.9 492.7,330.1 493.0,334.1 493.3,327.5 493.6,314.1 493.9,301.9 494.2,297.9 494.4,304.5 494.7,317.9 495.0,330.1 495.3,334.1 495.6,327.5 495.9,314.1 496.2,301.9 496.4,297.9 496.7,304.6 497.0,317.9 497.3,330.1 497.6,334.1 497.9,327.4 498.1,314.1 498.4,301.9 498.7,297.9 499.0,304.6 499.3,317.9 499.6,330.2 499.9,334.1 500.1,327.4 500.4,314.1 500.7,301.8 501.0,297.9 501.3,304.6 501.6,317.9 501.9,330.2 502.1,334.1 502.4,327.4 502.7,314.0 503.0,301.8 503.3,297.9 503.6,304.6 503.9,318.0 504.1,330.2 504.4,334.1 504.7,327.4 505.0,314.0 505.3,301.8 505.6,297.9 505.9,304.6 506.1,318.0 506.4,330.2 506.7,334.1 507.0,327.4 507.3,314.0 507.6,301.8 507.8,297.9 508.1,304.6 508.4,318.0 508.7,330.2 509.0,334.1 509.3,327.4 509.6,314.0 509.8,301.8 510.1,297.9 510.4,304.7 510.7,318.0 511.0,330.2 511.3,334.1 511.6,327.3 511.8,314.0 512.1,301.8 512.4,297.9 512.7,304.7 513.0,318.1 513.3,330.2 513.6,334.1 513.8,327.3 514.1,313.9 514.4,301.8 514.7,297.9 515.0,304.7 515.3,318.1 515.5,330.3 515.8,334.1 516.1,327.3 516.4,313.9 516.7,301.7 517.0,297.9 517.3,304.7 517.5,318.1 517.8,330.3 518.1,334.1 518.4,327.3 518.7,313.9 519.0,301.7 519.3,297.9 519.5,304.7 519.8,318.1 520.1,330.3 520.4,334.1 520.7,327.3 521.0,313.9 521.3,301.7 521.5,297.9 521.8,304.7 522.1,318.1 522.4,330.3 522.7,334.1 523.0,327.2 523.2,313.8 523.5,301.7 523.8,297.9 524.1,304.8 524.4,318.2 524.7,330.3 525.0,334.1 525.2,327.2 525.5,313.8 525.8,301.7 526.1,297.9 526.4,304.8 526.7,318.2 527.0,330.3 527.2,334.1 527.5,327.2 527.8,313.8 528.1,301.7 528.4,297.9 528.7,304.8 529.0,318.2 529.2,330.3 529.5,334.1 529.8,327.2 530.1,313.8 530.4,301.7 530.7,297.9 531.0,304.8 531.2,318.2 531.5,330.3 531.8,334.1 532.1,327.2 532.4,313.8 532.7,301.6 532.9,297.9 533.2,304.8 533.5,318.3 533.8,330.4 534.1,334.1 534.4,327.2 534.7,313.7 534.9,301.6 535.2,298.0 535.5,304.8 535.8,318.3" fill="none" stroke="#ff1a1a" stroke-width="0.8" stroke-linejoin="round"/>
<polyline points="65.7,306.9 66.0,304.7 66.3,309.1 66.6,317.7 66.9,326.6 67.2,330.2 67.4,325.2 67.7,313.8 68.0,302.3 68.3,298.1 68.6,305.0 68.9,318.5 69.2,330.5 69.4,334.0 69.7,327.0 70.0,313.5 70.3,301.5 70.6,298.0 70.9,305.0 71.2,318.5 71.4,330.6 71.7,334.1 72.0,327.0 72.3,313.5 72.6,301.4 72.9,297.9 73.2,305.0 73.4,318.6 73.7,330.6 74.0,334.1 74.3,327.0 74.6,313.4 74.9,301.4 75.1,297.9 75.4,305.0 75.7,318.6 76.0,330.6 76.3,334.1 76.6,327.0 76.9,313.4 77.1,301.4 77.4,297.9 77.7,305.0 78.0,318.6 78.3,330.7 78.6,334.1 78.9,327.0 79.1,313.4 79.4,301.3 79.7,297.9 80.0,305.0 80.3,318.6 80.6,330.7 80.9,334.2 81.1,327.0 81.4,313.4 81.7,301.3 82.0,297.8 82.3,305.0 82.6,318.7 82.8,330.7 83.1,334.2 83.4,327.0 83.7,313.3 84.0,301.2 84.3,297.8 84.6,305.0 84.8,318.7 85.1,330.8 85.4,334.2 85.7,327.0 86.0,313.3 86.3,301.2 86.6,297.8 86.8,305.0 87.1,318.7 87.4,330.8 87.7,334.2 88.0,327.0 88.3,313.3 88.6,301.2 88.8,297.7 89.1,305.0 89.4,318.7 89.7,330.9 90.0,334.3 90.3,327.0 90.5,313.2 90.8,301.1 91.1,297.7 91.4,305.0 91.7,318.8 92.0,330.9 92.3,334.3 92.5,327.0 92.8,313.2 93.1,301.1 93.4,297.7 93.7,305.0 94.0,318.8 94.3,330.9 94.5,334.3 94.8,327.0 95.1,313.2 95.4,301.1 95.7,297.7 96.0,305.0 96.3,318.8 96.5,331.0 96.8,334.3 97.1,327.0 97.4,313.2 97.7,301.0 98.0,297.6 98.3,305.0 98.5,318.8 98.8,331.0 99.1,334.4 99.4,327.0 99.7,313.1 100.0,300.9 100.2,297.5 100.5,305.0 100.8,318.9 101.1,331.1 101.4,334.5 101.7,327.0 102.0,313.1 102.2,300.8 102.5,297.5 102.8,304.9 103.1,318.9 103.4,331.2 103.7,334.6 104.0,327.1 104.2,313.1 104.5,300.8 104.8,297.4 105.1,304.9 105.4,319.0 105.7,331.3 106.0,334.7 106.2,327.1 106.5,313.0 106.8,300.7 107.1,297.3 107.4,304.9 107.7,319.0 107.9,331.4 108.2,334.8 108.5,327.1 108.8,313.0 109.1,300.6 109.4,297.2 109.7,304.8 109.9,319.0 110.2,331.5 110.5,334.9 110.8,327.2 111.1,312.9 111.4,300.5 111.7,297.1 111.9,304.8 112.2,319.1 112.5,331.6 112.8,334.9 113.1,327.2 113.4,312.9 113.7,300.4 113.9,297.0 114.2,304.8 114.5,319.1 114.8,331.7 115.1,335.0 115.4,327.3 115.7,312.9 115.9,300.3 116.2,296.9 116.5,304.7 116.8,319.2 117.1,331.7 117.4,335.1 117.6,327.3 117.9,312.8 118.2,300.2 118.5,296.8 118.8,304.7 119.1,319.2 119.4,331.8 119.6,335.2 119.9,327.3 120.2,312.8 120.5,300.1 120.8,296.7 121.1,304.7 121.4,319.2 121.6,331.9 121.9,335.3 122.2,327.4 122.5,312.8 122.8,300.0 123.1,296.7 123.4,304.6 123.6,319.3 123.9,332.0 124.2,335.4 124.5,327.4 124.8,312.7 125.1,299.9 125.3,296.6 125.6,304.6 125.9,319.3 126.2,332.1 126.5,335.5 126.8,327.4 127.1,312.7 127.3,299.8 127.6,296.5 127.9,304.5 128.2,319.3 128.5,332.2 128.8,335.6 129.1,327.5 129.3,312.6 129.6,299.8 129.9,296.4 130.2,304.5 130.5,319.4 130.8,332.3 131.1,335.7 131.3,327.5 131.6,312.6 131.9,299.7 132.2,296.3 132.5,304.5 132.8,319.4 133.0,332.4 133.3,335.8 133.6,327.5 133.9,312.6 134.2,299.6 134.5,296.2 134.8,304.4 135.0,319.5 135.3,332.5 135.6,335.8 135.9,327.6 136.2,312.5 136.5,299.5 136.8,296.1 137.0,304.4 137.3,319.5 137.6,332.6 137.9,335.9 138.2,327.6 138.5,312.5 138.8,299.4 139.0,295.9 139.3,304.2 139.6,319.6 139.9,333.1 140.2,336.6 140.5,328.1 140.8,312.3 141.0,298.5 141.3,294.8 141.6,303.6 141.9,319.8 142.2,333.7 142.5,336.9 142.7,327.6 143.0,312.6 143.3,301.4 143.6,299.3 143.9,306.4 144.2,319.0 144.5,329.6 144.7,332.1 145.0,325.3 145.3,313.1 145.6,302.9 145.9,300.5 146.2,307.1 146.5,318.8 146.7,328.6 147.0,330.9 147.3,324.6 147.6,313.3 147.9,303.7 148.2,301.4 148.5,307.6 148.7,318.6 149.0,328.0 149.3,330.3 149.6,324.2 149.9,313.4 150.2,304.2 150.4,302.0 150.7,308.0 151.0,318.5 151.3,327.5 151.6,329.7 151.9,323.8 152.2,313.5 152.4,304.7 152.7,302.6 153.0,308.3 153.3,318.5 153.6,327.1 153.9,329.2 154.2,323.6 154.4,313.6 154.7,305.1 155.0,303.0 155.3,308.6 155.6,318.4 155.9,326.8 156.2,328.8 156.4,323.3 156.7,313.6 157.0,305.4 157.3,303.4 157.6,308.8 157.9,318.3 158.2,326.4 158.4,328.4 158.7,323.1 159.0,313.3 159.3,301.6 159.6,296.7 159.9,305.2 160.1,319.5 160.4,331.2 160.7,333.7 161.0,326.1 161.3,312.6 161.6,301.1 161.9,298.3 162.1,305.9 162.4,319.4 162.7,330.9 163.0,333.7 163.3,326.1 163.6,312.6 163.9,301.1 164.1,298.3 164.4,305.9 164.7,319.4 165.0,330.9 165.3,333.7 165.6,326.1 165.9,312.6 166.1,301.1 166.4,298.3 166.7,305.9 167.0,319.4 167.3,330.9 167.6,333.6 167.8,326.1 168.1,312.6 168.4,301.1 168.7,298.4 169.0,305.9 169.3,319.4 169.6,330.9 169.8,333.6 170.1,326.0 170.4,312.6 170.7,301.1 171.0,298.4 171.3,306.0 171.6,319.4 171.8,330.9 172.1,333.6 172.4,326.0 172.7,312.6 173.0,301.1 173.3,298.4 173.6,306.0 173.8,319.5 174.1,330.9 174.4,333.6 174.7,326.0 175.0,312.5 175.3,301.1 175.5,298.4 175.8,306.0 176.1,319.5 176.4,330.9 176.7,333.6 177.0,326.0 177.3,312.5 177.5,301.1 177.8,298.4 178.1,306.0 178.4,319.5 178.7,330.9 179.0,333.6 179.3,325.9 179.5,312.5 179.8,301.1 180.1,298.4 180.4,306.1 180.7,319.5 181.0,330.9 181.3,333.6 181.5,325.9 181.8,312.5 182.1,301.1 182.4,298.4 182.7,306.1 183.0,319.5 183.3,330.9 183.5,333.6 183.8,325.9 184.1,312.5 184.4,301.1 184.7,298.5 185.0,306.1 185.2,319.6 185.5,330.9 185.8,333.5 186.1,325.9 186.4,312.4 186.7,301.1 187.0,298.5 187.2,306.1 187.5,319.6 187.8,330.9 188.1,333.5 188.4,325.9 188.7,312.4 189.0,301.1 189.2,298.5 189.5,306.2 189.8,319.6 190.1,330.9 190.4,333.5 190.7,325.8 191.0,312.4 191.2,301.1 191.5,298.5 191.8,306.2 192.1,319.6 192.4,330.9 192.7,333.5 192.9,325.8 193.2,312.4 193.5,301.1 193.8,298.5 194.1,306.2 194.4,319.6 194.7,330.9 194.9,333.5 195.2,325.8 195.5,312.4 195.8,301.1 196.1,298.5 196.4,306.2 196.7,319.7 196.9,330.9 197.2,333.5 197.5,325.8 197.8,312.3 198.1,301.1 198.4,298.5 198.7,306.3 198.9,319.7 199.2,330.9 199.5,333.5 199.8,325.7 200.1,312.3 200.4,301.1 200.7,298.6 200.9,306.3 201.2,319.7 201.5,330.9 201.8,333.4 202.1,325.7 202.4,312.3 202.6,301.1 202.9,298.6 203.2,306.3 203.5,319.7 203.8,330.9 204.1,333.4 204.4,325.7 204.6,312.3 204.9,301.1 205.2,298.6 205.5,306.4 205.8,319.7 206.1,330.8 206.4,333.3 206.6,325.6 206.9,312.3 207.2,301.2 207.5,298.8 207.8,306.5 208.1,319.7 208.4,330.7 208.6,333.1 208.9,325.4 209.2,312.3 209.5,301.4 209.8,299.1 210.1,306.6 210.3,319.7 210.6,330.5 210.9,332.8 211.2,325.3 211.5,312.3 211.8,301.6 212.1,299.3 212.3,306.8 212.6,319.6 212.9,330.4 213.2,332.6 213.5,325.2 213.8,312.4 214.1,301.7 214.3,299.5 214.6,306.9 214.9,319.6 215.2,330.2 215.5,332.4 215.8,325.1 216.1,312.4 216.3,301.9 216.6,299.7 216.9,307.0 217.2,319.6 217.5,330.0 217.8,332.2 218.0,324.9 218.3,312.4 218.6,302.0 218.9,299.9 219.2,307.1 219.5,319.6 219.8,329.9 220.0,332.0 220.3,324.8 220.6,312.4 220.9,302.2 221.2,300.1 221.5,307.3 221.8,319.5 222.0,329.7 222.3,331.8 222.6,324.7 222.9,312.5 223.2,302.4 223.5,300.3 223.8,307.4 224.0,319.5 224.3,329.5 224.6,331.6 224.9,324.5 225.2,312.5 225.5,302.5 225.8,300.5 226.0,307.5 226.3,319.5 226.6,329.4 226.9,331.4 227.2,324.4 227.5,312.5 227.7,302.7 228.0,300.7 228.3,307.6 228.6,319.5 228.9,329.2 229.2,331.2 229.5,324.3 229.7,312.6 230.0,302.9 230.3,300.9 230.6,307.8 230.9,319.4 231.2,329.1 231.5,331.0 231.7,324.2 232.0,312.6 232.3,303.0 232.6,301.1 232.9,307.9 233.2,319.4 233.5,328.9 233.7,330.8 234.0,324.0 234.3,312.6 234.6,303.2 234.9,301.3 235.2,308.0 235.4,319.4 235.7,328.7 236.0,330.6 236.3,323.9 236.6,312.6 236.9,303.4 237.2,301.5 237.4,308.1 237.7,319.4 238.0,328.6 238.3,330.4 238.6,323.8 238.9,312.7 239.2,303.5 239.4,301.7 239.7,308.3 240.0,319.3 240.3,328.4 240.6,330.2 240.9,323.7 241.2,312.7 241.4,303.7 241.7,301.9 242.0,308.4 242.3,319.3 242.6,328.2 242.9,330.0 243.1,323.5 243.4,312.7 243.7,303.9 244.0,302.1 244.3,308.5 244.6,319.3 244.9,328.1 245.1,329.8 245.4,323.4 245.7,312.8 246.0,304.0 246.3,302.3 246.6,308.6 246.9,319.2 247.1,327.9 247.4,329.6 247.7,323.3 248.0,312.8 248.3,304.2 248.6,302.5 248.9,308.8 249.1,319.2 249.4,327.7 249.7,329.4 250.0,323.2 250.3,312.8 250.6,304.4 250.9,302.7 251.1,308.9 251.4,319.2 251.7,327.6 252.0,329.2 252.3,323.1 252.6,312.8 252.8,304.5 253.1,302.9 253.4,309.0 253.7,319.1 254.0,327.4 254.3,329.0 254.6,322.9 254.8,312.9 255.1,304.7 255.4,303.1 255.7,309.1 256.0,319.1 256.3,327.2 256.6,328.8 256.8,322.8 257.1,312.9 257.4,304.9 257.7,303.3 258.0,309.2 258.3,319.1 258.6,327.1 258.8,328.5 259.1,322.7 259.4,312.9 259.7,305.0 260.0,303.6 260.3,309.4 260.5,319.0 260.8,326.9 261.1,328.3 261.4,322.6 261.7,313.0 262.0,305.2 262.3,303.8 262.5,309.5 262.8,319.0 263.1,326.7 263.4,328.1 263.7,322.5 264.0,313.0 264.3,305.3 264.5,303.9 264.8,309.5 265.1,319.0 265.4,326.7 265.7,328.1 266.0,322.5 266.3,313.0 266.5,305.3 266.8,303.9 267.1,309.6 267.4,319.0 267.7,326.7 268.0,328.1 268.3,322.4 268.5,313.0 268.8,305.3 269.1,303.9 269.4,309.6 269.7,319.0 270.0,326.7 270.2,328.1 270.5,322.4 270.8,313.0 271.1,305.3 271.4,303.9 271.7,309.6 272.0,319.1 272.2,326.7 272.5,328.1 272.8,322.4 273.1,312.9 273.4,305.3 273.7,303.9 274.0,309.6 274.2,319.1 274.5,326.7 274.8,328.1 275.1,322.4 275.4,312.9 275.7,305.3 276.0,303.9 276.2,309.6 276.5,319.1 276.8,326.8 277.1,328.1 277.4,322.4 277.7,312.9 277.9,305.2 278.2,303.9 278.5,309.6 278.8,319.1 279.1,326.8 279.4,328.1 279.7,322.4 279.9,312.9 280.2,305.2 280.5,303.9 280.8,309.6 281.1,319.1 281.4,326.8 281.7,328.1 281.9,322.4 282.2,312.9 282.5,305.2 282.8,303.9 283.1,309.6 283.4,319.1 283.7,326.8 283.9,328.1 284.2,322.3 284.5,312.9 284.8,305.2 285.1,303.9 285.4,309.7 285.6,319.1 285.9,326.8 286.2,328.1 286.5,322.3 286.8,312.9 287.1,305.2 287.4,303.9 287.6,309.7 287.9,319.2 288.2,326.8 288.5,328.1 288.8,322.3 289.1,312.8 289.4,305.2 289.6,303.9 289.9,309.7 290.2,319.2 290.5,326.8 290.8,328.1 291.1,322.3 291.4,312.8 291.6,305.2 291.9,303.9 292.2,309.7 292.5,319.2 292.8,326.8 293.1,328.1 293.4,322.3 293.6,312.8 293.9,305.2 294.2,303.9 294.5,309.7 294.8,319.2 295.1,326.8 295.3,328.1 295.6,322.3 295.9,312.8 296.2,305.2 296.5,303.9 296.8,309.7 297.1,319.2 297.3,326.8 297.6,328.1 297.9,322.3 298.2,312.8 298.5,305.2 298.8,303.9 299.1,309.7 299.3,319.2 299.6,326.8 299.9,328.1 300.2,322.3 300.5,312.8 300.8,305.2 301.1,303.9 301.3,309.7 301.6,319.2 301.9,326.8 302.2,328.1 302.5,322.2 302.8,312.8 303.0,305.2 303.3,303.9 303.6,309.8 303.9,319.3 304.2,326.8 304.5,328.1 304.8,322.2 305.0,312.7 305.3,305.2 305.6,303.9 305.9,309.8 306.2,319.3 306.5,326.9 306.8,328.1 307.0,322.2 307.3,312.7 307.6,305.1 307.9,303.9 308.2,309.8 308.5,319.3 308.8,326.9 309.0,328.1 309.3,322.2 309.6,312.7 309.9,305.1 310.2,303.9 310.5,309.8 310.8,319.3 311.0,326.9 311.3,328.1 311.6,322.2 311.9,312.7 312.2,305.1 312.5,303.9 312.7,309.8 313.0,319.3 313.3,326.9 313.6,328.1 313.9,322.2 314.2,312.7 314.5,305.1 314.7,303.9 315.0,309.8 315.3,319.3 315.6,326.9 315.9,328.1 316.2,322.2 316.5,312.7 316.7,305.1 317.0,303.9 317.3,309.8 317.6,319.3 317.9,326.9 318.2,328.1 318.5,322.2 318.7,312.6 319.0,305.1 319.3,304.0 319.6,309.9 319.9,319.4 320.2,326.9 320.4,328.0 320.7,322.1 321.0,312.6 321.3,305.1 321.6,304.0 321.9,309.9 322.2,319.4 322.4,326.9 322.7,328.0 323.0,322.1 323.3,312.6 323.6,305.1 323.9,304.0 324.2,309.9 324.4,319.4 324.7,326.9 325.0,328.0 325.3,322.1 325.6,312.6 325.9,305.1 326.2,304.0 326.4,309.9 326.7,319.4 327.0,326.9 327.3,328.0 327.6,322.1 327.9,312.6 328.1,305.1 328.4,304.0 328.7,309.9 329.0,319.4 329.3,326.9 329.6,328.0 329.9,322.1 330.1,312.6 330.4,305.1 330.7,304.0 331.0,309.9 331.3,319.4 331.6,326.9 331.9,328.0 332.1,322.1 332.4,312.6 332.7,305.1 333.0,304.0 333.3,309.9 333.6,319.4 333.9,326.9 334.1,328.0 334.4,322.1 334.7,312.5 335.0,305.1 335.3,304.0 335.6,309.9 335.9,319.5 336.1,326.9 336.4,328.0 336.7,322.0 337.0,312.5 337.3,305.0 337.6,304.0 337.8,310.0 338.1,319.5 338.4,327.0 338.7,328.0 339.0,322.0 339.3,312.5 339.6,305.0 339.8,304.0 340.1,310.0 340.4,319.5 340.7,327.0 341.0,328.0 341.3,322.0 341.6,312.5 341.8,305.0 342.1,304.0 342.4,310.0 342.7,319.5 343.0,327.0 343.3,328.0 343.6,322.0 343.8,312.5 344.1,305.0 344.4,304.0 344.7,310.0 345.0,319.5 345.3,327.0 345.5,328.0 345.8,322.0 346.1,312.5 346.4,305.0 346.7,304.0 347.0,310.0 347.3,319.5 347.5,327.0 347.8,328.0 348.1,322.0 348.4,312.5 348.7,305.0 349.0,304.0 349.3,310.0 349.5,319.6 349.8,327.0 350.1,328.0 350.4,322.0 350.7,312.4 351.0,305.0 351.3,304.0 351.5,310.0 351.8,319.6 352.1,327.0 352.4,328.0 352.7,322.0 353.0,312.4 353.3,305.0 353.5,304.0 353.8,310.1 354.1,319.6 354.4,327.0 354.7,328.0 355.0,321.9 355.2,312.4 355.5,305.0 355.8,304.0 356.1,310.1 356.4,319.6 356.7,327.0 357.0,328.0 357.2,321.9 357.5,312.4 357.8,305.0 358.1,304.0 358.4,310.1 358.7,319.6 359.0,327.0 359.2,328.0 359.5,321.9 359.8,312.4 360.1,305.0 360.4,304.0 360.7,310.1 361.0,319.6 361.2,327.0 361.5,328.0 361.8,321.9 362.1,312.4 362.4,305.0 362.7,304.0 362.9,310.1 363.2,319.6 363.5,327.0 363.8,328.0 364.1,321.9 364.4,312.4 364.7,305.0 364.9,304.0 365.2,310.1 365.5,319.7 365.8,327.0 366.1,328.0 366.4,321.9 366.7,312.3 366.9,305.0 367.2,304.0 367.5,310.1 367.8,319.7 368.1,327.0 368.4,328.0 368.7,321.9 368.9,312.3 369.2,304.9 369.5,304.0 369.8,310.2 370.1,319.7 370.4,327.1 370.6,328.0 370.9,321.8 371.2,312.3 371.5,304.9 371.8,304.1 372.1,310.2 372.4,319.7 372.6,327.1 372.9,327.9 373.2,321.8 373.5,312.3 373.8,304.9 374.1,304.1 374.4,310.2 374.6,319.7 374.9,327.1 375.2,327.9 375.5,321.8 375.8,312.3 376.1,304.9 376.4,304.1 376.6,310.2 376.9,319.7 377.2,327.1 377.5,327.9 377.8,321.8 378.1,312.3 378.4,304.9 378.6,304.1 378.9,310.2 379.2,319.7 379.5,327.1 379.8,327.9 380.1,321.8 380.3,312.3 380.6,304.9 380.9,304.1 381.2,310.2 381.5,319.8 381.8,327.1 382.1,327.9 382.3,321.8 382.6,312.2 382.9,304.9 383.2,304.1 383.5,310.2 383.8,319.8 384.1,327.1 384.3,327.9 384.6,321.8 384.9,312.2 385.2,304.9 385.5,304.1 385.8,310.2 386.1,319.8 386.3,327.1 386.6,327.9 386.9,321.7 387.2,312.2 387.5,304.9 387.8,304.1 388.0,310.3 388.3,319.8 388.6,327.1 388.9,327.9 389.2,321.7 389.5,312.2 389.8,304.9 390.0,304.1 390.3,310.3 390.6,319.8 390.9,327.1 391.2,327.9 391.5,321.7 391.8,312.2 392.0,304.9 392.3,304.1 392.6,310.3 392.9,319.8 393.2,327.1 393.5,327.9 393.8,321.7 394.0,312.2 394.3,304.9 394.6,304.1 394.9,310.3 395.2,319.8 395.5,327.1 395.8,327.9 396.0,321.7 396.3,312.2 396.6,304.9 396.9,304.1 397.2,310.3 397.5,319.9 397.7,327.1 398.0,327.9 398.3,321.7 398.6,312.1 398.9,304.9 399.2,304.1 399.5,310.3 399.7,319.9 400.0,327.2 400.3,328.0 400.6,321.7 400.9,312.1 401.2,304.7 401.5,303.9 401.7,310.2 402.0,320.0 402.3,327.4 402.6,328.2 402.9,321.8 403.2,312.0 403.5,304.5 403.7,303.7 404.0,310.2 404.3,320.0 404.6,327.6 404.9,328.4 405.2,321.9 405.4,311.9 405.7,304.3 406.0,303.6 406.3,310.1 406.6,320.1 406.9,327.8 407.2,328.5 407.4,321.9 407.7,311.8 408.0,304.2 408.3,303.4 408.6,310.0 408.9,320.2 409.2,327.9 409.4,328.7 409.7,322.0 410.0,311.8 410.3,304.0 410.6,303.2 410.9,309.9 411.2,320.3 411.4,328.1 411.7,328.9 412.0,322.1 412.3,311.7 412.6,303.8 412.9,303.0 413.1,309.9 413.4,320.3 413.7,328.3 414.0,329.1 414.3,322.2 414.6,311.6 414.9,303.6 415.1,302.9 415.4,309.8 415.7,320.4 416.0,328.5 416.3,329.2 416.6,322.2 416.9,311.5 417.1,303.4 417.4,302.7 417.7,309.7 418.0,320.5 418.3,328.6 418.6,329.4 418.9,322.3 419.1,311.5 419.4,303.3 419.7,302.5 420.0,309.7 420.3,320.6 420.6,328.8 420.9,329.6 421.1,322.4 421.4,311.4 421.7,303.1 422.0,302.3 422.3,309.6 422.6,320.6 422.8,329.0 423.1,329.7 423.4,322.4 423.7,311.3 424.0,302.9 424.3,302.2 424.6,309.5 424.8,320.7 425.1,329.2 425.4,329.9 425.7,322.5 426.0,311.2 426.3,302.7 426.6,302.0 426.8,309.5 427.1,320.8 427.4,329.4 427.7,330.1 428.0,322.6 428.3,311.2 428.6,302.6 428.8,301.8 429.1,309.4 429.4,320.9 429.7,329.5 430.0,330.3 430.3,322.6 430.5,311.1 430.8,302.4 431.1,301.6 431.4,309.3 431.7,321.0 432.0,329.7 432.3,330.4 432.5,322.7 432.8,311.0 433.1,302.2 433.4,301.5 433.7,309.3 434.0,321.0 434.3,329.9 434.5,330.6 434.8,322.8 435.1,310.9 435.4,302.0 435.7,301.3 436.0,309.2 436.3,321.1 436.5,330.1 436.8,330.8 437.1,322.8 437.4,310.8 437.7,301.8 438.0,301.1 438.2,309.1 438.5,321.2 438.8,330.2 439.1,331.0 439.4,322.9 439.7,310.8 440.0,301.7 440.2,301.0 440.5,309.1 440.8,321.3 441.1,330.4 441.4,331.1 441.7,323.0 442.0,310.7 442.2,301.5 442.5,300.8 442.8,309.0 443.1,321.4 443.4,330.6 443.7,331.3 444.0,323.0 444.2,310.6 444.5,301.3 444.8,300.6 445.1,308.9 445.4,321.4 445.7,330.8 446.0,331.5 446.2,323.1 446.5,310.5 446.8,301.1 447.1,300.4 447.4,308.9 447.7,321.5 447.9,331.0 448.2,331.6 448.5,323.2 448.8,310.4 449.1,300.9 449.4,300.3 449.7,308.8 449.9,321.6 450.2,331.1 450.5,331.8 450.8,323.2 451.1,310.3 451.4,300.8 451.7,300.1 451.9,308.8 452.2,321.7 452.5,331.3 452.8,332.0 453.1,323.3 453.4,310.3 453.7,300.6 453.9,299.9 454.2,308.7 454.5,321.8 454.8,331.5 455.1,332.2 455.4,323.3 455.6,310.2 455.9,300.4 456.2,299.8 456.5,308.6 456.8,321.9 457.1,331.7 457.4,332.3 457.6,323.4 457.9,310.1 458.2,300.2 458.5,299.6 458.8,308.6 459.1,321.9 459.4,331.9 459.6,332.5 459.9,323.5 460.2,310.0 460.5,300.0 460.8,299.4 461.1,308.5 461.4,322.0 461.6,332.0 461.9,332.7 462.2,323.5 462.5,309.9 462.8,299.9 463.1,299.2 463.4,308.4 463.6,322.1 463.9,332.2 464.2,332.8 464.5,323.6 464.8,309.8 465.1,299.7 465.3,299.1 465.6,308.4 465.9,322.2 466.2,332.4 466.5,333.0 466.8,323.6 467.1,309.8 467.3,299.5 467.6,298.9 467.9,308.3 468.2,322.3 468.5,332.5 468.8,333.1 469.1,323.6 469.3,309.7 469.6,299.5 469.9,298.9 470.2,308.4 470.5,322.3 470.8,332.5 471.1,333.1 471.3,323.6 471.6,309.7 471.9,299.5 472.2,298.9 472.5,308.4 472.8,322.3 473.0,332.5 473.3,333.1 473.6,323.6 473.9,309.7 474.2,299.5 474.5,298.9 474.8,308.4 475.0,322.3 475.3,332.5 475.6,333.1 475.9,323.6 476.2,309.7 476.5,299.5 476.8,298.9 477.0,308.4 477.3,322.3 477.6,332.5 477.9,333.0 478.2,323.6 478.5,309.6 478.8,299.5 479.0,299.0 479.3,308.4 479.6,322.4 479.9,332.6 480.2,333.0 480.5,323.5 480.7,309.6 481.0,299.4 481.3,299.0 481.6,308.5 481.9,322.4 482.2,332.6 482.5,333.0 482.7,323.5 483.0,309.6 483.3,299.4 483.6,299.0 483.9,308.5 484.2,322.4 484.5,332.6 484.7,333.0 485.0,323.5 485.3,309.6 485.6,299.4 485.9,299.0 486.2,308.5 486.5,322.4 486.7,332.6 487.0,333.0 487.3,323.5 487.6,309.6 487.9,299.4 488.2,299.0 488.5,308.5 488.7,322.4 489.0,332.6 489.3,333.0 489.6,323.5 489.9,309.5 490.2,299.4 490.4,299.0 490.7,308.5 491.0,322.5 491.3,332.6 491.6,333.0 491.9,323.4 492.2,309.5 492.4,299.4 492.7,299.0 493.0,308.6 493.3,322.5 493.6,332.6 493.9,333.0 494.2,323.4 494.4,309.5 494.7,299.4 495.0,299.0 495.3,308.6 495.6,322.5 495.9,332.6 496.2,333.0 496.4,323.4 496.7,309.5 497.0,299.4 497.3,299.0 497.6,308.6 497.9,322.5 498.1,332.6 498.4,333.0 498.7,323.4 499.0,309.5 499.3,299.4 499.6,299.0 499.9,308.6 500.1,322.6 500.4,332.6 500.7,333.0 501.0,323.4 501.3,309.4 501.6,299.4 501.9,299.0 502.1,308.6 502.4,322.6 502.7,332.6 503.0,333.0 503.3,323.3 503.6,309.4 503.9,299.4 504.1,299.0 504.4,308.7 504.7,322.6 505.0,332.7 505.3,333.0 505.6,323.3 505.9,309.4 506.1,299.3 506.4,299.1 506.7,308.7 507.0,322.6 507.3,332.7 507.6,332.9 507.8,323.3 508.1,309.4 508.4,299.3 508.7,299.1 509.0,308.7 509.3,322.6 509.6,332.7 509.8,332.9 510.1,323.3 510.4,309.4 510.7,299.3 511.0,299.1 511.3,308.7 511.6,322.7 511.8,332.7 512.1,332.9 512.4,323.3 512.7,309.3 513.0,299.3 513.3,299.1 513.6,308.8 513.8,322.7 514.1,332.7 514.4,332.9 514.7,323.2 515.0,309.3 515.3,299.3 515.5,299.1 515.8,308.8 516.1,322.7 516.4,332.7 516.7,332.9 517.0,323.2 517.3,309.3 517.5,299.3 517.8,299.1 518.1,308.8 518.4,322.7 518.7,332.7 519.0,332.9 519.3,323.2 519.5,309.3 519.8,299.3 520.1,299.1 520.4,308.8 520.7,322.7 521.0,332.7 521.3,332.9 521.5,323.2 521.8,309.3 522.1,299.3 522.4,299.1 522.7,308.8 523.0,322.8 523.2,332.7 523.5,332.9 523.8,323.2 524.1,309.2 524.4,299.3 524.7,299.1 525.0,308.9 525.2,322.8 525.5,332.7 525.8,332.9 526.1,323.1 526.4,309.2 526.7,299.3 527.0,299.1 527.2,308.9 527.5,322.8 527.8,332.7 528.1,332.9 528.4,323.1 528.7,309.2 529.0,299.3 529.2,299.1 529.5,308.9 529.8,322.8 530.1,332.7 530.4,332.9 530.7,323.1 531.0,309.2 531.2,299.2 531.5,299.1 531.8,308.9 532.1,322.8 532.4,332.8 532.7,332.9 532.9,323.1 533.2,309.1 533.5,299.2 533.8,299.1 534.1,308.9 534.4,322.9 534.7,332.8 534.9,332.8 535.2,323.1 535.5,309.1 535.8,299.2" fill="none" stroke="#00fafa" stroke-width="1.05" stroke-linejoin="round"/>
<text transform="translate(56.7,418.4) scale(1.18,1)" font-size="15.8" font-weight="bold" text-anchor="middle" fill="#000">0</text>
<text transform="translate(125.1,418.4) scale(1.18,1)" font-size="15.8" font-weight="bold" text-anchor="middle" fill="#000">0.5</text>
<text transform="translate(193.6,418.4) scale(1.18,1)" font-size="15.8" font-weight="bold" text-anchor="middle" fill="#000">1</text>
<text transform="translate(262,418.4) scale(1.18,1)" font-size="15.8" font-weight="bold" text-anchor="middle" fill="#000">1.5</text>
<text transform="translate(330.5,418.4) scale(1.18,1)" font-size="15.8" font-weight="bold" text-anchor="middle" fill="#000">2</text>
<text transform="translate(398.9,418.4) scale(1.18,1)" font-size="15.8" font-weight="bold" text-anchor="middle" fill="#000">2.5</text>
<text transform="translate(467.4,418.4) scale(1.18,1)" font-size="15.8" font-weight="bold" text-anchor="middle" fill="#000">3</text>
<text transform="translate(535.8,418.4) scale(1.18,1)" font-size="15.8" font-weight="bold" text-anchor="middle" fill="#000">3.5</text>
<text transform="translate(50.7,284.5) scale(1.18,1)" font-size="15.8" font-weight="bold" text-anchor="end" fill="#000">10</text>
<text transform="translate(50.7,322.4) scale(1.18,1)" font-size="15.8" font-weight="bold" text-anchor="end" fill="#000">0</text>
<text transform="translate(50.7,360.3) scale(1.18,1)" font-size="15.8" font-weight="bold" text-anchor="end" fill="#000">-10</text>
<text transform="translate(50.7,398.2) scale(1.18,1)" font-size="15.8" font-weight="bold" text-anchor="end" fill="#000">-20</text>
<text transform="translate(298.9,447) scale(1.145,1)" font-size="18.1" font-weight="bold" text-anchor="middle" fill="#000">Time (Sec)</text>
<text transform="translate(19.2,319.6) scale(1.0,1) rotate(-90)" font-size="18.8" font-weight="bold" text-anchor="middle" fill="#000">Grid Iabc (PSO)</text>
</g>
<rect x="470.3" y="256.2" width="55.8" height="31.3" fill="#fff" stroke="#3a3a3a" stroke-width="1"/>
<line x1="472.3" y1="262.3" x2="486.6" y2="262.3" stroke="#ffee00" stroke-width="1.2"/>
<text transform="translate(491.1,265.1) scale(1.0,1)" font-size="8.9" font-weight="bold" text-anchor="start" fill="#000">Phase</text>
<text transform="translate(519.4,265.1) scale(1.0,1)" font-size="8.9" font-weight="bold" text-anchor="start" fill="#000">a</text>
<line x1="472.3" y1="272.5" x2="486.6" y2="272.5" stroke="#ff1a1a" stroke-width="1.2"/>
<text transform="translate(491.1,275.3) scale(1.0,1)" font-size="8.9" font-weight="bold" text-anchor="start" fill="#000">Phase</text>
<text transform="translate(519,275.3) scale(1.0,1)" font-size="8.9" font-weight="bold" text-anchor="start" fill="#000">b</text>
<line x1="472.3" y1="282.7" x2="486.6" y2="282.7" stroke="#00fafa" stroke-width="1.2"/>
<text transform="translate(491.1,285.5) scale(1.0,1)" font-size="8.9" font-weight="bold" text-anchor="start" fill="#000">Phase</text>
<text transform="translate(519.4,285.5) scale(1.0,1)" font-size="8.9" font-weight="bold" text-anchor="start" fill="#000">c</text>
<clipPath id="cb"><rect x="269.5" y="333.9" width="179.9" height="45.5"/></clipPath>
<rect x="269.5" y="333.9" width="179.9" height="45.5" fill="#fff"/>
<line x1="269.5" y1="353.9" x2="449.4" y2="353.9" stroke="#dedede" stroke-width="1.5"/>
<line x1="330.5" y1="333.9" x2="330.5" y2="379.4" stroke="#dedede" stroke-width="1.8"/>
<line x1="398.9" y1="333.9" x2="398.9" y2="379.4" stroke="#dedede" stroke-width="1.8"/>
<line x1="281.3" y1="333.9" x2="281.3" y2="379.4" stroke="#e6e6e6" stroke-width="1"/>
<line x1="317.6" y1="333.9" x2="317.6" y2="379.4" stroke="#e6e6e6" stroke-width="1"/>
<line x1="353.8" y1="333.9" x2="353.8" y2="379.4" stroke="#e6e6e6" stroke-width="1"/>
<line x1="390.1" y1="333.9" x2="390.1" y2="379.4" stroke="#e6e6e6" stroke-width="1"/>
<line x1="426.3" y1="333.9" x2="426.3" y2="379.4" stroke="#e6e6e6" stroke-width="1"/>
<line x1="269.5" y1="370.9" x2="449.4" y2="370.9" stroke="#e6e6e6" stroke-width="1"/>
<line x1="269.5" y1="356.8" x2="449.4" y2="356.8" stroke="#e6e6e6" stroke-width="1"/>
<line x1="269.5" y1="342.7" x2="449.4" y2="342.7" stroke="#e6e6e6" stroke-width="1"/>
<g clip-path="url(#cb)">
<polyline points="269.5,367.6 270.0,364.5 270.5,360.7 271.0,356.8 271.5,352.8 272.0,349.1 272.5,345.9 273.0,343.5 273.5,341.9 274.0,341.4 274.5,342.0 275.0,343.5 275.5,346.0 276.1,349.2 276.6,352.9 277.1,356.9 277.6,360.9 278.1,364.6 278.6,367.7 279.1,370.2 279.6,371.7 280.1,372.2 280.6,371.6 281.1,370.1 281.6,367.6 282.1,364.4 282.6,360.7 283.1,356.7 283.6,352.7 284.1,349.0 284.6,345.8 285.1,343.4 285.6,341.8 286.1,341.3 286.6,341.9 287.1,343.5 287.6,345.9 288.1,349.2 288.6,352.9 289.2,356.9 289.7,361.0 290.2,364.7 290.7,367.9 291.2,370.4 291.7,371.9 292.2,372.4 292.7,371.8 293.2,370.2 293.7,367.7 294.2,364.5 294.7,360.7 295.2,356.6 295.7,352.6 296.2,348.8 296.7,345.6 297.2,343.1 297.7,341.6 298.2,341.1 298.7,341.7 299.2,343.3 299.7,345.8 300.2,349.1 300.7,352.9 301.2,357.0 301.8,361.1 302.3,364.8 302.8,367.8 303.3,370.0 303.8,371.3 304.3,371.6 304.8,370.8 305.3,369.1 305.8,366.7 306.3,363.6 306.8,360.1 307.3,356.6 307.8,353.1 308.3,350.0 308.8,347.5 309.3,345.6 309.8,344.6 310.3,344.4 310.8,344.9 311.3,346.2 311.8,348.2 312.3,350.8 312.8,353.8 313.3,357.0 313.8,360.2 314.3,363.2 314.9,365.7 315.4,367.6 315.9,368.8 316.4,369.1 316.9,368.6 317.4,367.3 317.9,365.3 318.4,362.7 318.9,359.7 319.4,356.5 319.9,353.4 320.4,350.4 320.9,348.0 321.4,346.1 321.9,344.9 322.4,344.6 322.9,345.1 323.4,346.4 323.9,348.4 324.4,351.0 324.9,353.9 325.4,357.1 325.9,360.2 326.4,363.1 326.9,365.6 327.5,367.4 328.0,368.6 328.5,368.9 329.0,368.4 329.5,367.1 330.0,365.1 330.5,362.6 331.0,359.6 331.5,356.5 332.0,353.4 332.5,350.5 333.0,348.1 333.5,346.2 334.0,345.1 334.5,344.8 335.0,345.3 335.5,346.6 336.0,348.6 336.5,351.1 337.0,354.0 337.5,357.1 338.0,360.2 338.5,363.1 339.0,365.5 339.5,367.3 340.0,368.4 340.6,368.7 341.1,368.2 341.6,366.9 342.1,365.0 342.6,362.4 343.1,359.5 343.6,356.4 344.1,353.4 344.6,350.6 345.1,348.2 345.6,346.4 346.1,345.3 346.6,345.0 347.1,345.5 347.6,346.8 348.1,348.7 348.6,351.2 349.1,354.1 349.6,357.2 350.1,360.2 350.6,363.0 351.1,365.4 351.6,367.2 352.1,368.2 352.6,368.5 353.2,368.0 353.7,366.7 354.2,364.8 354.7,362.3 355.2,359.4 355.7,356.4 356.2,353.4 356.7,350.6 357.2,348.3 357.7,346.5 358.2,345.4 358.7,345.2 359.2,345.7 359.7,346.9 360.2,348.9 360.7,351.4 361.2,354.2 361.7,357.2 362.2,360.2 362.7,363.0 363.2,365.3 363.7,367.0 364.2,368.1 364.7,368.4 365.2,367.8 365.7,366.6 366.3,364.6 366.8,362.2 367.3,359.3 367.8,356.3 368.3,353.4 368.8,350.6 369.3,348.3 369.8,346.6 370.3,345.6 370.8,345.3 371.3,345.8 371.8,347.1 372.3,349.0 372.8,351.5 373.3,354.3 373.8,357.3 374.3,360.2 374.8,362.9 375.3,365.2 375.8,366.9 376.3,368.0 376.8,368.2 377.3,367.7 377.8,366.4 378.3,364.5 378.9,362.1 379.4,359.3 379.9,356.3 380.4,353.4 380.9,350.7 381.4,348.4 381.9,346.7 382.4,345.7 382.9,345.5 383.4,346.0 383.9,347.3 384.4,349.2 384.9,351.6 385.4,354.4 385.9,357.3 386.4,360.2 386.9,362.9 387.4,365.2 387.9,366.8 388.4,367.8 388.9,368.2 389.4,367.9 389.9,366.7 390.4,364.9 390.9,362.4 391.4,359.4 392.0,356.2 392.5,352.9 393.0,349.7 393.5,347.0 394.0,344.8 394.5,343.4 395.0,342.9 395.5,343.5 396.0,345.1 396.5,347.4 397.0,350.4 397.5,353.9 398.0,357.5 398.5,361.1 399.0,364.4 399.5,367.2 400.0,369.2 400.5,370.5 401.0,370.7 401.5,370.1 402.0,368.5 402.5,366.1 403.0,363.1 403.5,359.7 404.0,356.0 404.6,352.5 405.1,349.2 405.6,346.4 406.1,344.3 406.6,343.1 407.1,342.9 407.6,343.5 408.1,345.1 408.6,347.5 409.1,350.5 409.6,353.9 410.1,357.6 410.6,361.2 411.1,364.5 411.6,367.2 412.1,369.3 412.6,370.5 413.1,370.7 413.6,370.1 414.1,368.5 414.6,366.1 415.1,363.1 415.6,359.6 416.1,356.0 416.6,352.4 417.1,349.1 417.7,346.4 418.2,344.3 418.7,343.1 419.2,342.9 419.7,343.6 420.2,345.2 420.7,347.5 421.2,350.6 421.7,354.0 422.2,357.6 422.7,361.2 423.2,364.5 423.7,367.3 424.2,369.3 424.7,370.5 425.2,370.7 425.7,370.0 426.2,368.4 426.7,366.0 427.2,363.0 427.7,359.6 428.2,355.9 428.7,352.3 429.2,349.1 429.7,346.3 430.3,344.3 430.8,343.1 431.3,342.9 431.8,343.6 432.3,345.2 432.8,347.6 433.3,350.6 433.8,354.1 434.3,357.7 434.8,361.3 435.3,364.6 435.8,367.3 436.3,369.3 436.8,370.5 437.3,370.7 437.8,370.0 438.3,368.4 438.8,366.0 439.3,363.0 439.8,359.5 440.3,355.9 440.8,352.3 441.3,349.0 441.8,346.3 442.3,344.3 442.8,343.1 443.4,342.9 443.9,343.6 444.4,345.2 444.9,347.6 445.4,350.7 445.9,354.1 446.4,357.8 446.9,361.4 447.4,364.6 447.9,367.3 448.4,369.4 448.9,370.5 449.4,370.7" fill="none" stroke="#ffee00" stroke-width="1.05" stroke-linejoin="round"/>
<polyline points="269.5,360.8 270.0,364.5 270.5,367.7 271.0,370.1 271.5,371.7 272.0,372.2 272.5,371.6 273.0,370.1 273.5,367.6 274.0,364.4 274.5,360.7 275.0,356.7 275.5,352.8 276.1,349.1 276.6,345.9 277.1,343.5 277.6,341.9 278.1,341.4 278.6,342.0 279.1,343.5 279.6,346.0 280.1,349.2 280.6,352.9 281.1,356.9 281.6,360.9 282.1,364.6 282.6,367.8 283.1,370.2 283.6,371.7 284.1,372.2 284.6,371.7 285.1,370.1 285.6,367.6 286.1,364.4 286.6,360.7 287.1,356.7 287.6,352.7 288.1,348.9 288.6,345.7 289.2,343.3 289.7,341.7 290.2,341.2 290.7,341.8 291.2,343.4 291.7,345.9 292.2,349.1 292.7,352.9 293.2,357.0 293.7,361.0 294.2,364.8 294.7,368.0 295.2,370.5 295.7,372.0 296.2,372.5 296.7,371.9 297.2,370.3 297.7,367.8 298.2,364.5 298.7,360.7 299.2,356.6 299.7,352.5 300.2,348.7 300.7,345.5 301.2,343.0 301.8,341.5 302.3,341.3 302.8,342.0 303.3,343.8 303.8,346.4 304.3,349.6 304.8,353.3 305.3,357.0 305.8,360.7 306.3,364.0 306.8,366.7 307.3,368.7 307.8,369.8 308.3,370.0 308.8,369.3 309.3,367.8 309.8,365.6 310.3,362.8 310.8,359.8 311.3,356.6 311.8,353.4 312.3,350.4 312.8,347.9 313.3,346.0 313.8,344.8 314.3,344.5 314.9,345.0 315.4,346.2 315.9,348.3 316.4,350.9 316.9,353.9 317.4,357.1 317.9,360.2 318.4,363.2 318.9,365.7 319.4,367.5 319.9,368.7 320.4,369.0 320.9,368.5 321.4,367.3 321.9,365.2 322.4,362.7 322.9,359.7 323.4,356.5 323.9,353.4 324.4,350.5 324.9,348.0 325.4,346.1 325.9,345.0 326.4,344.7 326.9,345.2 327.5,346.4 328.0,348.4 328.5,351.0 329.0,354.0 329.5,357.1 330.0,360.2 330.5,363.1 331.0,365.6 331.5,367.4 332.0,368.5 332.5,368.8 333.0,368.3 333.5,367.1 334.0,365.1 334.5,362.5 335.0,359.6 335.5,356.5 336.0,353.4 336.5,350.5 337.0,348.1 337.5,346.3 338.0,345.2 338.5,344.9 339.0,345.4 339.5,346.6 340.0,348.6 340.6,351.1 341.1,354.1 341.6,357.2 342.1,360.2 342.6,363.1 343.1,365.4 343.6,367.3 344.1,368.3 344.6,368.6 345.1,368.1 345.6,366.9 346.1,364.9 346.6,362.4 347.1,359.5 347.6,356.4 348.1,353.4 348.6,350.6 349.1,348.2 349.6,346.4 350.1,345.3 350.6,345.1 351.1,345.6 351.6,346.8 352.1,348.8 352.6,351.3 353.2,354.2 353.7,357.2 354.2,360.2 354.7,363.0 355.2,365.3 355.7,367.1 356.2,368.2 356.7,368.5 357.2,367.9 357.7,366.7 358.2,364.7 358.7,362.3 359.2,359.4 359.7,356.4 360.2,353.4 360.7,350.6 361.2,348.3 361.7,346.5 362.2,345.5 362.7,345.2 363.2,345.7 363.7,347.0 364.2,348.9 364.7,351.4 365.2,354.2 365.7,357.3 366.3,360.2 366.8,363.0 367.3,365.3 367.8,367.0 368.3,368.0 368.8,368.3 369.3,367.8 369.8,366.5 370.3,364.6 370.8,362.1 371.3,359.3 371.8,356.3 372.3,353.4 372.8,350.7 373.3,348.4 373.8,346.6 374.3,345.6 374.8,345.4 375.3,345.9 375.8,347.2 376.3,349.1 376.8,351.5 377.3,354.3 377.8,357.3 378.3,360.2 378.9,362.9 379.4,365.2 379.9,366.9 380.4,367.9 380.9,368.2 381.4,367.6 381.9,366.4 382.4,364.5 382.9,362.0 383.4,359.2 383.9,356.3 384.4,353.4 384.9,350.7 385.4,348.4 385.9,346.7 386.4,345.8 386.9,345.5 387.4,346.0 387.9,347.3 388.4,349.2 388.9,351.6 389.4,354.3 389.9,357.4 390.4,360.5 390.9,363.4 391.4,366.0 392.0,368.0 392.5,369.4 393.0,369.8 393.5,369.4 394.0,368.1 394.5,366.0 395.0,363.1 395.5,359.7 396.0,356.1 396.5,352.5 397.0,349.2 397.5,346.4 398.0,344.4 398.5,343.1 399.0,342.9 399.5,343.5 400.0,345.1 400.5,347.5 401.0,350.5 401.5,353.9 402.0,357.5 402.5,361.1 403.0,364.4 403.5,367.2 404.0,369.2 404.6,370.5 405.1,370.7 405.6,370.1 406.1,368.5 406.6,366.1 407.1,363.1 407.6,359.7 408.1,356.0 408.6,352.4 409.1,349.2 409.6,346.4 410.1,344.3 410.6,343.1 411.1,342.9 411.6,343.5 412.1,345.1 412.6,347.5 413.1,350.5 413.6,354.0 414.1,357.6 414.6,361.2 415.1,364.5 415.6,367.2 416.1,369.3 416.6,370.5 417.1,370.7 417.7,370.0 418.2,368.5 418.7,366.1 419.2,363.0 419.7,359.6 420.2,356.0 420.7,352.4 421.2,349.1 421.7,346.4 422.2,344.3 422.7,343.1 423.2,342.9 423.7,343.6 424.2,345.2 424.7,347.6 425.2,350.6 425.7,354.0 426.2,357.7 426.7,361.2 427.2,364.5 427.7,367.3 428.2,369.3 428.7,370.5 429.2,370.7 429.7,370.0 430.3,368.4 430.8,366.0 431.3,363.0 431.8,359.5 432.3,355.9 432.8,352.3 433.3,349.0 433.8,346.3 434.3,344.3 434.8,343.1 435.3,342.9 435.8,343.6 436.3,345.2 436.8,347.6 437.3,350.6 437.8,354.1 438.3,357.7 438.8,361.3 439.3,364.6 439.8,367.3 440.3,369.3 440.8,370.5 441.3,370.7 441.8,370.0 442.3,368.4 442.8,366.0 443.4,362.9 443.9,359.5 444.4,355.8 444.9,352.3 445.4,349.0 445.9,346.3 446.4,344.3 446.9,343.1 447.4,342.9 447.9,343.6 448.4,345.2 448.9,347.7 449.4,350.7" fill="none" stroke="#ff1a1a" stroke-width="1.05" stroke-linejoin="round"/>
<polyline points="269.5,341.9 270.0,341.4 270.5,342.0 271.0,343.5 271.5,346.0 272.0,349.2 272.5,352.9 273.0,356.9 273.5,360.8 274.0,364.5 274.5,367.7 275.0,370.1 275.5,371.7 276.1,372.2 276.6,371.6 277.1,370.1 277.6,367.6 278.1,364.4 278.6,360.7 279.1,356.7 279.6,352.7 280.1,349.0 280.6,345.9 281.1,343.4 281.6,341.9 282.1,341.4 282.6,342.0 283.1,343.5 283.6,346.0 284.1,349.2 284.6,352.9 285.1,356.9 285.6,360.9 286.1,364.6 286.6,367.8 287.1,370.3 287.6,371.8 288.1,372.3 288.6,371.8 289.2,370.2 289.7,367.7 290.2,364.4 290.7,360.7 291.2,356.6 291.7,352.6 292.2,348.9 292.7,345.6 293.2,343.2 293.7,341.7 294.2,341.2 294.7,341.7 295.2,343.3 295.7,345.9 296.2,349.1 296.7,352.9 297.2,357.0 297.7,361.1 298.2,364.8 298.7,368.1 299.2,370.5 299.7,372.1 300.2,372.6 300.7,372.0 301.2,370.4 301.8,367.8 302.3,364.4 302.8,360.6 303.3,356.6 303.8,352.7 304.3,349.2 304.8,346.3 305.3,344.2 305.8,343.1 306.3,342.8 306.8,343.5 307.3,345.1 307.8,347.5 308.3,350.4 308.8,353.7 309.3,357.0 309.8,360.3 310.3,363.2 310.8,365.7 311.3,367.6 311.8,368.8 312.3,369.2 312.8,368.7 313.3,367.4 313.8,365.4 314.3,362.8 314.9,359.8 315.4,356.6 315.9,353.4 316.4,350.4 316.9,347.9 317.4,346.0 317.9,344.9 318.4,344.5 318.9,345.0 319.4,346.3 319.9,348.3 320.4,350.9 320.9,353.9 321.4,357.1 321.9,360.2 322.4,363.1 322.9,365.6 323.4,367.5 323.9,368.6 324.4,369.0 324.9,368.5 325.4,367.2 325.9,365.2 326.4,362.6 326.9,359.7 327.5,356.5 328.0,353.4 328.5,350.5 329.0,348.0 329.5,346.2 330.0,345.0 330.5,344.7 331.0,345.2 331.5,346.5 332.0,348.5 332.5,351.1 333.0,354.0 333.5,357.1 334.0,360.2 334.5,363.1 335.0,365.5 335.5,367.4 336.0,368.5 336.5,368.8 337.0,368.3 337.5,367.0 338.0,365.0 338.5,362.5 339.0,359.6 339.5,356.5 340.0,353.4 340.6,350.5 341.1,348.1 341.6,346.3 342.1,345.2 342.6,344.9 343.1,345.4 343.6,346.7 344.1,348.7 344.6,351.2 345.1,354.1 345.6,357.2 346.1,360.2 346.6,363.0 347.1,365.4 347.6,367.2 348.1,368.3 348.6,368.6 349.1,368.1 349.6,366.8 350.1,364.8 350.6,362.3 351.1,359.5 351.6,356.4 352.1,353.4 352.6,350.6 353.2,348.2 353.7,346.5 354.2,345.4 354.7,345.1 355.2,345.6 355.7,346.9 356.2,348.8 356.7,351.3 357.2,354.2 357.7,357.2 358.2,360.2 358.7,363.0 359.2,365.3 359.7,367.1 360.2,368.1 360.7,368.4 361.2,367.9 361.7,366.6 362.2,364.7 362.7,362.2 363.2,359.4 363.7,356.4 364.2,353.4 364.7,350.6 365.2,348.3 365.7,346.6 366.3,345.5 366.8,345.3 367.3,345.8 367.8,347.0 368.3,349.0 368.8,351.4 369.3,354.3 369.8,357.3 370.3,360.2 370.8,363.0 371.3,365.3 371.8,367.0 372.3,368.0 372.8,368.3 373.3,367.7 373.8,366.5 374.3,364.5 374.8,362.1 375.3,359.3 375.8,356.3 376.3,353.4 376.8,350.7 377.3,348.4 377.8,346.7 378.3,345.7 378.9,345.4 379.4,345.9 379.9,347.2 380.4,349.1 380.9,351.6 381.4,354.4 381.9,357.3 382.4,360.2 382.9,362.9 383.4,365.2 383.9,366.9 384.4,367.9 384.9,368.1 385.4,367.6 385.9,366.3 386.4,364.4 386.9,362.0 387.4,359.2 387.9,356.3 388.4,353.4 388.9,350.6 389.4,348.2 389.9,346.3 390.4,345.1 390.9,344.6 391.4,345.0 392.0,346.2 392.5,348.2 393.0,350.8 393.5,354.0 394.0,357.5 394.5,361.0 395.0,364.3 395.5,367.2 396.0,369.2 396.5,370.4 397.0,370.7 397.5,370.1 398.0,368.5 398.5,366.1 399.0,363.1 399.5,359.7 400.0,356.1 400.5,352.5 401.0,349.2 401.5,346.4 402.0,344.4 402.5,343.1 403.0,342.9 403.5,343.5 404.0,345.1 404.6,347.5 405.1,350.5 405.6,353.9 406.1,357.6 406.6,361.1 407.1,364.4 407.6,367.2 408.1,369.3 408.6,370.5 409.1,370.7 409.6,370.1 410.1,368.5 410.6,366.1 411.1,363.1 411.6,359.6 412.1,356.0 412.6,352.4 413.1,349.1 413.6,346.4 414.1,344.3 414.6,343.1 415.1,342.9 415.6,343.5 416.1,345.1 416.6,347.5 417.1,350.5 417.7,354.0 418.2,357.6 418.7,361.2 419.2,364.5 419.7,367.2 420.2,369.3 420.7,370.5 421.2,370.7 421.7,370.0 422.2,368.4 422.7,366.1 423.2,363.0 423.7,359.6 424.2,355.9 424.7,352.4 425.2,349.1 425.7,346.3 426.2,344.3 426.7,343.1 427.2,342.9 427.7,343.6 428.2,345.2 428.7,347.6 429.2,350.6 429.7,354.1 430.3,357.7 430.8,361.3 431.3,364.5 431.8,367.3 432.3,369.3 432.8,370.5 433.3,370.7 433.8,370.0 434.3,368.4 434.8,366.0 435.3,363.0 435.8,359.5 436.3,355.9 436.8,352.3 437.3,349.0 437.8,346.3 438.3,344.3 438.8,343.1 439.3,342.9 439.8,343.6 440.3,345.2 440.8,347.6 441.3,350.7 441.8,354.1 442.3,357.8 442.8,361.3 443.4,364.6 443.9,367.3 444.4,369.3 444.9,370.5 445.4,370.7 445.9,370.0 446.4,368.4 446.9,366.0 447.4,362.9 447.9,359.5 448.4,355.8 448.9,352.2 449.4,349.0" fill="none" stroke="#00fafa" stroke-width="1.05" stroke-linejoin="round"/>
</g>
<rect x="269.5" y="333.9" width="179.9" height="45.5" fill="none" stroke="#a3203c" stroke-width="1.7"/>
<path d="M281.3 333.9v2.2M281.3 379.4v-2.2" stroke="#a3203c" stroke-width="1.2"/>
<text transform="translate(281.3,393.4) scale(1.2,1)" font-size="10.0" font-weight="bold" text-anchor="middle" fill="#a3203c">0.6</text>
<path d="M317.6 333.9v2.2M317.6 379.4v-2.2" stroke="#a3203c" stroke-width="1.2"/>
<text transform="translate(317.6,393.4) scale(1.2,1)" font-size="10.0" font-weight="bold" text-anchor="middle" fill="#a3203c">0.65</text>
<path d="M353.8 333.9v2.2M353.8 379.4v-2.2" stroke="#a3203c" stroke-width="1.2"/>
<text transform="translate(353.8,393.4) scale(1.2,1)" font-size="10.0" font-weight="bold" text-anchor="middle" fill="#a3203c">0.7</text>
<path d="M390.1 333.9v2.2M390.1 379.4v-2.2" stroke="#a3203c" stroke-width="1.2"/>
<text transform="translate(390.1,393.4) scale(1.2,1)" font-size="10.0" font-weight="bold" text-anchor="middle" fill="#a3203c">0.75</text>
<path d="M426.3 333.9v2.2M426.3 379.4v-2.2" stroke="#a3203c" stroke-width="1.2"/>
<text transform="translate(426.3,393.4) scale(1.2,1)" font-size="10.0" font-weight="bold" text-anchor="middle" fill="#a3203c">0.8</text>
<path d="M269.5 370.9h2M449.4 370.9h-2" stroke="#a3203c" stroke-width="1"/>
<text transform="translate(266.6,374.3) scale(1.2,1)" font-size="10.0" font-weight="bold" text-anchor="end" fill="#a3203c">-5</text>
<path d="M269.5 356.8h2M449.4 356.8h-2" stroke="#a3203c" stroke-width="1"/>
<text transform="translate(266.6,360.2) scale(1.2,1)" font-size="10.0" font-weight="bold" text-anchor="end" fill="#a3203c">0</text>
<path d="M269.5 342.7h2M449.4 342.7h-2" stroke="#a3203c" stroke-width="1"/>
<text transform="translate(266.6,346.1) scale(1.2,1)" font-size="10.0" font-weight="bold" text-anchor="end" fill="#a3203c">5</text>
<line x1="153.3" y1="336.9" x2="263.8" y2="376.9" stroke="#a3203c" stroke-width="1.6"/>
<polygon points="269.0,378.8 263.1,378.8 264.5,375.0" fill="#a3203c"/>
<text transform="translate(277.3,223.5) scale(0.9,1)" font-size="16.5" font-weight="normal" text-anchor="middle" fill="#000">(<tspan font-weight="bold">a</tspan>)</text>
<text transform="translate(277.3,483.8) scale(0.9,1)" font-size="16.8" font-weight="normal" text-anchor="middle" fill="#000">(<tspan font-weight="bold">b</tspan>)</text>
</svg>
</body></html>
